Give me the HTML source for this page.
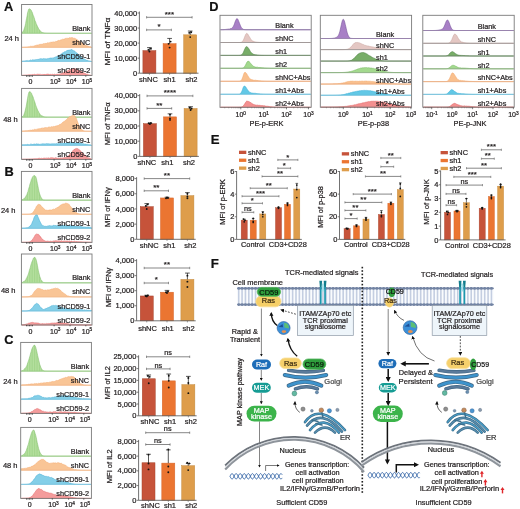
<!DOCTYPE html>
<html><head><meta charset="utf-8"><title>Figure</title>
<style>html,body{margin:0;padding:0;background:#fff;width:520px;height:509px;overflow:hidden}
svg{display:block} text{font-family:"Liberation Sans", Arial, sans-serif}</style></head>
<body><svg width="520" height="509" viewBox="0 0 520 509" fill="#231f20">
<rect width="520" height="509" fill="#fff"/>
<defs><pattern id="hatch" width="1.7" height="8" patternUnits="userSpaceOnUse"><rect width="1.7" height="8" fill="#b6e0a0"/><rect width="0.55" height="8" fill="#98cf80"/></pattern></defs>
<rect x="21.6" y="4.5" width="70.4" height="71" fill="#fff"/>
<path d="M22.1,33.3 L22.1,32.5 L22.6,32.22 L23.1,31.34 L23.6,30.53 L24.1,29.13 L24.6,27.53 L25.1,25.97 L25.6,23.73 L26.1,20.61 L26.6,18.34 L27.1,15.7 L27.6,12.71 L28.1,11.05 L28.6,9.35 L29.1,8.88 L29.6,8.75 L30.1,9.35 L30.6,9.5 L31.1,10.04 L31.6,11.19 L32.1,12.11 L32.6,13.37 L33.1,15.13 L33.6,16.04 L34.1,17.61 L34.6,19.28 L35.1,20.93 L35.6,21.76 L36.1,23.39 L36.6,24.49 L37.1,25.57 L37.6,26.77 L38.1,27.61 L38.6,28.85 L39.1,29.33 L39.6,30.25 L40.1,30.48 L40.6,31.01 L41.1,31.97 L41.6,32.28 L42.1,32.5 L42.6,32.53 L43.1,32.71 L43.6,32.85 L44.1,32.96 L44.6,33.05 L45.1,33.11 L45.6,33.16 L46.1,33.2 L46.6,33.23 L47.1,33.25 L47.6,33.26 L48.1,33.28 L48.6,33.28 L49.1,33.29 L49.6,33.29 L50.1,33.29 L50.6,33.3 L51.1,33.3 L51.6,33.3 L52.1,33.3 L52.6,33.3 L53.1,33.3 L53.6,33.3 L54.1,33.3 L54.6,33.3 L55.1,33.3 L55.6,33.3 L56.1,33.3 L56.6,33.3 L57.1,33.3 L57.6,33.3 L58.1,33.3 L58.6,33.3 L59.1,33.3 L59.6,33.3 L60.1,33.3 L60.6,33.3 L61.1,33.3 L61.6,33.3 L62.1,33.3 L62.6,33.3 L63.1,33.3 L63.6,33.3 L64.1,33.3 L64.6,33.3 L65.1,33.3 L65.6,33.3 L66.1,33.3 L66.6,33.3 L67.1,33.3 L67.6,33.3 L68.1,33.3 L68.6,33.3 L69.1,33.3 L69.6,33.3 L70.1,33.3 L70.6,33.3 L71.1,33.3 L71.6,33.3 L72.1,33.3 L72.6,33.3 L73.1,33.3 L73.6,33.3 L74.1,33.3 L74.6,33.3 L75.1,33.3 L75.6,33.3 L76.1,33.3 L76.6,33.3 L77.1,33.3 L77.6,33.3 L78.1,33.3 L78.6,33.3 L79.1,33.3 L79.6,33.3 L80.1,33.3 L80.6,33.3 L81.1,33.3 L81.6,33.3 L82.1,33.3 L82.6,33.3 L83.1,33.3 L83.6,33.3 L84.1,33.3 L84.6,33.3 L85.1,33.3 L85.6,33.3 L86.1,33.3 L86.6,33.3 L87.1,33.3 L87.6,33.3 L88.1,33.3 L88.6,33.3 L89.1,33.3 L89.6,33.3 L90.1,33.3 L90.6,33.3 L91.1,33.3 L91.5,33.3 Z" fill="url(#hatch)" stroke="#7cbb66" stroke-width="0.5" stroke-linejoin="round"/>
<line x1="22.1" y1="33.3" x2="91.5" y2="33.3" stroke="#a9d49a" stroke-width="0.7"/>
<path d="M22.1,47.4 L22.1,47.25 L22.6,47.23 L23.1,47.21 L23.6,47.19 L24.1,47.16 L24.6,47.14 L25.1,47.1 L25.6,47.07 L26.1,47.03 L26.6,46.99 L27.1,46.95 L27.6,46.9 L28.1,46.85 L28.6,46.8 L29.1,46.74 L29.6,46.68 L30.1,46.61 L30.6,46.22 L31.1,46.51 L31.6,46.3 L32.1,46.45 L32.6,46.22 L33.1,46.21 L33.6,46.14 L34.1,45.88 L34.6,45.78 L35.1,45.46 L35.6,45.51 L36.1,45.22 L36.6,45.16 L37.1,44.96 L37.6,45.07 L38.1,45.31 L38.6,44.7 L39.1,44.51 L39.6,44.44 L40.1,44.55 L40.6,44.33 L41.1,44.57 L41.6,44.02 L42.1,44.08 L42.6,44.17 L43.1,44.22 L43.6,43.55 L44.1,43.35 L44.6,43.88 L45.1,43.28 L45.6,43.45 L46.1,43.53 L46.6,43.34 L47.1,42.91 L47.6,42.74 L48.1,43.23 L48.6,42.74 L49.1,43.05 L49.6,42.49 L50.1,42.67 L50.6,42.2 L51.1,42.04 L51.6,42.28 L52.1,41.84 L52.6,42.23 L53.1,42.29 L53.6,41.82 L54.1,42.12 L54.6,41.89 L55.1,41.64 L55.6,41.38 L56.1,41.58 L56.6,41.53 L57.1,40.83 L57.6,41.08 L58.1,40.49 L58.6,40.4 L59.1,40.62 L59.6,40.41 L60.1,40.22 L60.6,39.98 L61.1,39.86 L61.6,39.73 L62.1,39.53 L62.6,39.15 L63.1,39.3 L63.6,39.21 L64.1,38.86 L64.6,39.05 L65.1,38.86 L65.6,38.26 L66.1,38.45 L66.6,38.31 L67.1,38.58 L67.6,38.19 L68.1,37.99 L68.6,38.3 L69.1,37.81 L69.6,37.75 L70.1,38.1 L70.6,37.68 L71.1,37.77 L71.6,37.62 L72.1,37.87 L72.6,37.66 L73.1,37.72 L73.6,38.33 L74.1,38.45 L74.6,38.19 L75.1,38.2 L75.6,38.94 L76.1,39.05 L76.6,39.24 L77.1,39.74 L77.6,40.03 L78.1,40.4 L78.6,40.71 L79.1,40.91 L79.6,41.47 L80.1,41.78 L80.6,41.87 L81.1,42.75 L81.6,42.72 L82.1,42.95 L82.6,43.58 L83.1,43.96 L83.6,43.86 L84.1,44.55 L84.6,44.87 L85.1,44.96 L85.6,45.02 L86.1,45.67 L86.6,45.73 L87.1,45.92 L87.6,45.75 L88.1,46.19 L88.6,46.05 L89.1,46.66 L89.6,46.67 L90.1,46.66 L90.6,46.76 L91.1,46.85 L91.5,47.4 Z" fill="#f9c596" stroke="#f2a66a" stroke-width="0.5" stroke-linejoin="round"/>
<line x1="22.1" y1="47.4" x2="91.5" y2="47.4" stroke="#f3c49c" stroke-width="0.7"/>
<path d="M22.1,61.5 L22.1,61.08 L22.6,61.04 L23.1,61.01 L23.6,60.97 L24.1,60.93 L24.6,60.89 L25.1,60.84 L25.6,60.8 L26.1,60.75 L26.6,60.59 L27.1,60.38 L27.6,60.63 L28.1,60.73 L28.6,60.74 L29.1,60.4 L29.6,60.57 L30.1,60.08 L30.6,60 L31.1,60.39 L31.6,60.26 L32.1,59.83 L32.6,59.87 L33.1,59.69 L33.6,59.95 L34.1,60.04 L34.6,59.86 L35.1,59.44 L35.6,59.74 L36.1,59.63 L36.6,59.52 L37.1,59.45 L37.6,59.4 L38.1,58.99 L38.6,59.47 L39.1,59.52 L39.6,58.81 L40.1,58.81 L40.6,58.69 L41.1,59.03 L41.6,58.63 L42.1,58.61 L42.6,59.07 L43.1,58.67 L43.6,58.57 L44.1,58.66 L44.6,58.73 L45.1,58.86 L45.6,58.8 L46.1,58.85 L46.6,58.93 L47.1,58.54 L47.6,58.72 L48.1,58.32 L48.6,58.81 L49.1,58.17 L49.6,58.27 L50.1,58.05 L50.6,58.01 L51.1,57.94 L51.6,58.08 L52.1,58.39 L52.6,57.78 L53.1,58.07 L53.6,57.85 L54.1,57.46 L54.6,57.41 L55.1,57.32 L55.6,56.77 L56.1,56.81 L56.6,56.78 L57.1,56.62 L57.6,55.95 L58.1,55.97 L58.6,55.48 L59.1,55.5 L59.6,55.32 L60.1,54.77 L60.6,54.26 L61.1,54.39 L61.6,53.63 L62.1,53.21 L62.6,52.96 L63.1,52.62 L63.6,52.86 L64.1,52.11 L64.6,51.63 L65.1,51.9 L65.6,51.46 L66.1,51.19 L66.6,50.76 L67.1,50.61 L67.6,50.37 L68.1,49.98 L68.6,50.37 L69.1,50.22 L69.6,50.08 L70.1,50.03 L70.6,50.05 L71.1,49.42 L71.6,49.57 L72.1,50.21 L72.6,50.07 L73.1,50.4 L73.6,50.65 L74.1,50.91 L74.6,51.02 L75.1,51.42 L75.6,51.97 L76.1,52.5 L76.6,52.84 L77.1,53.43 L77.6,53.59 L78.1,53.94 L78.6,54.65 L79.1,55.33 L79.6,55.73 L80.1,56.04 L80.6,56.33 L81.1,56.63 L81.6,57.32 L82.1,57.42 L82.6,57.92 L83.1,58.4 L83.6,58.77 L84.1,58.99 L84.6,59.13 L85.1,59.58 L85.6,59.63 L86.1,60 L86.6,60.35 L87.1,60.32 L87.6,60.37 L88.1,60.94 L88.6,60.76 L89.1,60.87 L89.6,60.97 L90.1,61.05 L90.6,61.12 L91.1,61.18 L91.5,61.5 Z" fill="#84cfe8" stroke="#3eabd3" stroke-width="0.5" stroke-linejoin="round"/>
<line x1="22.1" y1="61.5" x2="91.5" y2="61.5" stroke="#8fcde4" stroke-width="0.7"/>
<path d="M22.1,75.5 L22.1,75.13 L22.6,75.11 L23.1,75.09 L23.6,75.07 L24.1,75.05 L24.6,75.02 L25.1,75 L25.6,74.98 L26.1,74.96 L26.6,74.93 L27.1,74.91 L27.6,74.89 L28.1,74.86 L28.6,74.84 L29.1,74.82 L29.6,74.79 L30.1,74.77 L30.6,74.74 L31.1,74.72 L31.6,74.75 L32.1,74.72 L32.6,74.38 L33.1,74.32 L33.6,74.69 L34.1,74.3 L34.6,74.35 L35.1,74.7 L35.6,74.54 L36.1,74.76 L36.6,74.25 L37.1,74.34 L37.6,74.17 L38.1,74.22 L38.6,74.29 L39.1,74.23 L39.6,74.33 L40.1,74.64 L40.6,74.29 L41.1,74.69 L41.6,74.58 L42.1,74.13 L42.6,74.63 L43.1,74.59 L43.6,74.59 L44.1,74.04 L44.6,74.52 L45.1,74.63 L45.6,74.06 L46.1,74.57 L46.6,74.06 L47.1,74.19 L47.6,74.08 L48.1,74 L48.6,74.27 L49.1,74.12 L49.6,74.66 L50.1,74.16 L50.6,74.35 L51.1,74.21 L51.6,74.65 L52.1,74.2 L52.6,74.08 L53.1,74.69 L53.6,74.51 L54.1,74.34 L54.6,74.15 L55.1,74.55 L55.6,74.58 L56.1,74.52 L56.6,74.23 L57.1,74.1 L57.6,74.31 L58.1,74.28 L58.6,74.2 L59.1,74.16 L59.6,74.03 L60.1,74.16 L60.6,73.76 L61.1,73.3 L61.6,73.56 L62.1,73.17 L62.6,73.41 L63.1,72.85 L63.6,72.61 L64.1,72.45 L64.6,72.34 L65.1,72.13 L65.6,71.77 L66.1,71.34 L66.6,71.6 L67.1,71.38 L67.6,70.66 L68.1,70.29 L68.6,70.31 L69.1,70.12 L69.6,69.7 L70.1,69.86 L70.6,69.61 L71.1,69.48 L71.6,69.06 L72.1,69.13 L72.6,69.1 L73.1,68.71 L73.6,68.5 L74.1,68.96 L74.6,68.71 L75.1,68.98 L75.6,68.77 L76.1,69.09 L76.6,69.47 L77.1,69.68 L77.6,70.03 L78.1,69.93 L78.6,70.25 L79.1,70.65 L79.6,70.79 L80.1,71.1 L80.6,71.07 L81.1,71.8 L81.6,71.49 L82.1,72.13 L82.6,72.32 L83.1,72.68 L83.6,72.68 L84.1,72.94 L84.6,73.36 L85.1,73.63 L85.6,73.67 L86.1,73.76 L86.6,74.26 L87.1,74.18 L87.6,74.17 L88.1,74.65 L88.6,74.74 L89.1,74.85 L89.6,74.94 L90.1,75.03 L90.6,75.1 L91.1,75.16 L91.5,75.5 Z" fill="#f49c9c" stroke="#e06464" stroke-width="0.5" stroke-linejoin="round"/>
<line x1="22.1" y1="75.5" x2="91.5" y2="75.5" stroke="#eea3a3" stroke-width="0.7"/>
<text x="90.4" y="30.8" font-size="7.3" text-anchor="end" fill="#231f20" stroke="#231f20" stroke-width="0.22">Blank</text>
<text x="90.4" y="44.9" font-size="7.3" text-anchor="end" fill="#231f20" stroke="#231f20" stroke-width="0.22">shNC</text>
<text x="90.4" y="59" font-size="7.3" text-anchor="end" fill="#231f20" stroke="#231f20" stroke-width="0.22">shCD59-1</text>
<text x="90.4" y="73" font-size="7.3" text-anchor="end" fill="#231f20" stroke="#231f20" stroke-width="0.22">shCD59-2</text>
<rect x="21.6" y="4.5" width="70.4" height="71" fill="none" stroke="#7a7a7a" stroke-width="0.9"/>
<line x1="26.5" y1="75.5" x2="26.5" y2="76.8" stroke="#111" stroke-width="0.6"/>
<line x1="28" y1="75.5" x2="28" y2="76.8" stroke="#111" stroke-width="0.6"/>
<line x1="29.5" y1="75.5" x2="29.5" y2="76.8" stroke="#111" stroke-width="0.6"/>
<line x1="31" y1="75.5" x2="31" y2="76.8" stroke="#111" stroke-width="0.6"/>
<line x1="32.5" y1="75.5" x2="32.5" y2="76.8" stroke="#111" stroke-width="0.6"/>
<line x1="54.1" y1="75.5" x2="54.1" y2="76.8" stroke="#111" stroke-width="0.6"/>
<line x1="70" y1="75.5" x2="70" y2="76.8" stroke="#111" stroke-width="0.6"/>
<line x1="85.8" y1="75.5" x2="85.8" y2="76.8" stroke="#111" stroke-width="0.6"/>
<text x="30.4" y="84.1" font-size="7" text-anchor="middle" fill="#231f20" stroke="#231f20" stroke-width="0.22">0</text>
<text x="55.3" y="84.1" font-size="7" text-anchor="middle" fill="#231f20" stroke="#231f20" stroke-width="0.22">10<tspan font-size="4.8" dy="-2.5">3</tspan></text>
<text x="71.2" y="84.1" font-size="7" text-anchor="middle" fill="#231f20" stroke="#231f20" stroke-width="0.22">10<tspan font-size="4.8" dy="-2.5">4</tspan></text>
<text x="87" y="84.1" font-size="7" text-anchor="middle" fill="#231f20" stroke="#231f20" stroke-width="0.22">10<tspan font-size="4.8" dy="-2.5">5</tspan></text>
<text x="4.4" y="40.9" font-size="7.5" fill="#231f20" stroke="#231f20" stroke-width="0.22">24 h</text>
<rect x="21.6" y="88.4" width="70.4" height="71" fill="#fff"/>
<path d="M22.1,117.2 L22.1,116.75 L22.6,116.44 L23.1,116.16 L23.6,115.46 L24.1,114.14 L24.6,112.83 L25.1,110.91 L25.6,108.86 L26.1,106.79 L26.6,104.05 L27.1,101.08 L27.6,98.28 L28.1,95.36 L28.6,93.21 L29.1,91.87 L29.6,91.87 L30.1,91.57 L30.6,92.32 L31.1,92.85 L31.6,93.46 L32.1,94.92 L32.6,96.1 L33.1,96.89 L33.6,98.69 L34.1,100.13 L34.6,101.49 L35.1,102.95 L35.6,104.92 L36.1,106.14 L36.6,107.45 L37.1,108.71 L37.6,110.1 L38.1,110.92 L38.6,111.64 L39.1,112.9 L39.6,113.55 L40.1,114.51 L40.6,114.96 L41.1,115.16 L41.6,115.94 L42.1,115.72 L42.6,115.97 L43.1,116.47 L43.6,116.65 L44.1,116.78 L44.6,116.89 L45.1,116.97 L45.6,117.03 L46.1,117.07 L46.6,117.11 L47.1,117.14 L47.6,117.15 L48.1,117.17 L48.6,117.18 L49.1,117.18 L49.6,117.19 L50.1,117.19 L50.6,117.2 L51.1,117.2 L51.6,117.2 L52.1,117.2 L52.6,117.2 L53.1,117.2 L53.6,117.2 L54.1,117.2 L54.6,117.2 L55.1,117.2 L55.6,117.2 L56.1,117.2 L56.6,117.2 L57.1,117.2 L57.6,117.2 L58.1,117.2 L58.6,117.2 L59.1,117.2 L59.6,117.2 L60.1,117.2 L60.6,117.2 L61.1,117.2 L61.6,117.2 L62.1,117.2 L62.6,117.2 L63.1,117.2 L63.6,117.2 L64.1,117.2 L64.6,117.2 L65.1,117.2 L65.6,117.2 L66.1,117.2 L66.6,117.2 L67.1,117.2 L67.6,117.2 L68.1,117.2 L68.6,117.2 L69.1,117.2 L69.6,117.2 L70.1,117.2 L70.6,117.2 L71.1,117.2 L71.6,117.2 L72.1,117.2 L72.6,117.2 L73.1,117.2 L73.6,117.2 L74.1,117.2 L74.6,117.2 L75.1,117.2 L75.6,117.2 L76.1,117.2 L76.6,117.2 L77.1,117.2 L77.6,117.2 L78.1,117.2 L78.6,117.2 L79.1,117.2 L79.6,117.2 L80.1,117.2 L80.6,117.2 L81.1,117.2 L81.6,117.2 L82.1,117.2 L82.6,117.2 L83.1,117.2 L83.6,117.2 L84.1,117.2 L84.6,117.2 L85.1,117.2 L85.6,117.2 L86.1,117.2 L86.6,117.2 L87.1,117.2 L87.6,117.2 L88.1,117.2 L88.6,117.2 L89.1,117.2 L89.6,117.2 L90.1,117.2 L90.6,117.2 L91.1,117.2 L91.5,117.2 Z" fill="url(#hatch)" stroke="#7cbb66" stroke-width="0.5" stroke-linejoin="round"/>
<line x1="22.1" y1="117.2" x2="91.5" y2="117.2" stroke="#a9d49a" stroke-width="0.7"/>
<path d="M22.1,131.3 L22.1,131.05 L22.6,131.02 L23.1,130.99 L23.6,130.96 L24.1,130.93 L24.6,130.9 L25.1,130.86 L25.6,130.82 L26.1,130.78 L26.6,130.73 L27.1,130.68 L27.6,130.63 L28.1,130.58 L28.6,130.53 L29.1,130.75 L29.6,130.1 L30.1,130.43 L30.6,130.08 L31.1,130.02 L31.6,130.27 L32.1,129.93 L32.6,129.86 L33.1,129.68 L33.6,129.97 L34.1,129.54 L34.6,129.31 L35.1,129.42 L35.6,129.42 L36.1,129.63 L36.6,129.26 L37.1,129.27 L37.6,128.91 L38.1,128.85 L38.6,128.83 L39.1,129 L39.6,128.58 L40.1,128.49 L40.6,128.71 L41.1,128.12 L41.6,128.19 L42.1,128.48 L42.6,127.82 L43.1,128.29 L43.6,128.07 L44.1,127.72 L44.6,127.72 L45.1,127.68 L45.6,127.54 L46.1,127.6 L46.6,127.63 L47.1,127.66 L47.6,127.67 L48.1,127.15 L48.6,127.06 L49.1,127.14 L49.6,126.94 L50.1,127.14 L50.6,127.14 L51.1,127 L51.6,126.59 L52.1,127.1 L52.6,126.71 L53.1,126.81 L53.6,126.36 L54.1,126.56 L54.6,126.48 L55.1,126.32 L55.6,126.11 L56.1,125.81 L56.6,125.96 L57.1,125.45 L57.6,125.78 L58.1,125.47 L58.6,125.37 L59.1,125.12 L59.6,124.4 L60.1,124.16 L60.6,124.24 L61.1,123.92 L61.6,123.42 L62.1,122.84 L62.6,122.41 L63.1,122.07 L63.6,121.78 L64.1,121.68 L64.6,121.08 L65.1,120.79 L65.6,120.13 L66.1,119.67 L66.6,119.5 L67.1,119.04 L67.6,118.26 L68.1,118.39 L68.6,117.47 L69.1,117.05 L69.6,116.67 L70.1,116.77 L70.6,116.38 L71.1,116.12 L71.6,115.88 L72.1,115.48 L72.6,115.56 L73.1,115.75 L73.6,115.33 L74.1,115.61 L74.6,115.76 L75.1,116.19 L75.6,117.46 L76.1,117.91 L76.6,119.13 L77.1,120.51 L77.6,121.8 L78.1,123.15 L78.6,124.6 L79.1,125.54 L79.6,126.95 L80.1,127.57 L80.6,128.28 L81.1,129.09 L81.6,129.56 L82.1,129.72 L82.6,130.11 L83.1,130.65 L83.6,130.84 L84.1,130.99 L84.6,131.09 L85.1,131.16 L85.6,131.21 L86.1,131.24 L86.6,131.26 L87.1,131.28 L87.6,131.28 L88.1,131.29 L88.6,131.29 L89.1,131.3 L89.6,131.3 L90.1,131.3 L90.6,131.3 L91.1,131.3 L91.5,131.3 Z" fill="#f9c596" stroke="#f2a66a" stroke-width="0.5" stroke-linejoin="round"/>
<line x1="22.1" y1="131.3" x2="91.5" y2="131.3" stroke="#f3c49c" stroke-width="0.7"/>
<path d="M22.1,145.4 L22.1,144.8 L22.6,144.77 L23.1,144.75 L23.6,144.73 L24.1,144.71 L24.6,144.69 L25.1,144.66 L25.6,144.64 L26.1,144.62 L26.6,144.85 L27.1,144.36 L27.6,144.46 L28.1,144.84 L28.6,144.6 L29.1,144.66 L29.6,144.74 L30.1,144.4 L30.6,144.1 L31.1,144.5 L31.6,144.09 L32.1,144.19 L32.6,144.56 L33.1,144.03 L33.6,144.19 L34.1,143.93 L34.6,144.06 L35.1,144.02 L35.6,144.27 L36.1,143.93 L36.6,143.82 L37.1,143.85 L37.6,144.12 L38.1,143.88 L38.6,144.05 L39.1,144.29 L39.6,144.32 L40.1,144.28 L40.6,144.17 L41.1,144.18 L41.6,143.93 L42.1,143.77 L42.6,143.87 L43.1,143.93 L43.6,143.76 L44.1,143.99 L44.6,143.86 L45.1,143.64 L45.6,143.88 L46.1,144.02 L46.6,143.51 L47.1,143.62 L47.6,143.86 L48.1,143.84 L48.6,143.72 L49.1,143.66 L49.6,143.91 L50.1,144.06 L50.6,143.9 L51.1,143.49 L51.6,143.93 L52.1,143.69 L52.6,143.86 L53.1,143.84 L53.6,143.85 L54.1,143.68 L54.6,143.82 L55.1,143.91 L55.6,143.83 L56.1,143.77 L56.6,143.52 L57.1,143.8 L57.6,143.81 L58.1,143.48 L58.6,143.48 L59.1,143.25 L59.6,143.68 L60.1,143.4 L60.6,143.37 L61.1,143.6 L61.6,142.91 L62.1,143.39 L62.6,143.44 L63.1,143.14 L63.6,143.32 L64.1,142.96 L64.6,143.12 L65.1,143.23 L65.6,143.25 L66.1,142.74 L66.6,143.02 L67.1,142.62 L67.6,142.82 L68.1,142.46 L68.6,142.87 L69.1,142.88 L69.6,142.85 L70.1,142.44 L70.6,142.55 L71.1,142.74 L71.6,142.9 L72.1,142.49 L72.6,142.28 L73.1,142.55 L73.6,142.97 L74.1,142.96 L74.6,142.94 L75.1,142.9 L75.6,143.02 L76.1,143.05 L76.6,142.67 L77.1,142.55 L77.6,143.09 L78.1,142.62 L78.6,143.03 L79.1,142.88 L79.6,142.88 L80.1,142.94 L80.6,143.66 L81.1,143.56 L81.6,143.44 L82.1,143.3 L82.6,143.99 L83.1,143.94 L83.6,143.64 L84.1,144.25 L84.6,144.15 L85.1,144.27 L85.6,144.11 L86.1,144.02 L86.6,144.63 L87.1,144.31 L87.6,144.38 L88.1,144.62 L88.6,144.68 L89.1,144.74 L89.6,144.8 L90.1,144.85 L90.6,144.9 L91.1,144.94 L91.5,145.4 Z" fill="#84cfe8" stroke="#3eabd3" stroke-width="0.5" stroke-linejoin="round"/>
<line x1="22.1" y1="145.4" x2="91.5" y2="145.4" stroke="#8fcde4" stroke-width="0.7"/>
<path d="M22.1,159.4 L22.1,159.26 L22.6,159.25 L23.1,159.24 L23.6,159.23 L24.1,159.22 L24.6,159.21 L25.1,159.19 L25.6,159.18 L26.1,159.17 L26.6,159.15 L27.1,159.13 L27.6,159.12 L28.1,159.1 L28.6,159.08 L29.1,159.06 L29.6,159.04 L30.1,159.02 L30.6,159 L31.1,158.98 L31.6,158.96 L32.1,158.93 L32.6,158.91 L33.1,158.88 L33.6,158.86 L34.1,158.83 L34.6,158.81 L35.1,158.78 L35.6,158.75 L36.1,158.72 L36.6,158.69 L37.1,158.66 L37.6,158.63 L38.1,158.6 L38.6,158.34 L39.1,158.51 L39.6,158.22 L40.1,158.58 L40.6,158.51 L41.1,158.61 L41.6,158.2 L42.1,158.38 L42.6,158.5 L43.1,158.54 L43.6,158.12 L44.1,158.17 L44.6,158.07 L45.1,158.27 L45.6,158.18 L46.1,158.38 L46.6,157.97 L47.1,158.43 L47.6,158.1 L48.1,157.87 L48.6,157.91 L49.1,158.29 L49.6,158.18 L50.1,157.74 L50.6,157.86 L51.1,157.68 L51.6,157.68 L52.1,157.96 L52.6,157.64 L53.1,157.75 L53.6,158.02 L54.1,157.99 L54.6,158.2 L55.1,157.97 L55.6,157.58 L56.1,158.18 L56.6,157.86 L57.1,158.19 L57.6,158.22 L58.1,157.83 L58.6,158.13 L59.1,158.28 L59.6,158.21 L60.1,157.88 L60.6,157.93 L61.1,158.33 L61.6,158.18 L62.1,157.65 L62.6,158.15 L63.1,157.87 L63.6,157.92 L64.1,157.59 L64.6,157.62 L65.1,157.36 L65.6,157.38 L66.1,157.43 L66.6,157.21 L67.1,157 L67.6,156.15 L68.1,156.28 L68.6,155.93 L69.1,154.81 L69.6,154.84 L70.1,153.82 L70.6,153.81 L71.1,152.95 L71.6,152.52 L72.1,151.5 L72.6,151.06 L73.1,150.49 L73.6,149.89 L74.1,149.36 L74.6,149.34 L75.1,148.86 L75.6,148.76 L76.1,148.89 L76.6,148.37 L77.1,148.61 L77.6,148.6 L78.1,149.24 L78.6,149.28 L79.1,149.67 L79.6,149.87 L80.1,150.76 L80.6,151.04 L81.1,151.44 L81.6,152.25 L82.1,152.45 L82.6,152.87 L83.1,153.62 L83.6,154 L84.1,154.54 L84.6,155.31 L85.1,155.68 L85.6,155.67 L86.1,156.54 L86.6,156.86 L87.1,157.44 L87.6,157.66 L88.1,157.98 L88.6,157.69 L89.1,158.06 L89.6,158.15 L90.1,158.23 L90.6,158.72 L91.1,158.84 L91.5,159.4 Z" fill="#f49c9c" stroke="#e06464" stroke-width="0.5" stroke-linejoin="round"/>
<line x1="22.1" y1="159.4" x2="91.5" y2="159.4" stroke="#eea3a3" stroke-width="0.7"/>
<text x="90.4" y="114.7" font-size="7.3" text-anchor="end" fill="#231f20" stroke="#231f20" stroke-width="0.22">Blank</text>
<text x="90.4" y="128.8" font-size="7.3" text-anchor="end" fill="#231f20" stroke="#231f20" stroke-width="0.22">shNC</text>
<text x="90.4" y="142.9" font-size="7.3" text-anchor="end" fill="#231f20" stroke="#231f20" stroke-width="0.22">shCD59-1</text>
<text x="90.4" y="156.9" font-size="7.3" text-anchor="end" fill="#231f20" stroke="#231f20" stroke-width="0.22">shCD59-2</text>
<rect x="21.6" y="88.4" width="70.4" height="71" fill="none" stroke="#7a7a7a" stroke-width="0.9"/>
<line x1="26.5" y1="159.4" x2="26.5" y2="160.7" stroke="#111" stroke-width="0.6"/>
<line x1="28" y1="159.4" x2="28" y2="160.7" stroke="#111" stroke-width="0.6"/>
<line x1="29.5" y1="159.4" x2="29.5" y2="160.7" stroke="#111" stroke-width="0.6"/>
<line x1="31" y1="159.4" x2="31" y2="160.7" stroke="#111" stroke-width="0.6"/>
<line x1="32.5" y1="159.4" x2="32.5" y2="160.7" stroke="#111" stroke-width="0.6"/>
<line x1="54.1" y1="159.4" x2="54.1" y2="160.7" stroke="#111" stroke-width="0.6"/>
<line x1="70" y1="159.4" x2="70" y2="160.7" stroke="#111" stroke-width="0.6"/>
<line x1="85.8" y1="159.4" x2="85.8" y2="160.7" stroke="#111" stroke-width="0.6"/>
<text x="30.4" y="168" font-size="7" text-anchor="middle" fill="#231f20" stroke="#231f20" stroke-width="0.22">0</text>
<text x="55.3" y="168" font-size="7" text-anchor="middle" fill="#231f20" stroke="#231f20" stroke-width="0.22">10<tspan font-size="4.8" dy="-2.5">3</tspan></text>
<text x="71.2" y="168" font-size="7" text-anchor="middle" fill="#231f20" stroke="#231f20" stroke-width="0.22">10<tspan font-size="4.8" dy="-2.5">4</tspan></text>
<text x="87" y="168" font-size="7" text-anchor="middle" fill="#231f20" stroke="#231f20" stroke-width="0.22">10<tspan font-size="4.8" dy="-2.5">5</tspan></text>
<text x="3.2" y="121.8" font-size="7.5" fill="#231f20" stroke="#231f20" stroke-width="0.22">48 h</text>
<rect x="21.4" y="171.4" width="70.6" height="71" fill="#fff"/>
<path d="M21.9,200.2 L21.9,199.77 L22.4,199.62 L22.9,199.42 L23.4,199.09 L23.9,198.54 L24.4,198.42 L24.9,197.99 L25.4,197 L25.9,196.26 L26.4,195.3 L26.9,194.52 L27.4,193.02 L27.9,191.79 L28.4,189.71 L28.9,187.97 L29.4,186.53 L29.9,184.2 L30.4,182.91 L30.9,181.3 L31.4,179.38 L31.9,178.42 L32.4,177.25 L32.9,176.39 L33.4,176.26 L33.9,175.44 L34.4,175.65 L34.9,175.63 L35.4,176.14 L35.9,176.94 L36.4,178.59 L36.9,181.02 L37.4,183.56 L37.9,185.97 L38.4,188.41 L38.9,191.02 L39.4,193.09 L39.9,194.48 L40.4,196.02 L40.9,197.01 L41.4,197.9 L41.9,198.63 L42.4,199.44 L42.9,199.67 L43.4,199.88 L43.9,200.01 L44.4,200.09 L44.9,200.14 L45.4,200.17 L45.9,200.18 L46.4,200.19 L46.9,200.2 L47.4,200.2 L47.9,200.2 L48.4,200.2 L48.9,200.2 L49.4,200.2 L49.9,200.2 L50.4,200.2 L50.9,200.2 L51.4,200.2 L51.9,200.2 L52.4,200.2 L52.9,200.2 L53.4,200.2 L53.9,200.2 L54.4,200.2 L54.9,200.2 L55.4,200.2 L55.9,200.2 L56.4,200.2 L56.9,200.2 L57.4,200.2 L57.9,200.2 L58.4,200.2 L58.9,200.2 L59.4,200.2 L59.9,200.2 L60.4,200.2 L60.9,200.2 L61.4,200.2 L61.9,200.2 L62.4,200.2 L62.9,200.2 L63.4,200.2 L63.9,200.2 L64.4,200.2 L64.9,200.2 L65.4,200.2 L65.9,200.2 L66.4,200.2 L66.9,200.2 L67.4,200.2 L67.9,200.2 L68.4,200.2 L68.9,200.2 L69.4,200.2 L69.9,200.2 L70.4,200.2 L70.9,200.2 L71.4,200.2 L71.9,200.2 L72.4,200.2 L72.9,200.2 L73.4,200.2 L73.9,200.2 L74.4,200.2 L74.9,200.2 L75.4,200.2 L75.9,200.2 L76.4,200.2 L76.9,200.2 L77.4,200.2 L77.9,200.2 L78.4,200.2 L78.9,200.2 L79.4,200.2 L79.9,200.2 L80.4,200.2 L80.9,200.2 L81.4,200.2 L81.9,200.2 L82.4,200.2 L82.9,200.2 L83.4,200.2 L83.9,200.2 L84.4,200.2 L84.9,200.2 L85.4,200.2 L85.9,200.2 L86.4,200.2 L86.9,200.2 L87.4,200.2 L87.9,200.2 L88.4,200.2 L88.9,200.2 L89.4,200.2 L89.9,200.2 L90.4,200.2 L90.9,200.2 L91.4,200.2 L91.5,200.2 Z" fill="url(#hatch)" stroke="#7cbb66" stroke-width="0.5" stroke-linejoin="round"/>
<line x1="21.9" y1="200.2" x2="91.5" y2="200.2" stroke="#a9d49a" stroke-width="0.7"/>
<path d="M21.9,214.3 L21.9,214.3 L22.4,214.3 L22.9,214.3 L23.4,214.3 L23.9,214.3 L24.4,214.3 L24.9,214.3 L25.4,214.3 L25.9,214.29 L26.4,214.29 L26.9,214.28 L27.4,214.27 L27.9,214.26 L28.4,214.23 L28.9,214.19 L29.4,214.13 L29.9,214.04 L30.4,213.91 L30.9,213.74 L31.4,213.5 L31.9,213.43 L32.4,212.93 L32.9,212.33 L33.4,211.7 L33.9,211 L34.4,210.34 L34.9,209.14 L35.4,208.64 L35.9,207.6 L36.4,206.43 L36.9,205.68 L37.4,205.35 L37.9,204.86 L38.4,204.13 L38.9,204.55 L39.4,204.52 L39.9,204.48 L40.4,204.86 L40.9,205.62 L41.4,206.29 L41.9,206.81 L42.4,207.06 L42.9,207.88 L43.4,208.08 L43.9,208.7 L44.4,208.97 L44.9,209.94 L45.4,210.06 L45.9,210.32 L46.4,210.11 L46.9,210.21 L47.4,210.41 L47.9,210.03 L48.4,210.31 L48.9,210.12 L49.4,210.12 L49.9,209.69 L50.4,209.92 L50.9,209.99 L51.4,210.1 L51.9,209.77 L52.4,209.56 L52.9,209.43 L53.4,209.15 L53.9,209.08 L54.4,209.3 L54.9,209.17 L55.4,208.51 L55.9,208.23 L56.4,208.15 L56.9,207.62 L57.4,207.5 L57.9,207.36 L58.4,207.11 L58.9,206.87 L59.4,206.1 L59.9,205.58 L60.4,205.25 L60.9,205.24 L61.4,204.81 L61.9,204.34 L62.4,204.16 L62.9,204.07 L63.4,203.99 L63.9,203.74 L64.4,203.83 L64.9,203.69 L65.4,203.25 L65.9,202.98 L66.4,203.27 L66.9,203.4 L67.4,203.58 L67.9,203.75 L68.4,203.85 L68.9,204.53 L69.4,204.68 L69.9,205.81 L70.4,206.31 L70.9,206.82 L71.4,207.56 L71.9,207.92 L72.4,208.59 L72.9,209.15 L73.4,209.98 L73.9,210.95 L74.4,211.09 L74.9,211.58 L75.4,212.05 L75.9,212.58 L76.4,212.6 L76.9,212.75 L77.4,213.56 L77.9,213.36 L78.4,213.65 L78.9,213.79 L79.4,213.91 L79.9,214 L80.4,214.07 L80.9,214.13 L81.4,214.17 L81.9,214.2 L82.4,214.23 L82.9,214.25 L83.4,214.26 L83.9,214.27 L84.4,214.28 L84.9,214.29 L85.4,214.29 L85.9,214.29 L86.4,214.3 L86.9,214.3 L87.4,214.3 L87.9,214.3 L88.4,214.3 L88.9,214.3 L89.4,214.3 L89.9,214.3 L90.4,214.3 L90.9,214.3 L91.4,214.3 L91.5,214.3 Z" fill="#f9c596" stroke="#f2a66a" stroke-width="0.5" stroke-linejoin="round"/>
<line x1="21.9" y1="214.3" x2="91.5" y2="214.3" stroke="#f3c49c" stroke-width="0.7"/>
<path d="M21.9,228.4 L21.9,228.08 L22.4,228.06 L22.9,228.04 L23.4,228.02 L23.9,228 L24.4,227.97 L24.9,227.94 L25.4,227.91 L25.9,227.87 L26.4,227.82 L26.9,227.75 L27.4,227.66 L27.9,227.63 L28.4,227.36 L28.9,226.85 L29.4,226.48 L29.9,226.27 L30.4,226.03 L30.9,224.82 L31.4,224.48 L31.9,223.33 L32.4,221.87 L32.9,220.99 L33.4,219.72 L33.9,217.96 L34.4,216.77 L34.9,216.18 L35.4,215.35 L35.9,214.94 L36.4,214.9 L36.9,215.04 L37.4,215.13 L37.9,216.67 L38.4,217.69 L38.9,218.98 L39.4,220.36 L39.9,221.3 L40.4,222.29 L40.9,223.21 L41.4,224.17 L41.9,224.68 L42.4,225.72 L42.9,225.86 L43.4,225.61 L43.9,226.38 L44.4,226.31 L44.9,226.19 L45.4,226.34 L45.9,226.13 L46.4,226.44 L46.9,226.27 L47.4,225.73 L47.9,226.25 L48.4,225.68 L48.9,226.14 L49.4,225.53 L49.9,225.71 L50.4,225.69 L50.9,226.01 L51.4,226.04 L51.9,225.51 L52.4,225.88 L52.9,225.84 L53.4,225.37 L53.9,225.31 L54.4,225.86 L54.9,225.2 L55.4,225.47 L55.9,225.56 L56.4,225.73 L56.9,225.52 L57.4,225.09 L57.9,225.57 L58.4,225.67 L58.9,225.65 L59.4,225.66 L59.9,225.5 L60.4,225.11 L60.9,225.7 L61.4,225.62 L61.9,225.11 L62.4,225.07 L62.9,225.1 L63.4,225.62 L63.9,225.56 L64.4,225.16 L64.9,225.5 L65.4,225.36 L65.9,225.66 L66.4,225.88 L66.9,225.68 L67.4,225.42 L67.9,225.43 L68.4,225.61 L68.9,225.71 L69.4,225.69 L69.9,225.79 L70.4,225.76 L70.9,225.58 L71.4,226.06 L71.9,225.82 L72.4,225.62 L72.9,225.72 L73.4,226.23 L73.9,225.72 L74.4,225.85 L74.9,226.36 L75.4,226.33 L75.9,226.42 L76.4,226.57 L76.9,225.97 L77.4,226.41 L77.9,226.13 L78.4,226.7 L78.9,226.82 L79.4,226.27 L79.9,226.37 L80.4,226.27 L80.9,226.53 L81.4,226.69 L81.9,226.57 L82.4,227.08 L82.9,226.81 L83.4,226.93 L83.9,227.18 L84.4,226.9 L84.9,227.14 L85.4,227.06 L85.9,227.19 L86.4,227.27 L86.9,227.28 L87.4,227.16 L87.9,226.93 L88.4,227 L88.9,227.09 L89.4,227.15 L89.9,227.57 L90.4,227.12 L90.9,227.65 L91.4,227.79 L91.5,228.4 Z" fill="#84cfe8" stroke="#3eabd3" stroke-width="0.5" stroke-linejoin="round"/>
<line x1="21.9" y1="228.4" x2="91.5" y2="228.4" stroke="#8fcde4" stroke-width="0.7"/>
<path d="M21.9,242.4 L21.9,242.34 L22.4,242.34 L22.9,242.33 L23.4,242.32 L23.9,242.32 L24.4,242.31 L24.9,242.3 L25.4,242.29 L25.9,242.28 L26.4,242.26 L26.9,242.24 L27.4,242.21 L27.9,242.17 L28.4,242.11 L28.9,242.02 L29.4,241.89 L29.9,241.71 L30.4,241.47 L30.9,241 L31.4,240.87 L31.9,240.15 L32.4,239.81 L32.9,238.64 L33.4,238.23 L33.9,237.39 L34.4,236.53 L34.9,235.51 L35.4,234.73 L35.9,234.49 L36.4,234.16 L36.9,233.86 L37.4,234.27 L37.9,234.21 L38.4,234.24 L38.9,234.74 L39.4,235.8 L39.9,235.87 L40.4,236.85 L40.9,237.1 L41.4,238.17 L41.9,238.87 L42.4,239.18 L42.9,239.42 L43.4,240.13 L43.9,240.15 L44.4,240.52 L44.9,240.97 L45.4,241.16 L45.9,241.12 L46.4,241.26 L46.9,241.32 L47.4,241.14 L47.9,240.99 L48.4,241.19 L48.9,241.48 L49.4,241.41 L49.9,241.29 L50.4,241.09 L50.9,241.4 L51.4,241.42 L51.9,241.23 L52.4,241.23 L52.9,241.39 L53.4,241.01 L53.9,240.72 L54.4,240.98 L54.9,240.82 L55.4,240.74 L55.9,240.72 L56.4,240.65 L56.9,240.97 L57.4,240.79 L57.9,241.18 L58.4,240.64 L58.9,240.99 L59.4,240.92 L59.9,240.63 L60.4,241.05 L60.9,241.12 L61.4,240.68 L61.9,240.84 L62.4,241.21 L62.9,241.26 L63.4,241.04 L63.9,241.29 L64.4,240.73 L64.9,241.2 L65.4,241.15 L65.9,241.09 L66.4,241.02 L66.9,241.1 L67.4,240.98 L67.9,240.98 L68.4,241.16 L68.9,241.42 L69.4,240.83 L69.9,241.06 L70.4,241.51 L70.9,241.29 L71.4,241.1 L71.9,240.96 L72.4,241.64 L72.9,241.71 L73.4,241.41 L73.9,241.48 L74.4,241.18 L74.9,241.26 L75.4,241.63 L75.9,241.6 L76.4,241.52 L76.9,241.6 L77.4,241.63 L77.9,241.66 L78.4,241.69 L78.9,241.72 L79.4,241.75 L79.9,241.78 L80.4,241.81 L80.9,241.83 L81.4,241.86 L81.9,241.88 L82.4,241.91 L82.9,241.93 L83.4,241.96 L83.9,241.98 L84.4,242 L84.9,242.02 L85.4,242.04 L85.9,242.06 L86.4,242.08 L86.9,242.1 L87.4,242.12 L87.9,242.13 L88.4,242.15 L88.9,242.17 L89.4,242.18 L89.9,242.19 L90.4,242.21 L90.9,242.22 L91.4,242.23 L91.5,242.4 Z" fill="#f49c9c" stroke="#e06464" stroke-width="0.5" stroke-linejoin="round"/>
<line x1="21.9" y1="242.4" x2="91.5" y2="242.4" stroke="#eea3a3" stroke-width="0.7"/>
<text x="90.4" y="197.7" font-size="7.3" text-anchor="end" fill="#231f20" stroke="#231f20" stroke-width="0.22">Blank</text>
<text x="90.4" y="211.8" font-size="7.3" text-anchor="end" fill="#231f20" stroke="#231f20" stroke-width="0.22">shNC</text>
<text x="90.4" y="225.9" font-size="7.3" text-anchor="end" fill="#231f20" stroke="#231f20" stroke-width="0.22">shCD59-1</text>
<text x="90.4" y="239.9" font-size="7.3" text-anchor="end" fill="#231f20" stroke="#231f20" stroke-width="0.22">shCD59-2</text>
<rect x="21.4" y="171.4" width="70.6" height="71" fill="none" stroke="#7a7a7a" stroke-width="0.9"/>
<line x1="26.5" y1="242.4" x2="26.5" y2="243.7" stroke="#111" stroke-width="0.6"/>
<line x1="28" y1="242.4" x2="28" y2="243.7" stroke="#111" stroke-width="0.6"/>
<line x1="29.5" y1="242.4" x2="29.5" y2="243.7" stroke="#111" stroke-width="0.6"/>
<line x1="31" y1="242.4" x2="31" y2="243.7" stroke="#111" stroke-width="0.6"/>
<line x1="32.5" y1="242.4" x2="32.5" y2="243.7" stroke="#111" stroke-width="0.6"/>
<line x1="54.1" y1="242.4" x2="54.1" y2="243.7" stroke="#111" stroke-width="0.6"/>
<line x1="70" y1="242.4" x2="70" y2="243.7" stroke="#111" stroke-width="0.6"/>
<line x1="85.8" y1="242.4" x2="85.8" y2="243.7" stroke="#111" stroke-width="0.6"/>
<text x="30.4" y="251" font-size="7" text-anchor="middle" fill="#231f20" stroke="#231f20" stroke-width="0.22">0</text>
<text x="55.3" y="251" font-size="7" text-anchor="middle" fill="#231f20" stroke="#231f20" stroke-width="0.22">10<tspan font-size="4.8" dy="-2.5">3</tspan></text>
<text x="71.2" y="251" font-size="7" text-anchor="middle" fill="#231f20" stroke="#231f20" stroke-width="0.22">10<tspan font-size="4.8" dy="-2.5">4</tspan></text>
<text x="87" y="251" font-size="7" text-anchor="middle" fill="#231f20" stroke="#231f20" stroke-width="0.22">10<tspan font-size="4.8" dy="-2.5">5</tspan></text>
<text x="0.9" y="212.7" font-size="7.5" fill="#231f20" stroke="#231f20" stroke-width="0.22">24 h</text>
<rect x="21.4" y="254" width="70.6" height="71" fill="#fff"/>
<path d="M21.9,282.8 L21.9,282.43 L22.4,282.29 L22.9,282.1 L23.4,281.59 L23.9,281.75 L24.4,281.23 L24.9,280.95 L25.4,279.97 L25.9,279.68 L26.4,278.19 L26.9,277.49 L27.4,276.31 L27.9,275.37 L28.4,273.84 L28.9,272.13 L29.4,270.21 L29.9,268.71 L30.4,267.13 L30.9,264.9 L31.4,263.44 L31.9,261.95 L32.4,260.76 L32.9,259.49 L33.4,258.11 L33.9,257.97 L34.4,257.34 L34.9,257.27 L35.4,258.05 L35.9,258.98 L36.4,260.62 L36.9,262.79 L37.4,265.27 L37.9,268.14 L38.4,270.72 L38.9,272.78 L39.4,274.97 L39.9,276.88 L40.4,277.94 L40.9,279.64 L41.4,280.18 L41.9,280.83 L42.4,281.95 L42.9,282.06 L43.4,282.33 L43.9,282.51 L44.4,282.62 L44.9,282.69 L45.4,282.74 L45.9,282.77 L46.4,282.78 L46.9,282.79 L47.4,282.79 L47.9,282.8 L48.4,282.8 L48.9,282.8 L49.4,282.8 L49.9,282.8 L50.4,282.8 L50.9,282.8 L51.4,282.8 L51.9,282.8 L52.4,282.8 L52.9,282.8 L53.4,282.8 L53.9,282.8 L54.4,282.8 L54.9,282.8 L55.4,282.8 L55.9,282.8 L56.4,282.8 L56.9,282.8 L57.4,282.8 L57.9,282.8 L58.4,282.8 L58.9,282.8 L59.4,282.8 L59.9,282.8 L60.4,282.8 L60.9,282.8 L61.4,282.8 L61.9,282.8 L62.4,282.8 L62.9,282.8 L63.4,282.8 L63.9,282.8 L64.4,282.8 L64.9,282.8 L65.4,282.8 L65.9,282.8 L66.4,282.8 L66.9,282.8 L67.4,282.8 L67.9,282.8 L68.4,282.8 L68.9,282.8 L69.4,282.8 L69.9,282.8 L70.4,282.8 L70.9,282.8 L71.4,282.8 L71.9,282.8 L72.4,282.8 L72.9,282.8 L73.4,282.8 L73.9,282.8 L74.4,282.8 L74.9,282.8 L75.4,282.8 L75.9,282.8 L76.4,282.8 L76.9,282.8 L77.4,282.8 L77.9,282.8 L78.4,282.8 L78.9,282.8 L79.4,282.8 L79.9,282.8 L80.4,282.8 L80.9,282.8 L81.4,282.8 L81.9,282.8 L82.4,282.8 L82.9,282.8 L83.4,282.8 L83.9,282.8 L84.4,282.8 L84.9,282.8 L85.4,282.8 L85.9,282.8 L86.4,282.8 L86.9,282.8 L87.4,282.8 L87.9,282.8 L88.4,282.8 L88.9,282.8 L89.4,282.8 L89.9,282.8 L90.4,282.8 L90.9,282.8 L91.4,282.8 L91.5,282.8 Z" fill="url(#hatch)" stroke="#7cbb66" stroke-width="0.5" stroke-linejoin="round"/>
<line x1="21.9" y1="282.8" x2="91.5" y2="282.8" stroke="#a9d49a" stroke-width="0.7"/>
<path d="M21.9,296.9 L21.9,296.9 L22.4,296.9 L22.9,296.9 L23.4,296.9 L23.9,296.9 L24.4,296.89 L24.9,296.89 L25.4,296.88 L25.9,296.87 L26.4,296.86 L26.9,296.83 L27.4,296.79 L27.9,296.74 L28.4,296.67 L28.9,296.56 L29.4,296.42 L29.9,296.23 L30.4,295.7 L30.9,295.76 L31.4,295.51 L31.9,295.08 L32.4,294.67 L32.9,293.75 L33.4,293.19 L33.9,292.17 L34.4,291.47 L34.9,291.3 L35.4,290.39 L35.9,289.78 L36.4,289.4 L36.9,288.94 L37.4,288.64 L37.9,288.19 L38.4,288.39 L38.9,288.58 L39.4,288.61 L39.9,288.63 L40.4,288.75 L40.9,289.21 L41.4,289.12 L41.9,289.68 L42.4,289.56 L42.9,289.77 L43.4,290.21 L43.9,289.9 L44.4,290.2 L44.9,290.13 L45.4,290.09 L45.9,290.05 L46.4,290.15 L46.9,290.38 L47.4,289.82 L47.9,289.72 L48.4,289.93 L48.9,289.8 L49.4,289.94 L49.9,289.42 L50.4,289.46 L50.9,289.67 L51.4,289.12 L51.9,288.86 L52.4,289.16 L52.9,288.54 L53.4,288.75 L53.9,288.82 L54.4,288.31 L54.9,288.47 L55.4,288.13 L55.9,288.2 L56.4,288.54 L56.9,288.31 L57.4,288.2 L57.9,288.64 L58.4,288.83 L58.9,288.9 L59.4,289.53 L59.9,289.87 L60.4,290.23 L60.9,290.5 L61.4,291.39 L61.9,291.93 L62.4,291.94 L62.9,292.54 L63.4,293.17 L63.9,293.19 L64.4,293.6 L64.9,294.22 L65.4,294.26 L65.9,294.69 L66.4,295.04 L66.9,295.62 L67.4,296.05 L67.9,295.78 L68.4,295.92 L68.9,296.23 L69.4,296.36 L69.9,296.46 L70.4,296.55 L70.9,296.62 L71.4,296.68 L71.9,296.73 L72.4,296.77 L72.9,296.8 L73.4,296.82 L73.9,296.84 L74.4,296.86 L74.9,296.87 L75.4,296.88 L75.9,296.88 L76.4,296.89 L76.9,296.89 L77.4,296.89 L77.9,296.9 L78.4,296.9 L78.9,296.9 L79.4,296.9 L79.9,296.9 L80.4,296.9 L80.9,296.9 L81.4,296.9 L81.9,296.9 L82.4,296.9 L82.9,296.9 L83.4,296.9 L83.9,296.9 L84.4,296.9 L84.9,296.9 L85.4,296.9 L85.9,296.9 L86.4,296.9 L86.9,296.9 L87.4,296.9 L87.9,296.9 L88.4,296.9 L88.9,296.9 L89.4,296.9 L89.9,296.9 L90.4,296.9 L90.9,296.9 L91.4,296.9 L91.5,296.9 Z" fill="#f9c596" stroke="#f2a66a" stroke-width="0.5" stroke-linejoin="round"/>
<line x1="21.9" y1="296.9" x2="91.5" y2="296.9" stroke="#f3c49c" stroke-width="0.7"/>
<path d="M21.9,311 L21.9,310.99 L22.4,310.99 L22.9,310.98 L23.4,310.98 L23.9,310.98 L24.4,310.97 L24.9,310.96 L25.4,310.94 L25.9,310.92 L26.4,310.89 L26.9,310.84 L27.4,310.78 L27.9,310.69 L28.4,310.57 L28.9,310.41 L29.4,310.3 L29.9,309.95 L30.4,309.56 L30.9,309.39 L31.4,308.61 L31.9,308.18 L32.4,307.71 L32.9,307.28 L33.4,306.31 L33.9,305.82 L34.4,304.9 L34.9,304.71 L35.4,304.07 L35.9,303.83 L36.4,303.43 L36.9,303.21 L37.4,303.63 L37.9,303.97 L38.4,304.17 L38.9,305 L39.4,305.5 L39.9,306.48 L40.4,307.24 L40.9,307.58 L41.4,307.85 L41.9,308.32 L42.4,308.87 L42.9,309.15 L43.4,309.48 L43.9,309.34 L44.4,309.25 L44.9,308.7 L45.4,309.11 L45.9,308.34 L46.4,308.45 L46.9,308.25 L47.4,308.12 L47.9,307.38 L48.4,307.67 L48.9,307.14 L49.4,306.94 L49.9,306.91 L50.4,306.67 L50.9,305.92 L51.4,305.87 L51.9,305.73 L52.4,305.47 L52.9,305.92 L53.4,305.4 L53.9,305.31 L54.4,305.65 L54.9,305.5 L55.4,305.17 L55.9,305.68 L56.4,305.47 L56.9,306 L57.4,305.79 L57.9,306.22 L58.4,306.22 L58.9,306.5 L59.4,306.34 L59.9,306.62 L60.4,306.98 L60.9,307.05 L61.4,307.42 L61.9,307.34 L62.4,307.9 L62.9,307.86 L63.4,307.99 L63.9,308.27 L64.4,308.64 L64.9,308.67 L65.4,308.44 L65.9,308.84 L66.4,308.54 L66.9,308.79 L67.4,308.54 L67.9,308.67 L68.4,308.8 L68.9,309.09 L69.4,309.35 L69.9,309.03 L70.4,308.92 L70.9,308.82 L71.4,309.35 L71.9,309.4 L72.4,308.85 L72.9,309.03 L73.4,309.23 L73.9,309.07 L74.4,309.51 L74.9,309.25 L75.4,309.19 L75.9,309.26 L76.4,309.59 L76.9,309.63 L77.4,309.32 L77.9,309.16 L78.4,309.71 L78.9,309.83 L79.4,309.81 L79.9,309.35 L80.4,309.66 L80.9,309.65 L81.4,309.31 L81.9,309.61 L82.4,309.89 L82.9,309.62 L83.4,310.14 L83.9,309.98 L84.4,309.73 L84.9,310.13 L85.4,310.26 L85.9,309.96 L86.4,310.13 L86.9,309.72 L87.4,310.36 L87.9,309.91 L88.4,310.23 L88.9,309.97 L89.4,310.22 L89.9,310.25 L90.4,310.29 L90.9,310.32 L91.4,310.35 L91.5,311 Z" fill="#84cfe8" stroke="#3eabd3" stroke-width="0.5" stroke-linejoin="round"/>
<line x1="21.9" y1="311" x2="91.5" y2="311" stroke="#8fcde4" stroke-width="0.7"/>
<path d="M21.9,325 L21.9,324.89 L22.4,324.86 L22.9,324.81 L23.4,324.75 L23.9,324.67 L24.4,324.58 L24.9,324.47 L25.4,324.35 L25.9,324.21 L26.4,324.09 L26.9,323.76 L27.4,323.81 L27.9,323.69 L28.4,323.34 L28.9,322.91 L29.4,323.05 L29.9,322.97 L30.4,322.7 L30.9,322.82 L31.4,322.59 L31.9,322.38 L32.4,322.39 L32.9,322.37 L33.4,322.61 L33.9,322.83 L34.4,322.89 L34.9,322.74 L35.4,322.91 L35.9,322.74 L36.4,323.04 L36.9,322.79 L37.4,323 L37.9,323.05 L38.4,323.1 L38.9,323.34 L39.4,323.49 L39.9,323.66 L40.4,323.9 L40.9,323.45 L41.4,323.71 L41.9,324.04 L42.4,323.49 L42.9,323.76 L43.4,323.74 L43.9,323.88 L44.4,324.09 L44.9,323.47 L45.4,324.03 L45.9,323.86 L46.4,323.39 L46.9,323.96 L47.4,323.65 L47.9,323.62 L48.4,323.73 L48.9,323.2 L49.4,323.5 L49.9,323.73 L50.4,323.35 L50.9,323.62 L51.4,323.07 L51.9,322.9 L52.4,322.83 L52.9,323.38 L53.4,322.89 L53.9,323.11 L54.4,322.95 L54.9,323.04 L55.4,323.01 L55.9,323.1 L56.4,322.74 L56.9,323.1 L57.4,322.48 L57.9,323.12 L58.4,322.48 L58.9,323.02 L59.4,323.11 L59.9,322.67 L60.4,322.84 L60.9,322.7 L61.4,322.92 L61.9,322.87 L62.4,323.3 L62.9,322.93 L63.4,323.09 L63.9,322.83 L64.4,323.55 L64.9,323.57 L65.4,323.2 L65.9,323.09 L66.4,323.51 L66.9,323.37 L67.4,323.54 L67.9,323.73 L68.4,323.74 L68.9,323.71 L69.4,324.18 L69.9,324.05 L70.4,323.81 L70.9,324.21 L71.4,324.12 L71.9,324.33 L72.4,324.22 L72.9,324.28 L73.4,324.33 L73.9,324.38 L74.4,324.43 L74.9,324.47 L75.4,324.52 L75.9,324.56 L76.4,324.6 L76.9,324.63 L77.4,324.66 L77.9,324.7 L78.4,324.73 L78.9,324.75 L79.4,324.78 L79.9,324.8 L80.4,324.82 L80.9,324.84 L81.4,324.86 L81.9,324.87 L82.4,324.89 L82.9,324.9 L83.4,324.91 L83.9,324.92 L84.4,324.93 L84.9,324.94 L85.4,324.95 L85.9,324.96 L86.4,324.96 L86.9,324.97 L87.4,324.97 L87.9,324.97 L88.4,324.98 L88.9,324.98 L89.4,324.98 L89.9,324.99 L90.4,324.99 L90.9,324.99 L91.4,324.99 L91.5,325 Z" fill="#f49c9c" stroke="#e06464" stroke-width="0.5" stroke-linejoin="round"/>
<line x1="21.9" y1="325" x2="91.5" y2="325" stroke="#eea3a3" stroke-width="0.7"/>
<text x="90.4" y="280.3" font-size="7.3" text-anchor="end" fill="#231f20" stroke="#231f20" stroke-width="0.22">Blank</text>
<text x="90.4" y="294.4" font-size="7.3" text-anchor="end" fill="#231f20" stroke="#231f20" stroke-width="0.22">shNC</text>
<text x="90.4" y="308.5" font-size="7.3" text-anchor="end" fill="#231f20" stroke="#231f20" stroke-width="0.22">shCD59-1</text>
<text x="90.4" y="322.5" font-size="7.3" text-anchor="end" fill="#231f20" stroke="#231f20" stroke-width="0.22">shCD59-2</text>
<rect x="21.4" y="254" width="70.6" height="71" fill="none" stroke="#7a7a7a" stroke-width="0.9"/>
<line x1="26.5" y1="325" x2="26.5" y2="326.3" stroke="#111" stroke-width="0.6"/>
<line x1="28" y1="325" x2="28" y2="326.3" stroke="#111" stroke-width="0.6"/>
<line x1="29.5" y1="325" x2="29.5" y2="326.3" stroke="#111" stroke-width="0.6"/>
<line x1="31" y1="325" x2="31" y2="326.3" stroke="#111" stroke-width="0.6"/>
<line x1="32.5" y1="325" x2="32.5" y2="326.3" stroke="#111" stroke-width="0.6"/>
<line x1="54.1" y1="325" x2="54.1" y2="326.3" stroke="#111" stroke-width="0.6"/>
<line x1="70" y1="325" x2="70" y2="326.3" stroke="#111" stroke-width="0.6"/>
<line x1="85.8" y1="325" x2="85.8" y2="326.3" stroke="#111" stroke-width="0.6"/>
<text x="30.4" y="333.6" font-size="7" text-anchor="middle" fill="#231f20" stroke="#231f20" stroke-width="0.22">0</text>
<text x="55.3" y="333.6" font-size="7" text-anchor="middle" fill="#231f20" stroke="#231f20" stroke-width="0.22">10<tspan font-size="4.8" dy="-2.5">3</tspan></text>
<text x="71.2" y="333.6" font-size="7" text-anchor="middle" fill="#231f20" stroke="#231f20" stroke-width="0.22">10<tspan font-size="4.8" dy="-2.5">4</tspan></text>
<text x="87" y="333.6" font-size="7" text-anchor="middle" fill="#231f20" stroke="#231f20" stroke-width="0.22">10<tspan font-size="4.8" dy="-2.5">5</tspan></text>
<text x="0.9" y="292.7" font-size="7.5" fill="#231f20" stroke="#231f20" stroke-width="0.22">48 h</text>
<rect x="20.7" y="342.4" width="70.7" height="71" fill="#fff"/>
<path d="M21.2,371.2 L21.2,370.91 L21.7,370.8 L22.2,370.64 L22.7,370.44 L23.2,370.28 L23.7,369.74 L24.2,369.26 L24.7,368.59 L25.2,368.29 L25.7,367.73 L26.2,366.73 L26.7,365.89 L27.2,364.57 L27.7,362.98 L28.2,361.49 L28.7,360.15 L29.2,358.49 L29.7,356.79 L30.2,354.94 L30.7,352.94 L31.2,351.41 L31.7,349.39 L32.2,348.21 L32.7,347.18 L33.2,346.2 L33.7,345.85 L34.2,345.06 L34.7,345.13 L35.2,346.05 L35.7,346.98 L36.2,348.95 L36.7,351 L37.2,353.25 L37.7,355.64 L38.2,357.73 L38.7,359.98 L39.2,362.01 L39.7,364.32 L40.2,365.46 L40.7,367.01 L41.2,368.17 L41.7,368.95 L42.2,369.66 L42.7,370.31 L43.2,370.46 L43.7,370.71 L44.2,370.88 L44.7,371 L45.2,371.08 L45.7,371.13 L46.2,371.16 L46.7,371.17 L47.2,371.19 L47.7,371.19 L48.2,371.2 L48.7,371.2 L49.2,371.2 L49.7,371.2 L50.2,371.2 L50.7,371.2 L51.2,371.2 L51.7,371.2 L52.2,371.2 L52.7,371.2 L53.2,371.2 L53.7,371.2 L54.2,371.2 L54.7,371.2 L55.2,371.2 L55.7,371.2 L56.2,371.2 L56.7,371.2 L57.2,371.2 L57.7,371.2 L58.2,371.2 L58.7,371.2 L59.2,371.2 L59.7,371.2 L60.2,371.2 L60.7,371.2 L61.2,371.2 L61.7,371.2 L62.2,371.2 L62.7,371.2 L63.2,371.2 L63.7,371.2 L64.2,371.2 L64.7,371.2 L65.2,371.2 L65.7,371.2 L66.2,371.2 L66.7,371.2 L67.2,371.2 L67.7,371.2 L68.2,371.2 L68.7,371.2 L69.2,371.2 L69.7,371.2 L70.2,371.2 L70.7,371.2 L71.2,371.2 L71.7,371.2 L72.2,371.2 L72.7,371.2 L73.2,371.2 L73.7,371.2 L74.2,371.2 L74.7,371.2 L75.2,371.2 L75.7,371.2 L76.2,371.2 L76.7,371.2 L77.2,371.2 L77.7,371.2 L78.2,371.2 L78.7,371.2 L79.2,371.2 L79.7,371.2 L80.2,371.2 L80.7,371.2 L81.2,371.2 L81.7,371.2 L82.2,371.2 L82.7,371.2 L83.2,371.2 L83.7,371.2 L84.2,371.2 L84.7,371.2 L85.2,371.2 L85.7,371.2 L86.2,371.2 L86.7,371.2 L87.2,371.2 L87.7,371.2 L88.2,371.2 L88.7,371.2 L89.2,371.2 L89.7,371.2 L90.2,371.2 L90.7,371.2 L90.9,371.2 Z" fill="url(#hatch)" stroke="#7cbb66" stroke-width="0.5" stroke-linejoin="round"/>
<line x1="21.2" y1="371.2" x2="90.9" y2="371.2" stroke="#a9d49a" stroke-width="0.7"/>
<path d="M21.2,385.3 L21.2,384.9 L21.7,384.88 L22.2,384.85 L22.7,384.82 L23.2,384.79 L23.7,384.76 L24.2,384.73 L24.7,384.7 L25.2,384.66 L25.7,384.63 L26.2,384.59 L26.7,384.55 L27.2,384.51 L27.7,384.55 L28.2,384.33 L28.7,384.24 L29.2,384.05 L29.7,384.51 L30.2,383.98 L30.7,384 L31.2,384.01 L31.7,383.77 L32.2,384.31 L32.7,383.82 L33.2,383.68 L33.7,384.17 L34.2,383.79 L34.7,383.49 L35.2,383.9 L35.7,383.45 L36.2,383.37 L36.7,383.64 L37.2,383.79 L37.7,383.69 L38.2,383.21 L38.7,383.44 L39.2,383.47 L39.7,383.33 L40.2,382.93 L40.7,383.36 L41.2,383.47 L41.7,382.77 L42.2,383.16 L42.7,383.06 L43.2,382.6 L43.7,383.03 L44.2,383.12 L44.7,382.5 L45.2,382.9 L45.7,382.86 L46.2,382.31 L46.7,382.75 L47.2,382.22 L47.7,382.56 L48.2,382.52 L48.7,382.51 L49.2,382.22 L49.7,382.14 L50.2,382.18 L50.7,382.02 L51.2,382.09 L51.7,381.62 L52.2,381.46 L52.7,381.49 L53.2,381.34 L53.7,381.76 L54.2,381.52 L54.7,381.43 L55.2,381.33 L55.7,380.63 L56.2,380.53 L56.7,380.38 L57.2,380.47 L57.7,380.62 L58.2,380.24 L58.7,380.32 L59.2,379.55 L59.7,379.82 L60.2,379.62 L60.7,378.97 L61.2,379.3 L61.7,378.6 L62.2,378.83 L62.7,378.39 L63.2,378.59 L63.7,377.85 L64.2,378.01 L64.7,377.87 L65.2,377.48 L65.7,377.35 L66.2,377.44 L66.7,377.38 L67.2,376.93 L67.7,377.19 L68.2,376.49 L68.7,376.76 L69.2,376.8 L69.7,376.63 L70.2,376.74 L70.7,376.57 L71.2,376.4 L71.7,376.5 L72.2,376.58 L72.7,376.68 L73.2,376.71 L73.7,376.77 L74.2,377.35 L74.7,377.53 L75.2,378.2 L75.7,378.98 L76.2,379.49 L76.7,379.58 L77.2,380.41 L77.7,381.03 L78.2,381.48 L78.7,381.75 L79.2,382.54 L79.7,382.98 L80.2,383.35 L80.7,383.93 L81.2,383.85 L81.7,384.14 L82.2,384.34 L82.7,384.51 L83.2,384.66 L83.7,384.78 L84.2,384.87 L84.7,384.95 L85.2,385.01 L85.7,385.06 L86.2,385.1 L86.7,385.13 L87.2,385.15 L87.7,385.17 L88.2,385.19 L88.7,385.2 L89.2,385.21 L89.7,385.22 L90.2,385.23 L90.7,385.24 L90.9,385.3 Z" fill="#f9c596" stroke="#f2a66a" stroke-width="0.5" stroke-linejoin="round"/>
<line x1="21.2" y1="385.3" x2="90.9" y2="385.3" stroke="#f3c49c" stroke-width="0.7"/>
<path d="M21.2,399.4 L21.2,398.88 L21.7,398.86 L22.2,398.85 L22.7,398.84 L23.2,398.82 L23.7,398.8 L24.2,398.79 L24.7,398.77 L25.2,398.75 L25.7,398.73 L26.2,398.7 L26.7,398.68 L27.2,398.64 L27.7,398.63 L28.2,398.56 L28.7,398.32 L29.2,398.61 L29.7,397.94 L30.2,398.42 L30.7,397.74 L31.2,398.04 L31.7,397.4 L32.2,397.54 L32.7,397.41 L33.2,396.82 L33.7,396.33 L34.2,396.06 L34.7,395.78 L35.2,395.48 L35.7,395.94 L36.2,395.58 L36.7,395.69 L37.2,395.21 L37.7,395.45 L38.2,395.31 L38.7,395.39 L39.2,395.39 L39.7,395.79 L40.2,395.85 L40.7,396.28 L41.2,396.82 L41.7,396.46 L42.2,397.21 L42.7,397.4 L43.2,397.04 L43.7,397.57 L44.2,397.42 L44.7,397.97 L45.2,397.91 L45.7,397.62 L46.2,398.13 L46.7,397.82 L47.2,397.53 L47.7,398.03 L48.2,397.67 L48.7,397.61 L49.2,397.67 L49.7,397.52 L50.2,397.52 L50.7,397.94 L51.2,397.76 L51.7,397.45 L52.2,397.08 L52.7,397.54 L53.2,397.2 L53.7,397.44 L54.2,396.85 L54.7,397.05 L55.2,396.9 L55.7,396.71 L56.2,396.99 L56.7,396.48 L57.2,396.34 L57.7,396.21 L58.2,396.52 L58.7,396.47 L59.2,396.43 L59.7,395.84 L60.2,396.08 L60.7,396.05 L61.2,395.89 L61.7,395.71 L62.2,395.93 L62.7,395.88 L63.2,395.54 L63.7,395.52 L64.2,395.84 L64.7,395.99 L65.2,395.4 L65.7,395.56 L66.2,395.69 L66.7,395.86 L67.2,395.52 L67.7,395.94 L68.2,396.16 L68.7,396.31 L69.2,396.22 L69.7,396.13 L70.2,396.39 L70.7,396.08 L71.2,396.39 L71.7,396.63 L72.2,396.59 L72.7,396.74 L73.2,396.84 L73.7,397.04 L74.2,397.13 L74.7,397.25 L75.2,397.12 L75.7,397.67 L76.2,397.35 L76.7,397.79 L77.2,397.5 L77.7,398.13 L78.2,397.92 L78.7,398.03 L79.2,397.92 L79.7,398.35 L80.2,398.37 L80.7,398.53 L81.2,398.28 L81.7,398.33 L82.2,398.78 L82.7,398.71 L83.2,398.73 L83.7,398.24 L84.2,398.6 L84.7,398.64 L85.2,398.67 L85.7,398.7 L86.2,398.73 L86.7,398.76 L87.2,398.78 L87.7,398.8 L88.2,398.82 L88.7,398.84 L89.2,398.86 L89.7,398.88 L90.2,398.9 L90.7,398.92 L90.9,399.4 Z" fill="#84cfe8" stroke="#3eabd3" stroke-width="0.5" stroke-linejoin="round"/>
<line x1="21.2" y1="399.4" x2="90.9" y2="399.4" stroke="#8fcde4" stroke-width="0.7"/>
<path d="M21.2,413.4 L21.2,413.25 L21.7,413.24 L22.2,413.23 L22.7,413.22 L23.2,413.21 L23.7,413.2 L24.2,413.19 L24.7,413.17 L25.2,413.15 L25.7,413.13 L26.2,413.11 L26.7,413.08 L27.2,413.04 L27.7,412.98 L28.2,412.92 L28.7,412.83 L29.2,412.72 L29.7,412.61 L30.2,412.37 L30.7,412.36 L31.2,411.86 L31.7,411.47 L32.2,411.26 L32.7,411.39 L33.2,410.73 L33.7,410.33 L34.2,410.28 L34.7,409.42 L35.2,409.44 L35.7,409.21 L36.2,408.79 L36.7,408.71 L37.2,408.73 L37.7,408.51 L38.2,408.84 L38.7,409.11 L39.2,409.5 L39.7,409.38 L40.2,409.77 L40.7,409.92 L41.2,410.33 L41.7,410.84 L42.2,411.09 L42.7,411.25 L43.2,411.51 L43.7,411.17 L44.2,411.53 L44.7,411.91 L45.2,411.69 L45.7,411.84 L46.2,412.3 L46.7,411.87 L47.2,412.27 L47.7,411.75 L48.2,412.36 L48.7,412.26 L49.2,412.28 L49.7,411.85 L50.2,411.87 L50.7,412.02 L51.2,412.31 L51.7,412.1 L52.2,411.89 L52.7,412.33 L53.2,411.71 L53.7,411.75 L54.2,411.67 L54.7,411.82 L55.2,411.87 L55.7,411.61 L56.2,412.1 L56.7,412.06 L57.2,412.18 L57.7,412.14 L58.2,411.7 L58.7,412.19 L59.2,411.73 L59.7,411.97 L60.2,411.64 L60.7,411.72 L61.2,411.77 L61.7,411.67 L62.2,412.24 L62.7,412.09 L63.2,412.03 L63.7,411.99 L64.2,411.84 L64.7,411.71 L65.2,411.82 L65.7,411.7 L66.2,411.89 L66.7,412.14 L67.2,412.06 L67.7,411.91 L68.2,411.89 L68.7,412.22 L69.2,412.26 L69.7,412.1 L70.2,412.4 L70.7,411.97 L71.2,412.61 L71.7,412.19 L72.2,412.33 L72.7,412.57 L73.2,412.33 L73.7,412.43 L74.2,412.12 L74.7,412.2 L75.2,412.44 L75.7,412.27 L76.2,412.29 L76.7,412.83 L77.2,412.62 L77.7,412.65 L78.2,412.68 L78.7,412.71 L79.2,412.74 L79.7,412.77 L80.2,412.79 L80.7,412.82 L81.2,412.85 L81.7,412.87 L82.2,412.9 L82.7,412.92 L83.2,412.95 L83.7,412.97 L84.2,412.99 L84.7,413.01 L85.2,413.03 L85.7,413.05 L86.2,413.07 L86.7,413.09 L87.2,413.11 L87.7,413.13 L88.2,413.14 L88.7,413.16 L89.2,413.17 L89.7,413.19 L90.2,413.2 L90.7,413.22 L90.9,413.4 Z" fill="#f49c9c" stroke="#e06464" stroke-width="0.5" stroke-linejoin="round"/>
<line x1="21.2" y1="413.4" x2="90.9" y2="413.4" stroke="#eea3a3" stroke-width="0.7"/>
<text x="89.1" y="368.7" font-size="7.3" text-anchor="end" fill="#231f20" stroke="#231f20" stroke-width="0.22">Blank</text>
<text x="89.1" y="382.8" font-size="7.3" text-anchor="end" fill="#231f20" stroke="#231f20" stroke-width="0.22">shNC</text>
<text x="89.1" y="396.9" font-size="7.3" text-anchor="end" fill="#231f20" stroke="#231f20" stroke-width="0.22">shCD59-1</text>
<text x="89.1" y="410.9" font-size="7.3" text-anchor="end" fill="#231f20" stroke="#231f20" stroke-width="0.22">shCD59-2</text>
<rect x="20.7" y="342.4" width="70.7" height="71" fill="none" stroke="#7a7a7a" stroke-width="0.9"/>
<line x1="26.5" y1="413.4" x2="26.5" y2="414.7" stroke="#111" stroke-width="0.6"/>
<line x1="28" y1="413.4" x2="28" y2="414.7" stroke="#111" stroke-width="0.6"/>
<line x1="29.5" y1="413.4" x2="29.5" y2="414.7" stroke="#111" stroke-width="0.6"/>
<line x1="31" y1="413.4" x2="31" y2="414.7" stroke="#111" stroke-width="0.6"/>
<line x1="32.5" y1="413.4" x2="32.5" y2="414.7" stroke="#111" stroke-width="0.6"/>
<line x1="52.3" y1="413.4" x2="52.3" y2="414.7" stroke="#111" stroke-width="0.6"/>
<line x1="68.6" y1="413.4" x2="68.6" y2="414.7" stroke="#111" stroke-width="0.6"/>
<line x1="83.8" y1="413.4" x2="83.8" y2="414.7" stroke="#111" stroke-width="0.6"/>
<text x="29.7" y="422" font-size="7" text-anchor="middle" fill="#231f20" stroke="#231f20" stroke-width="0.22">0</text>
<text x="53.5" y="422" font-size="7" text-anchor="middle" fill="#231f20" stroke="#231f20" stroke-width="0.22">10<tspan font-size="4.8" dy="-2.5">3</tspan></text>
<text x="69.8" y="422" font-size="7" text-anchor="middle" fill="#231f20" stroke="#231f20" stroke-width="0.22">10<tspan font-size="4.8" dy="-2.5">4</tspan></text>
<text x="85" y="422" font-size="7" text-anchor="middle" fill="#231f20" stroke="#231f20" stroke-width="0.22">10<tspan font-size="4.8" dy="-2.5">5</tspan></text>
<text x="3.2" y="383.9" font-size="7.5" fill="#231f20" stroke="#231f20" stroke-width="0.22">24 h</text>
<rect x="20.7" y="427.4" width="70.7" height="71" fill="#fff"/>
<path d="M21.2,456.2 L21.2,455.86 L21.7,455.72 L22.2,455.53 L22.7,455.05 L23.2,454.72 L23.7,454.19 L24.2,453.83 L24.7,453.44 L25.2,452.78 L25.7,451.53 L26.2,450.74 L26.7,449.1 L27.2,447.8 L27.7,446.04 L28.2,444.66 L28.7,442.89 L29.2,440.6 L29.7,438.89 L30.2,437.25 L30.7,435.38 L31.2,433.9 L31.7,432.4 L32.2,431.42 L32.7,430.82 L33.2,429.93 L33.7,429.98 L34.2,430.6 L34.7,432.02 L35.2,433.64 L35.7,435.22 L36.2,437.37 L36.7,439.85 L37.2,442.53 L37.7,444.48 L38.2,446.75 L38.7,448.78 L39.2,450.29 L39.7,451.78 L40.2,452.79 L40.7,453.62 L41.2,454.15 L41.7,455.29 L42.2,455.35 L42.7,455.67 L43.2,455.85 L43.7,455.98 L44.2,456.06 L44.7,456.12 L45.2,456.15 L45.7,456.17 L46.2,456.18 L46.7,456.19 L47.2,456.2 L47.7,456.2 L48.2,456.2 L48.7,456.2 L49.2,456.2 L49.7,456.2 L50.2,456.2 L50.7,456.2 L51.2,456.2 L51.7,456.2 L52.2,456.2 L52.7,456.2 L53.2,456.2 L53.7,456.2 L54.2,456.2 L54.7,456.2 L55.2,456.2 L55.7,456.2 L56.2,456.2 L56.7,456.2 L57.2,456.2 L57.7,456.2 L58.2,456.2 L58.7,456.2 L59.2,456.2 L59.7,456.2 L60.2,456.2 L60.7,456.2 L61.2,456.2 L61.7,456.2 L62.2,456.2 L62.7,456.2 L63.2,456.2 L63.7,456.2 L64.2,456.2 L64.7,456.2 L65.2,456.2 L65.7,456.2 L66.2,456.2 L66.7,456.2 L67.2,456.2 L67.7,456.2 L68.2,456.2 L68.7,456.2 L69.2,456.2 L69.7,456.2 L70.2,456.2 L70.7,456.2 L71.2,456.2 L71.7,456.2 L72.2,456.2 L72.7,456.2 L73.2,456.2 L73.7,456.2 L74.2,456.2 L74.7,456.2 L75.2,456.2 L75.7,456.2 L76.2,456.2 L76.7,456.2 L77.2,456.2 L77.7,456.2 L78.2,456.2 L78.7,456.2 L79.2,456.2 L79.7,456.2 L80.2,456.2 L80.7,456.2 L81.2,456.2 L81.7,456.2 L82.2,456.2 L82.7,456.2 L83.2,456.2 L83.7,456.2 L84.2,456.2 L84.7,456.2 L85.2,456.2 L85.7,456.2 L86.2,456.2 L86.7,456.2 L87.2,456.2 L87.7,456.2 L88.2,456.2 L88.7,456.2 L89.2,456.2 L89.7,456.2 L90.2,456.2 L90.7,456.2 L90.9,456.2 Z" fill="url(#hatch)" stroke="#7cbb66" stroke-width="0.5" stroke-linejoin="round"/>
<line x1="21.2" y1="456.2" x2="90.9" y2="456.2" stroke="#a9d49a" stroke-width="0.7"/>
<path d="M21.2,470.3 L21.2,468.61 L21.7,468.74 L22.2,468.73 L22.7,468.47 L23.2,468.97 L23.7,468.37 L24.2,468.41 L24.7,468.35 L25.2,468.46 L25.7,468.16 L26.2,468.41 L26.7,468.03 L27.2,468.11 L27.7,467.53 L28.2,467.5 L28.7,467.6 L29.2,467.26 L29.7,467.37 L30.2,467.11 L30.7,467.17 L31.2,466.48 L31.7,466.32 L32.2,466.08 L32.7,466.28 L33.2,465.47 L33.7,465.72 L34.2,464.98 L34.7,464.66 L35.2,464.57 L35.7,463.9 L36.2,463.15 L36.7,462.89 L37.2,462.66 L37.7,461.86 L38.2,461.75 L38.7,460.95 L39.2,460.9 L39.7,460.76 L40.2,459.81 L40.7,460.15 L41.2,459.79 L41.7,459.25 L42.2,459.58 L42.7,459.28 L43.2,459.2 L43.7,459.66 L44.2,460.19 L44.7,460.33 L45.2,460.74 L45.7,461.36 L46.2,461.75 L46.7,462.33 L47.2,462.59 L47.7,462.42 L48.2,462.62 L48.7,463.43 L49.2,463.37 L49.7,463.39 L50.2,463 L50.7,463.4 L51.2,463.4 L51.7,462.94 L52.2,463.32 L52.7,462.71 L53.2,463.04 L53.7,462.69 L54.2,462.71 L54.7,463.11 L55.2,462.67 L55.7,462.91 L56.2,463.02 L56.7,463.13 L57.2,462.66 L57.7,462.76 L58.2,462.94 L58.7,462.6 L59.2,463.1 L59.7,463.01 L60.2,463.37 L60.7,463.32 L61.2,463.11 L61.7,463.56 L62.2,464.01 L62.7,464.17 L63.2,464.13 L63.7,464.64 L64.2,464.47 L64.7,465.33 L65.2,465.04 L65.7,465.5 L66.2,465.64 L66.7,466.25 L67.2,466.73 L67.7,466.93 L68.2,466.88 L68.7,467.57 L69.2,467.76 L69.7,467.53 L70.2,467.69 L70.7,467.92 L71.2,468.14 L71.7,468.53 L72.2,468.49 L72.7,468.78 L73.2,469.03 L73.7,469.26 L74.2,469.67 L74.7,469.74 L75.2,469.56 L75.7,469.65 L76.2,469.74 L76.7,469.81 L77.2,469.88 L77.7,469.94 L78.2,469.99 L78.7,470.04 L79.2,470.08 L79.7,470.11 L80.2,470.14 L80.7,470.17 L81.2,470.19 L81.7,470.21 L82.2,470.22 L82.7,470.24 L83.2,470.25 L83.7,470.26 L84.2,470.26 L84.7,470.27 L85.2,470.28 L85.7,470.28 L86.2,470.28 L86.7,470.29 L87.2,470.29 L87.7,470.29 L88.2,470.29 L88.7,470.3 L89.2,470.3 L89.7,470.3 L90.2,470.3 L90.7,470.3 L90.9,470.3 Z" fill="#f9c596" stroke="#f2a66a" stroke-width="0.5" stroke-linejoin="round"/>
<line x1="21.2" y1="470.3" x2="90.9" y2="470.3" stroke="#f3c49c" stroke-width="0.7"/>
<path d="M21.2,484.4 L21.2,484.4 L21.7,484.4 L22.2,484.4 L22.7,484.39 L23.2,484.39 L23.7,484.39 L24.2,484.38 L24.7,484.37 L25.2,484.36 L25.7,484.34 L26.2,484.31 L26.7,484.27 L27.2,484.22 L27.7,484.15 L28.2,484.06 L28.7,483.93 L29.2,483.77 L29.7,483.74 L30.2,483.35 L30.7,483.28 L31.2,482.32 L31.7,482.17 L32.2,481.56 L32.7,480.9 L33.2,480.75 L33.7,479.62 L34.2,478.87 L34.7,478.63 L35.2,478.01 L35.7,476.82 L36.2,476.08 L36.7,475.52 L37.2,475.25 L37.7,474.65 L38.2,474.62 L38.7,474.28 L39.2,474.03 L39.7,473.81 L40.2,474.38 L40.7,474 L41.2,474.9 L41.7,474.53 L42.2,475.35 L42.7,475.22 L43.2,475.48 L43.7,475.59 L44.2,476.1 L44.7,476.06 L45.2,476.43 L45.7,476.12 L46.2,476.69 L46.7,476.2 L47.2,476.48 L47.7,476.92 L48.2,476.39 L48.7,476.93 L49.2,477.23 L49.7,477.24 L50.2,477.57 L50.7,477.58 L51.2,477.48 L51.7,477.5 L52.2,477.98 L52.7,478.06 L53.2,478.33 L53.7,478.64 L54.2,479.1 L54.7,479.42 L55.2,479.71 L55.7,479.64 L56.2,480.07 L56.7,479.87 L57.2,480.32 L57.7,480.28 L58.2,480.44 L58.7,480.5 L59.2,480.93 L59.7,480.96 L60.2,480.74 L60.7,481.15 L61.2,480.89 L61.7,480.75 L62.2,481.22 L62.7,480.89 L63.2,481.21 L63.7,481.07 L64.2,481.47 L64.7,481.43 L65.2,481.6 L65.7,482.08 L66.2,482 L66.7,482.11 L67.2,482.34 L67.7,482.36 L68.2,482.34 L68.7,482.58 L69.2,482.71 L69.7,483.33 L70.2,483.08 L70.7,483.26 L71.2,483.17 L71.7,483.93 L72.2,483.69 L72.7,483.79 L73.2,483.87 L73.7,483.95 L74.2,484.02 L74.7,484.08 L75.2,484.13 L75.7,484.18 L76.2,484.22 L76.7,484.25 L77.2,484.28 L77.7,484.3 L78.2,484.32 L78.7,484.34 L79.2,484.35 L79.7,484.36 L80.2,484.37 L80.7,484.38 L81.2,484.38 L81.7,484.39 L82.2,484.39 L82.7,484.39 L83.2,484.39 L83.7,484.4 L84.2,484.4 L84.7,484.4 L85.2,484.4 L85.7,484.4 L86.2,484.4 L86.7,484.4 L87.2,484.4 L87.7,484.4 L88.2,484.4 L88.7,484.4 L89.2,484.4 L89.7,484.4 L90.2,484.4 L90.7,484.4 L90.9,484.4 Z" fill="#84cfe8" stroke="#3eabd3" stroke-width="0.5" stroke-linejoin="round"/>
<line x1="21.2" y1="484.4" x2="90.9" y2="484.4" stroke="#8fcde4" stroke-width="0.7"/>
<path d="M21.2,498.4 L21.2,498.34 L21.7,498.33 L22.2,498.32 L22.7,498.31 L23.2,498.3 L23.7,498.29 L24.2,498.28 L24.7,498.27 L25.2,498.25 L25.7,498.23 L26.2,498.2 L26.7,498.16 L27.2,498.12 L27.7,498.06 L28.2,497.98 L28.7,497.88 L29.2,497.76 L29.7,497.82 L30.2,497.05 L30.7,497.2 L31.2,496.65 L31.7,496.34 L32.2,496.01 L32.7,495.46 L33.2,494.77 L33.7,493.82 L34.2,493.43 L34.7,492.52 L35.2,492.13 L35.7,491.12 L36.2,490.53 L36.7,489.83 L37.2,489.23 L37.7,489.4 L38.2,488.51 L38.7,488.61 L39.2,488.83 L39.7,488.77 L40.2,489.21 L40.7,489.37 L41.2,489.25 L41.7,489.67 L42.2,489.9 L42.7,490.72 L43.2,491.08 L43.7,491.18 L44.2,491.35 L44.7,491.43 L45.2,491.92 L45.7,491.79 L46.2,492.05 L46.7,492.4 L47.2,492.17 L47.7,492.79 L48.2,492.55 L48.7,492.96 L49.2,493.19 L49.7,493.01 L50.2,493.12 L50.7,493.2 L51.2,493.51 L51.7,493.28 L52.2,493.53 L52.7,494.12 L53.2,494.38 L53.7,493.85 L54.2,494.38 L54.7,494.73 L55.2,494.81 L55.7,494.57 L56.2,495.06 L56.7,495.03 L57.2,494.92 L57.7,495.24 L58.2,495.11 L58.7,494.98 L59.2,495.16 L59.7,495.34 L60.2,495.4 L60.7,495.68 L61.2,495.5 L61.7,495.53 L62.2,495.62 L62.7,495.73 L63.2,495.6 L63.7,496.04 L64.2,495.74 L64.7,495.62 L65.2,496.35 L65.7,496.27 L66.2,495.84 L66.7,496.55 L67.2,496.12 L67.7,496.38 L68.2,496.83 L68.7,496.53 L69.2,497.07 L69.7,496.57 L70.2,497.05 L70.7,496.71 L71.2,496.83 L71.7,497.45 L72.2,497.36 L72.7,497.62 L73.2,497.28 L73.7,497.82 L74.2,497.62 L74.7,497.69 L75.2,497.76 L75.7,497.82 L76.2,497.88 L76.7,497.94 L77.2,497.99 L77.7,498.04 L78.2,498.08 L78.7,498.12 L79.2,498.15 L79.7,498.18 L80.2,498.21 L80.7,498.24 L81.2,498.26 L81.7,498.28 L82.2,498.3 L82.7,498.31 L83.2,498.33 L83.7,498.34 L84.2,498.35 L84.7,498.36 L85.2,498.36 L85.7,498.37 L86.2,498.37 L86.7,498.38 L87.2,498.38 L87.7,498.39 L88.2,498.39 L88.7,498.39 L89.2,498.39 L89.7,498.39 L90.2,498.39 L90.7,498.4 L90.9,498.4 Z" fill="#f49c9c" stroke="#e06464" stroke-width="0.5" stroke-linejoin="round"/>
<line x1="21.2" y1="498.4" x2="90.9" y2="498.4" stroke="#eea3a3" stroke-width="0.7"/>
<text x="89.1" y="453.7" font-size="7.3" text-anchor="end" fill="#231f20" stroke="#231f20" stroke-width="0.22">Blank</text>
<text x="89.1" y="467.8" font-size="7.3" text-anchor="end" fill="#231f20" stroke="#231f20" stroke-width="0.22">shNC</text>
<text x="89.1" y="481.9" font-size="7.3" text-anchor="end" fill="#231f20" stroke="#231f20" stroke-width="0.22">shCD59-1</text>
<text x="89.1" y="495.9" font-size="7.3" text-anchor="end" fill="#231f20" stroke="#231f20" stroke-width="0.22">shCD59-2</text>
<rect x="20.7" y="427.4" width="70.7" height="71" fill="none" stroke="#7a7a7a" stroke-width="0.9"/>
<line x1="26.5" y1="498.4" x2="26.5" y2="499.7" stroke="#111" stroke-width="0.6"/>
<line x1="28" y1="498.4" x2="28" y2="499.7" stroke="#111" stroke-width="0.6"/>
<line x1="29.5" y1="498.4" x2="29.5" y2="499.7" stroke="#111" stroke-width="0.6"/>
<line x1="31" y1="498.4" x2="31" y2="499.7" stroke="#111" stroke-width="0.6"/>
<line x1="32.5" y1="498.4" x2="32.5" y2="499.7" stroke="#111" stroke-width="0.6"/>
<line x1="52.3" y1="498.4" x2="52.3" y2="499.7" stroke="#111" stroke-width="0.6"/>
<line x1="68.6" y1="498.4" x2="68.6" y2="499.7" stroke="#111" stroke-width="0.6"/>
<line x1="83.8" y1="498.4" x2="83.8" y2="499.7" stroke="#111" stroke-width="0.6"/>
<text x="29.7" y="507" font-size="7" text-anchor="middle" fill="#231f20" stroke="#231f20" stroke-width="0.22">0</text>
<text x="53.5" y="507" font-size="7" text-anchor="middle" fill="#231f20" stroke="#231f20" stroke-width="0.22">10<tspan font-size="4.8" dy="-2.5">3</tspan></text>
<text x="69.8" y="507" font-size="7" text-anchor="middle" fill="#231f20" stroke="#231f20" stroke-width="0.22">10<tspan font-size="4.8" dy="-2.5">4</tspan></text>
<text x="85" y="507" font-size="7" text-anchor="middle" fill="#231f20" stroke="#231f20" stroke-width="0.22">10<tspan font-size="4.8" dy="-2.5">5</tspan></text>
<text x="2.9" y="467.7" font-size="7.5" fill="#231f20" stroke="#231f20" stroke-width="0.22">48 h</text>
<text x="4" y="10.7" font-size="12.8" fill="#111" stroke="#111" stroke-width="0.22" font-weight="bold">A</text>
<text x="4.4" y="176.2" font-size="12.8" fill="#111" stroke="#111" stroke-width="0.22" font-weight="bold">B</text>
<text x="4.2" y="344.2" font-size="12.8" fill="#111" stroke="#111" stroke-width="0.22" font-weight="bold">C</text>
<text x="209.2" y="11" font-size="12.8" fill="#111" stroke="#111" stroke-width="0.22" font-weight="bold">D</text>
<text x="210.8" y="143.8" font-size="13.2" fill="#111" stroke="#111" stroke-width="0.22" font-weight="bold">E</text>
<text x="210.8" y="268.4" font-size="13.2" fill="#111" stroke="#111" stroke-width="0.22" font-weight="bold">F</text>
<rect x="142.9" y="50.62" width="13" height="22.58" fill="#c6533a" stroke="#a8462e" stroke-width="0.5"/>
<line x1="149.4" y1="50.62" x2="149.4" y2="47.62" stroke="#111" stroke-width="0.7"/>
<line x1="147.06" y1="47.62" x2="151.74" y2="47.62" stroke="#111" stroke-width="0.7"/>
<circle cx="148.4" cy="49.87" r="0.95" fill="#111"/>
<circle cx="150.9" cy="48.82" r="0.95" fill="#111"/>
<circle cx="149.4" cy="51.53" r="0.95" fill="#111"/>
<rect x="163.1" y="43.7" width="13" height="29.5" fill="#eb7531" stroke="#d5642a" stroke-width="0.5"/>
<line x1="169.6" y1="43.7" x2="169.6" y2="38.43" stroke="#111" stroke-width="0.7"/>
<line x1="167.26" y1="38.43" x2="171.94" y2="38.43" stroke="#111" stroke-width="0.7"/>
<circle cx="169.6" cy="47.62" r="0.95" fill="#111"/>
<circle cx="170.6" cy="41.59" r="0.95" fill="#111"/>
<circle cx="168.6" cy="43.85" r="0.95" fill="#111"/>
<rect x="183.7" y="34.82" width="13" height="38.38" fill="#de9d4b" stroke="#c48a3e" stroke-width="0.5"/>
<line x1="190.2" y1="34.82" x2="190.2" y2="31.06" stroke="#111" stroke-width="0.7"/>
<line x1="187.86" y1="31.06" x2="192.54" y2="31.06" stroke="#111" stroke-width="0.7"/>
<circle cx="189.2" cy="32.87" r="0.95" fill="#111"/>
<circle cx="191.2" cy="32.26" r="0.95" fill="#111"/>
<circle cx="190.2" cy="37.08" r="0.95" fill="#111"/>
<line x1="139.4" y1="11.5" x2="139.4" y2="73.2" stroke="#5a5a5a" stroke-width="0.85"/>
<line x1="139.4" y1="73.2" x2="198.5" y2="73.2" stroke="#5a5a5a" stroke-width="0.85"/>
<line x1="149.4" y1="73.2" x2="149.4" y2="74.8" stroke="#5a5a5a" stroke-width="0.6"/>
<line x1="169.6" y1="73.2" x2="169.6" y2="74.8" stroke="#5a5a5a" stroke-width="0.6"/>
<line x1="190.2" y1="73.2" x2="190.2" y2="74.8" stroke="#5a5a5a" stroke-width="0.6"/>
<line x1="137.6" y1="73.2" x2="139.4" y2="73.2" stroke="#5a5a5a" stroke-width="0.8"/>
<text x="137.2" y="75.8" font-size="7.5" text-anchor="end" fill="#231f20" stroke="#231f20" stroke-width="0.22">0</text>
<line x1="137.6" y1="58.15" x2="139.4" y2="58.15" stroke="#5a5a5a" stroke-width="0.8"/>
<text x="137.2" y="60.75" font-size="7.5" text-anchor="end" fill="#231f20" stroke="#231f20" stroke-width="0.22">10,000</text>
<line x1="137.6" y1="43.1" x2="139.4" y2="43.1" stroke="#5a5a5a" stroke-width="0.8"/>
<text x="137.2" y="45.7" font-size="7.5" text-anchor="end" fill="#231f20" stroke="#231f20" stroke-width="0.22">20,000</text>
<line x1="137.6" y1="28.05" x2="139.4" y2="28.05" stroke="#5a5a5a" stroke-width="0.8"/>
<text x="137.2" y="30.65" font-size="7.5" text-anchor="end" fill="#231f20" stroke="#231f20" stroke-width="0.22">30,000</text>
<line x1="137.6" y1="13" x2="139.4" y2="13" stroke="#5a5a5a" stroke-width="0.8"/>
<text x="137.2" y="15.6" font-size="7.5" text-anchor="end" fill="#231f20" stroke="#231f20" stroke-width="0.22">40,000</text>
<line x1="146.6" y1="17.3" x2="192.1" y2="17.3" stroke="#555" stroke-width="0.7"/>
<line x1="146.6" y1="16.1" x2="146.6" y2="18.5" stroke="#555" stroke-width="0.6"/>
<line x1="192.1" y1="16.1" x2="192.1" y2="18.5" stroke="#555" stroke-width="0.6"/>
<text x="169.35" y="16.7" font-size="8" text-anchor="middle" fill="#231f20" stroke="#231f20" stroke-width="0.22">***</text>
<line x1="146.6" y1="29.9" x2="171.4" y2="29.9" stroke="#555" stroke-width="0.7"/>
<line x1="146.6" y1="28.7" x2="146.6" y2="31.1" stroke="#555" stroke-width="0.6"/>
<line x1="171.4" y1="28.7" x2="171.4" y2="31.1" stroke="#555" stroke-width="0.6"/>
<text x="159" y="29.3" font-size="8" text-anchor="middle" fill="#231f20" stroke="#231f20" stroke-width="0.22">*</text>
<text x="110.2" y="41.5" font-size="7.6" text-anchor="middle" fill="#231f20" stroke="#231f20" stroke-width="0.22" textLength="48" lengthAdjust="spacingAndGlyphs" transform="rotate(-90 110.2 41.5)">MFI of TNFα</text>
<text x="148.5" y="81.8" font-size="7.5" text-anchor="middle" fill="#231f20" stroke="#231f20" stroke-width="0.22">shNC</text>
<text x="169.6" y="81.8" font-size="7.5" text-anchor="middle" fill="#231f20" stroke="#231f20" stroke-width="0.22">sh1</text>
<text x="191.5" y="81.8" font-size="7.5" text-anchor="middle" fill="#231f20" stroke="#231f20" stroke-width="0.22">sh2</text>
<rect x="143.4" y="123.72" width="13" height="32.68" fill="#c6533a" stroke="#a8462e" stroke-width="0.5"/>
<line x1="149.9" y1="123.72" x2="149.9" y2="123.26" stroke="#111" stroke-width="0.7"/>
<line x1="147.56" y1="123.26" x2="152.24" y2="123.26" stroke="#111" stroke-width="0.7"/>
<circle cx="148.9" cy="123.26" r="0.95" fill="#111"/>
<circle cx="150.9" cy="122.96" r="0.95" fill="#111"/>
<circle cx="149.9" cy="124.02" r="0.95" fill="#111"/>
<rect x="163.5" y="116.88" width="13" height="39.52" fill="#eb7531" stroke="#d5642a" stroke-width="0.5"/>
<line x1="170" y1="116.88" x2="170" y2="113.84" stroke="#111" stroke-width="0.7"/>
<line x1="167.66" y1="113.84" x2="172.34" y2="113.84" stroke="#111" stroke-width="0.7"/>
<circle cx="170" cy="114.6" r="0.95" fill="#111"/>
<circle cx="170" cy="118.4" r="0.95" fill="#111"/>
<circle cx="170" cy="119.92" r="0.95" fill="#111"/>
<rect x="184.1" y="108.52" width="13" height="47.88" fill="#de9d4b" stroke="#c48a3e" stroke-width="0.5"/>
<line x1="190.6" y1="108.52" x2="190.6" y2="106.7" stroke="#111" stroke-width="0.7"/>
<line x1="188.26" y1="106.7" x2="192.94" y2="106.7" stroke="#111" stroke-width="0.7"/>
<circle cx="189.6" cy="107.76" r="0.95" fill="#111"/>
<circle cx="191.6" cy="108.52" r="0.95" fill="#111"/>
<circle cx="190.6" cy="110.04" r="0.95" fill="#111"/>
<line x1="139.7" y1="94.1" x2="139.7" y2="156.4" stroke="#5a5a5a" stroke-width="0.85"/>
<line x1="139.7" y1="156.4" x2="198.9" y2="156.4" stroke="#5a5a5a" stroke-width="0.85"/>
<line x1="149.9" y1="156.4" x2="149.9" y2="158" stroke="#5a5a5a" stroke-width="0.6"/>
<line x1="170" y1="156.4" x2="170" y2="158" stroke="#5a5a5a" stroke-width="0.6"/>
<line x1="190.6" y1="156.4" x2="190.6" y2="158" stroke="#5a5a5a" stroke-width="0.6"/>
<line x1="137.9" y1="156.4" x2="139.7" y2="156.4" stroke="#5a5a5a" stroke-width="0.8"/>
<text x="137.5" y="159" font-size="7.5" text-anchor="end" fill="#231f20" stroke="#231f20" stroke-width="0.22">0</text>
<line x1="137.9" y1="141.2" x2="139.7" y2="141.2" stroke="#5a5a5a" stroke-width="0.8"/>
<text x="137.5" y="143.8" font-size="7.5" text-anchor="end" fill="#231f20" stroke="#231f20" stroke-width="0.22">10,000</text>
<line x1="137.9" y1="126" x2="139.7" y2="126" stroke="#5a5a5a" stroke-width="0.8"/>
<text x="137.5" y="128.6" font-size="7.5" text-anchor="end" fill="#231f20" stroke="#231f20" stroke-width="0.22">20,000</text>
<line x1="137.9" y1="110.8" x2="139.7" y2="110.8" stroke="#5a5a5a" stroke-width="0.8"/>
<text x="137.5" y="113.4" font-size="7.5" text-anchor="end" fill="#231f20" stroke="#231f20" stroke-width="0.22">30,000</text>
<line x1="137.9" y1="95.6" x2="139.7" y2="95.6" stroke="#5a5a5a" stroke-width="0.8"/>
<text x="137.5" y="98.2" font-size="7.5" text-anchor="end" fill="#231f20" stroke="#231f20" stroke-width="0.22">40,000</text>
<line x1="147" y1="95.9" x2="192.9" y2="95.9" stroke="#555" stroke-width="0.7"/>
<line x1="147" y1="94.7" x2="147" y2="97.1" stroke="#555" stroke-width="0.6"/>
<line x1="192.9" y1="94.7" x2="192.9" y2="97.1" stroke="#555" stroke-width="0.6"/>
<text x="169.95" y="95.3" font-size="8" text-anchor="middle" fill="#231f20" stroke="#231f20" stroke-width="0.22">****</text>
<line x1="147" y1="108.4" x2="171.7" y2="108.4" stroke="#555" stroke-width="0.7"/>
<line x1="147" y1="107.2" x2="147" y2="109.6" stroke="#555" stroke-width="0.6"/>
<line x1="171.7" y1="107.2" x2="171.7" y2="109.6" stroke="#555" stroke-width="0.6"/>
<text x="159.35" y="107.8" font-size="8" text-anchor="middle" fill="#231f20" stroke="#231f20" stroke-width="0.22">**</text>
<text x="110.4" y="123.8" font-size="7.6" text-anchor="middle" fill="#231f20" stroke="#231f20" stroke-width="0.22" textLength="43" lengthAdjust="spacingAndGlyphs" transform="rotate(-90 110.4 123.8)">MFI of TNFα</text>
<text x="146.9" y="164.5" font-size="7.5" text-anchor="middle" fill="#231f20" stroke="#231f20" stroke-width="0.22">shNC</text>
<text x="167.4" y="164.5" font-size="7.5" text-anchor="middle" fill="#231f20" stroke="#231f20" stroke-width="0.22">sh1</text>
<text x="189" y="164.5" font-size="7.5" text-anchor="middle" fill="#231f20" stroke="#231f20" stroke-width="0.22">sh2</text>
<rect x="140.25" y="206.67" width="13" height="32.63" fill="#c6533a" stroke="#a8462e" stroke-width="0.5"/>
<line x1="146.75" y1="206.67" x2="146.75" y2="203.64" stroke="#111" stroke-width="0.7"/>
<line x1="144.41" y1="203.64" x2="149.09" y2="203.64" stroke="#111" stroke-width="0.7"/>
<circle cx="145.75" cy="205.91" r="0.95" fill="#111"/>
<circle cx="147.75" cy="204.4" r="0.95" fill="#111"/>
<circle cx="146.75" cy="208.95" r="0.95" fill="#111"/>
<rect x="160.5" y="197.95" width="13" height="41.35" fill="#eb7531" stroke="#d5642a" stroke-width="0.5"/>
<line x1="167" y1="197.95" x2="167" y2="197.19" stroke="#111" stroke-width="0.7"/>
<line x1="164.66" y1="197.19" x2="169.34" y2="197.19" stroke="#111" stroke-width="0.7"/>
<circle cx="166" cy="198.33" r="0.95" fill="#111"/>
<circle cx="168" cy="197.95" r="0.95" fill="#111"/>
<circle cx="167" cy="197.57" r="0.95" fill="#111"/>
<rect x="180.9" y="195.67" width="13" height="43.63" fill="#de9d4b" stroke="#c48a3e" stroke-width="0.5"/>
<line x1="187.4" y1="195.67" x2="187.4" y2="192.64" stroke="#111" stroke-width="0.7"/>
<line x1="185.06" y1="192.64" x2="189.74" y2="192.64" stroke="#111" stroke-width="0.7"/>
<circle cx="187.4" cy="193.78" r="0.95" fill="#111"/>
<circle cx="187.4" cy="196.81" r="0.95" fill="#111"/>
<circle cx="187.4" cy="198.33" r="0.95" fill="#111"/>
<line x1="136.6" y1="177.1" x2="136.6" y2="239.3" stroke="#5a5a5a" stroke-width="0.85"/>
<line x1="136.6" y1="239.3" x2="195.7" y2="239.3" stroke="#5a5a5a" stroke-width="0.85"/>
<line x1="146.75" y1="239.3" x2="146.75" y2="240.9" stroke="#5a5a5a" stroke-width="0.6"/>
<line x1="167" y1="239.3" x2="167" y2="240.9" stroke="#5a5a5a" stroke-width="0.6"/>
<line x1="187.4" y1="239.3" x2="187.4" y2="240.9" stroke="#5a5a5a" stroke-width="0.6"/>
<line x1="134.8" y1="239.3" x2="136.6" y2="239.3" stroke="#5a5a5a" stroke-width="0.8"/>
<text x="134.4" y="241.9" font-size="7.5" text-anchor="end" fill="#231f20" stroke="#231f20" stroke-width="0.22">0</text>
<line x1="134.8" y1="224.12" x2="136.6" y2="224.12" stroke="#5a5a5a" stroke-width="0.8"/>
<text x="134.4" y="226.72" font-size="7.5" text-anchor="end" fill="#231f20" stroke="#231f20" stroke-width="0.22">2,000</text>
<line x1="134.8" y1="208.95" x2="136.6" y2="208.95" stroke="#5a5a5a" stroke-width="0.8"/>
<text x="134.4" y="211.55" font-size="7.5" text-anchor="end" fill="#231f20" stroke="#231f20" stroke-width="0.22">4,000</text>
<line x1="134.8" y1="193.78" x2="136.6" y2="193.78" stroke="#5a5a5a" stroke-width="0.8"/>
<text x="134.4" y="196.38" font-size="7.5" text-anchor="end" fill="#231f20" stroke="#231f20" stroke-width="0.22">6,000</text>
<line x1="134.8" y1="178.6" x2="136.6" y2="178.6" stroke="#5a5a5a" stroke-width="0.8"/>
<text x="134.4" y="181.2" font-size="7.5" text-anchor="end" fill="#231f20" stroke="#231f20" stroke-width="0.22">8,000</text>
<line x1="144.2" y1="178.6" x2="189.7" y2="178.6" stroke="#555" stroke-width="0.7"/>
<line x1="144.2" y1="177.4" x2="144.2" y2="179.8" stroke="#555" stroke-width="0.6"/>
<line x1="189.7" y1="177.4" x2="189.7" y2="179.8" stroke="#555" stroke-width="0.6"/>
<text x="166.95" y="178" font-size="8" text-anchor="middle" fill="#231f20" stroke="#231f20" stroke-width="0.22">**</text>
<line x1="144.2" y1="190.8" x2="168.5" y2="190.8" stroke="#555" stroke-width="0.7"/>
<line x1="144.2" y1="189.6" x2="144.2" y2="192" stroke="#555" stroke-width="0.6"/>
<line x1="168.5" y1="189.6" x2="168.5" y2="192" stroke="#555" stroke-width="0.6"/>
<text x="156.35" y="190.2" font-size="8" text-anchor="middle" fill="#231f20" stroke="#231f20" stroke-width="0.22">**</text>
<text x="110.5" y="207.1" font-size="7.6" text-anchor="middle" fill="#231f20" stroke="#231f20" stroke-width="0.22" textLength="39.6" lengthAdjust="spacingAndGlyphs" transform="rotate(-90 110.5 207.1)">MFI of IFNγ</text>
<text x="149.2" y="248.1" font-size="7.5" text-anchor="middle" fill="#231f20" stroke="#231f20" stroke-width="0.22">shNC</text>
<text x="169.3" y="248.1" font-size="7.5" text-anchor="middle" fill="#231f20" stroke="#231f20" stroke-width="0.22">sh1</text>
<text x="190.3" y="248.1" font-size="7.5" text-anchor="middle" fill="#231f20" stroke="#231f20" stroke-width="0.22">sh2</text>
<rect x="140.25" y="295.97" width="13" height="24.83" fill="#c6533a" stroke="#a8462e" stroke-width="0.5"/>
<line x1="146.75" y1="295.97" x2="146.75" y2="295.22" stroke="#111" stroke-width="0.7"/>
<line x1="144.41" y1="295.22" x2="149.09" y2="295.22" stroke="#111" stroke-width="0.7"/>
<circle cx="145.75" cy="295.97" r="0.95" fill="#111"/>
<circle cx="147.75" cy="295.52" r="0.95" fill="#111"/>
<circle cx="146.75" cy="296.42" r="0.95" fill="#111"/>
<rect x="160.5" y="292.21" width="13" height="28.59" fill="#eb7531" stroke="#d5642a" stroke-width="0.5"/>
<line x1="167" y1="292.21" x2="167" y2="290.4" stroke="#111" stroke-width="0.7"/>
<line x1="164.66" y1="290.4" x2="169.34" y2="290.4" stroke="#111" stroke-width="0.7"/>
<circle cx="166" cy="292.21" r="0.95" fill="#111"/>
<circle cx="168" cy="291.45" r="0.95" fill="#111"/>
<circle cx="167" cy="292.96" r="0.95" fill="#111"/>
<rect x="180.9" y="279.41" width="13" height="41.39" fill="#de9d4b" stroke="#c48a3e" stroke-width="0.5"/>
<line x1="187.4" y1="279.41" x2="187.4" y2="273.09" stroke="#111" stroke-width="0.7"/>
<line x1="185.06" y1="273.09" x2="189.74" y2="273.09" stroke="#111" stroke-width="0.7"/>
<circle cx="187.4" cy="275.65" r="0.95" fill="#111"/>
<circle cx="187.4" cy="281.67" r="0.95" fill="#111"/>
<circle cx="187.4" cy="286.94" r="0.95" fill="#111"/>
<line x1="136.6" y1="259.1" x2="136.6" y2="320.8" stroke="#5a5a5a" stroke-width="0.85"/>
<line x1="136.6" y1="320.8" x2="195.7" y2="320.8" stroke="#5a5a5a" stroke-width="0.85"/>
<line x1="146.75" y1="320.8" x2="146.75" y2="322.4" stroke="#5a5a5a" stroke-width="0.6"/>
<line x1="167" y1="320.8" x2="167" y2="322.4" stroke="#5a5a5a" stroke-width="0.6"/>
<line x1="187.4" y1="320.8" x2="187.4" y2="322.4" stroke="#5a5a5a" stroke-width="0.6"/>
<line x1="134.8" y1="320.8" x2="136.6" y2="320.8" stroke="#5a5a5a" stroke-width="0.8"/>
<text x="134.4" y="323.4" font-size="7.5" text-anchor="end" fill="#231f20" stroke="#231f20" stroke-width="0.22">0</text>
<line x1="134.8" y1="305.75" x2="136.6" y2="305.75" stroke="#5a5a5a" stroke-width="0.8"/>
<text x="134.4" y="308.35" font-size="7.5" text-anchor="end" fill="#231f20" stroke="#231f20" stroke-width="0.22">1,000</text>
<line x1="134.8" y1="290.7" x2="136.6" y2="290.7" stroke="#5a5a5a" stroke-width="0.8"/>
<text x="134.4" y="293.3" font-size="7.5" text-anchor="end" fill="#231f20" stroke="#231f20" stroke-width="0.22">2,000</text>
<line x1="134.8" y1="275.65" x2="136.6" y2="275.65" stroke="#5a5a5a" stroke-width="0.8"/>
<text x="134.4" y="278.25" font-size="7.5" text-anchor="end" fill="#231f20" stroke="#231f20" stroke-width="0.22">3,000</text>
<line x1="134.8" y1="260.6" x2="136.6" y2="260.6" stroke="#5a5a5a" stroke-width="0.8"/>
<text x="134.4" y="263.2" font-size="7.5" text-anchor="end" fill="#231f20" stroke="#231f20" stroke-width="0.22">4,000</text>
<line x1="144.2" y1="268" x2="189.7" y2="268" stroke="#555" stroke-width="0.7"/>
<line x1="144.2" y1="266.8" x2="144.2" y2="269.2" stroke="#555" stroke-width="0.6"/>
<line x1="189.7" y1="266.8" x2="189.7" y2="269.2" stroke="#555" stroke-width="0.6"/>
<text x="166.95" y="267.4" font-size="8" text-anchor="middle" fill="#231f20" stroke="#231f20" stroke-width="0.22">**</text>
<line x1="144.2" y1="283" x2="168.5" y2="283" stroke="#555" stroke-width="0.7"/>
<line x1="144.2" y1="281.8" x2="144.2" y2="284.2" stroke="#555" stroke-width="0.6"/>
<line x1="168.5" y1="281.8" x2="168.5" y2="284.2" stroke="#555" stroke-width="0.6"/>
<text x="156.35" y="282.4" font-size="8" text-anchor="middle" fill="#231f20" stroke="#231f20" stroke-width="0.22">*</text>
<text x="111.3" y="287.3" font-size="7.6" text-anchor="middle" fill="#231f20" stroke="#231f20" stroke-width="0.22" textLength="39.3" lengthAdjust="spacingAndGlyphs" transform="rotate(-90 111.3 287.3)">MFI of IFNγ</text>
<text x="147.6" y="330.9" font-size="7.5" text-anchor="middle" fill="#231f20" stroke="#231f20" stroke-width="0.22">shNC</text>
<text x="167.7" y="330.9" font-size="7.5" text-anchor="middle" fill="#231f20" stroke="#231f20" stroke-width="0.22">sh1</text>
<text x="188.6" y="330.9" font-size="7.5" text-anchor="middle" fill="#231f20" stroke="#231f20" stroke-width="0.22">sh2</text>
<rect x="142.25" y="378.75" width="13" height="37.05" fill="#c6533a" stroke="#a8462e" stroke-width="0.5"/>
<line x1="148.75" y1="378.75" x2="148.75" y2="374.97" stroke="#111" stroke-width="0.7"/>
<line x1="146.41" y1="374.97" x2="151.09" y2="374.97" stroke="#111" stroke-width="0.7"/>
<circle cx="147.75" cy="375.92" r="0.95" fill="#111"/>
<circle cx="148.75" cy="383.23" r="0.95" fill="#111"/>
<circle cx="149.75" cy="376.86" r="0.95" fill="#111"/>
<rect x="162.25" y="380.87" width="13" height="34.93" fill="#eb7531" stroke="#d5642a" stroke-width="0.5"/>
<line x1="168.75" y1="380.87" x2="168.75" y2="374.03" stroke="#111" stroke-width="0.7"/>
<line x1="166.41" y1="374.03" x2="171.09" y2="374.03" stroke="#111" stroke-width="0.7"/>
<circle cx="168.75" cy="380.87" r="0.95" fill="#111"/>
<circle cx="168.75" cy="387.48" r="0.95" fill="#111"/>
<circle cx="168.75" cy="375.68" r="0.95" fill="#111"/>
<rect x="181.85" y="384.65" width="13" height="31.15" fill="#de9d4b" stroke="#c48a3e" stroke-width="0.5"/>
<line x1="188.35" y1="384.65" x2="188.35" y2="376.39" stroke="#111" stroke-width="0.7"/>
<line x1="186.01" y1="376.39" x2="190.69" y2="376.39" stroke="#111" stroke-width="0.7"/>
<circle cx="188.35" cy="393.14" r="0.95" fill="#111"/>
<circle cx="188.35" cy="383" r="0.95" fill="#111"/>
<circle cx="188.35" cy="378.04" r="0.95" fill="#111"/>
<line x1="138.6" y1="355.3" x2="138.6" y2="415.8" stroke="#5a5a5a" stroke-width="0.85"/>
<line x1="138.6" y1="415.8" x2="196.65" y2="415.8" stroke="#5a5a5a" stroke-width="0.85"/>
<line x1="148.75" y1="415.8" x2="148.75" y2="417.4" stroke="#5a5a5a" stroke-width="0.6"/>
<line x1="168.75" y1="415.8" x2="168.75" y2="417.4" stroke="#5a5a5a" stroke-width="0.6"/>
<line x1="188.35" y1="415.8" x2="188.35" y2="417.4" stroke="#5a5a5a" stroke-width="0.6"/>
<line x1="136.8" y1="415.8" x2="138.6" y2="415.8" stroke="#5a5a5a" stroke-width="0.8"/>
<text x="136.4" y="418.4" font-size="7.5" text-anchor="end" fill="#231f20" stroke="#231f20" stroke-width="0.22">0</text>
<line x1="136.8" y1="404" x2="138.6" y2="404" stroke="#5a5a5a" stroke-width="0.8"/>
<text x="136.4" y="406.6" font-size="7.5" text-anchor="end" fill="#231f20" stroke="#231f20" stroke-width="0.22">5,000</text>
<line x1="136.8" y1="392.2" x2="138.6" y2="392.2" stroke="#5a5a5a" stroke-width="0.8"/>
<text x="136.4" y="394.8" font-size="7.5" text-anchor="end" fill="#231f20" stroke="#231f20" stroke-width="0.22">10,000</text>
<line x1="136.8" y1="380.4" x2="138.6" y2="380.4" stroke="#5a5a5a" stroke-width="0.8"/>
<text x="136.4" y="383" font-size="7.5" text-anchor="end" fill="#231f20" stroke="#231f20" stroke-width="0.22">15,000</text>
<line x1="136.8" y1="368.6" x2="138.6" y2="368.6" stroke="#5a5a5a" stroke-width="0.8"/>
<text x="136.4" y="371.2" font-size="7.5" text-anchor="end" fill="#231f20" stroke="#231f20" stroke-width="0.22">20,000</text>
<line x1="136.8" y1="356.8" x2="138.6" y2="356.8" stroke="#5a5a5a" stroke-width="0.8"/>
<text x="136.4" y="359.4" font-size="7.5" text-anchor="end" fill="#231f20" stroke="#231f20" stroke-width="0.22">25,000</text>
<line x1="146.5" y1="356.8" x2="189.7" y2="356.8" stroke="#555" stroke-width="0.7"/>
<line x1="146.5" y1="355.6" x2="146.5" y2="358" stroke="#555" stroke-width="0.6"/>
<line x1="189.7" y1="355.6" x2="189.7" y2="358" stroke="#555" stroke-width="0.6"/>
<text x="168.1" y="355.4" font-size="7.3" text-anchor="middle" fill="#231f20" stroke="#231f20" stroke-width="0.22">ns</text>
<line x1="146.5" y1="368.9" x2="170.1" y2="368.9" stroke="#555" stroke-width="0.7"/>
<line x1="146.5" y1="367.7" x2="146.5" y2="370.1" stroke="#555" stroke-width="0.6"/>
<line x1="170.1" y1="367.7" x2="170.1" y2="370.1" stroke="#555" stroke-width="0.6"/>
<text x="158.3" y="367.5" font-size="7.3" text-anchor="middle" fill="#231f20" stroke="#231f20" stroke-width="0.22">ns</text>
<text x="110.4" y="382.7" font-size="7.6" text-anchor="middle" fill="#231f20" stroke="#231f20" stroke-width="0.22" textLength="33" lengthAdjust="spacingAndGlyphs" transform="rotate(-90 110.4 382.7)">MFI of IL2</text>
<text x="150" y="424.3" font-size="7.5" text-anchor="middle" fill="#231f20" stroke="#231f20" stroke-width="0.22">shNC</text>
<text x="170.1" y="424.3" font-size="7.5" text-anchor="middle" fill="#231f20" stroke="#231f20" stroke-width="0.22">sh1</text>
<text x="190.9" y="424.3" font-size="7.5" text-anchor="middle" fill="#231f20" stroke="#231f20" stroke-width="0.22">sh2</text>
<rect x="142" y="462.75" width="13" height="37.55" fill="#c6533a" stroke="#a8462e" stroke-width="0.5"/>
<line x1="148.5" y1="462.75" x2="148.5" y2="454.28" stroke="#111" stroke-width="0.7"/>
<line x1="146.16" y1="454.28" x2="150.84" y2="454.28" stroke="#111" stroke-width="0.7"/>
<circle cx="148.5" cy="454.65" r="0.95" fill="#111"/>
<circle cx="148.5" cy="463.49" r="0.95" fill="#111"/>
<circle cx="148.5" cy="469.38" r="0.95" fill="#111"/>
<rect x="161.8" y="463.12" width="13" height="37.18" fill="#eb7531" stroke="#d5642a" stroke-width="0.5"/>
<line x1="168.3" y1="463.12" x2="168.3" y2="449.87" stroke="#111" stroke-width="0.7"/>
<line x1="165.96" y1="449.87" x2="170.64" y2="449.87" stroke="#111" stroke-width="0.7"/>
<circle cx="168.3" cy="449.5" r="0.95" fill="#111"/>
<circle cx="168.3" cy="466.43" r="0.95" fill="#111"/>
<circle cx="168.3" cy="472.32" r="0.95" fill="#111"/>
<rect x="181.7" y="465.7" width="13" height="34.6" fill="#de9d4b" stroke="#c48a3e" stroke-width="0.5"/>
<line x1="188.2" y1="465.7" x2="188.2" y2="463.49" stroke="#111" stroke-width="0.7"/>
<line x1="185.86" y1="463.49" x2="190.54" y2="463.49" stroke="#111" stroke-width="0.7"/>
<circle cx="187.2" cy="462.75" r="0.95" fill="#111"/>
<circle cx="189.2" cy="463.49" r="0.95" fill="#111"/>
<circle cx="188.2" cy="470.11" r="0.95" fill="#111"/>
<line x1="138.6" y1="439.9" x2="138.6" y2="500.3" stroke="#5a5a5a" stroke-width="0.85"/>
<line x1="138.6" y1="500.3" x2="196.5" y2="500.3" stroke="#5a5a5a" stroke-width="0.85"/>
<line x1="148.5" y1="500.3" x2="148.5" y2="501.9" stroke="#5a5a5a" stroke-width="0.6"/>
<line x1="168.3" y1="500.3" x2="168.3" y2="501.9" stroke="#5a5a5a" stroke-width="0.6"/>
<line x1="188.2" y1="500.3" x2="188.2" y2="501.9" stroke="#5a5a5a" stroke-width="0.6"/>
<line x1="136.8" y1="500.3" x2="138.6" y2="500.3" stroke="#5a5a5a" stroke-width="0.8"/>
<text x="136.4" y="502.9" font-size="7.5" text-anchor="end" fill="#231f20" stroke="#231f20" stroke-width="0.22">0</text>
<line x1="136.8" y1="485.57" x2="138.6" y2="485.57" stroke="#5a5a5a" stroke-width="0.8"/>
<text x="136.4" y="488.18" font-size="7.5" text-anchor="end" fill="#231f20" stroke="#231f20" stroke-width="0.22">2,000</text>
<line x1="136.8" y1="470.85" x2="138.6" y2="470.85" stroke="#5a5a5a" stroke-width="0.8"/>
<text x="136.4" y="473.45" font-size="7.5" text-anchor="end" fill="#231f20" stroke="#231f20" stroke-width="0.22">4,000</text>
<line x1="136.8" y1="456.12" x2="138.6" y2="456.12" stroke="#5a5a5a" stroke-width="0.8"/>
<text x="136.4" y="458.73" font-size="7.5" text-anchor="end" fill="#231f20" stroke="#231f20" stroke-width="0.22">6,000</text>
<line x1="136.8" y1="441.4" x2="138.6" y2="441.4" stroke="#5a5a5a" stroke-width="0.8"/>
<text x="136.4" y="444" font-size="7.5" text-anchor="end" fill="#231f20" stroke="#231f20" stroke-width="0.22">8,000</text>
<line x1="145.7" y1="432.7" x2="189.7" y2="432.7" stroke="#555" stroke-width="0.7"/>
<line x1="145.7" y1="431.5" x2="145.7" y2="433.9" stroke="#555" stroke-width="0.6"/>
<line x1="189.7" y1="431.5" x2="189.7" y2="433.9" stroke="#555" stroke-width="0.6"/>
<text x="167.7" y="431.3" font-size="7.3" text-anchor="middle" fill="#231f20" stroke="#231f20" stroke-width="0.22">ns</text>
<line x1="145.7" y1="444.5" x2="170.1" y2="444.5" stroke="#555" stroke-width="0.7"/>
<line x1="145.7" y1="443.3" x2="145.7" y2="445.7" stroke="#555" stroke-width="0.6"/>
<line x1="170.1" y1="443.3" x2="170.1" y2="445.7" stroke="#555" stroke-width="0.6"/>
<text x="157.9" y="443.1" font-size="7.3" text-anchor="middle" fill="#231f20" stroke="#231f20" stroke-width="0.22">ns</text>
<text x="112.4" y="466.3" font-size="7.6" text-anchor="middle" fill="#231f20" stroke="#231f20" stroke-width="0.22" textLength="33.8" lengthAdjust="spacingAndGlyphs" transform="rotate(-90 112.4 466.3)">MFI of IL2</text>
<text x="150.5" y="507.8" font-size="7.5" text-anchor="middle" fill="#231f20" stroke="#231f20" stroke-width="0.22">shNC</text>
<text x="170" y="507.8" font-size="7.5" text-anchor="middle" fill="#231f20" stroke="#231f20" stroke-width="0.22">sh1</text>
<text x="191.2" y="507.8" font-size="7.5" text-anchor="middle" fill="#231f20" stroke="#231f20" stroke-width="0.22">sh2</text>
<rect x="220" y="15.3" width="91.2" height="92" fill="#fff"/>
<path d="M220.5,29.7 L220.5,29.68 L221,29.68 L221.5,29.67 L222,29.66 L222.5,29.64 L223,29.62 L223.5,29.6 L224,29.56 L224.5,29.53 L225,29.48 L225.5,29.43 L226,29.38 L226.5,29.31 L227,29.24 L227.5,29.17 L228,29.09 L228.5,29.01 L229,28.94 L229.5,28.98 L230,28.88 L230.5,28.56 L231,28.6 L231.5,28.38 L232,28.03 L232.5,27.54 L233,26.93 L233.5,25.89 L234,24.95 L234.5,23.58 L235,22.04 L235.5,20.85 L236,19.72 L236.5,18.77 L237,18.71 L237.5,18.82 L238,19.52 L238.5,20.67 L239,21.92 L239.5,23.32 L240,24.41 L240.5,25.76 L241,26.84 L241.5,27.75 L242,28.4 L242.5,28.69 L243,29.14 L243.5,29.37 L244,29.51 L244.5,29.59 L245,29.64 L245.5,29.67 L246,29.69 L246.5,29.69 L247,29.7 L247.5,29.7 L248,29.7 L248.5,29.7 L249,29.7 L249.5,29.7 L250,29.7 L250.5,29.7 L251,29.7 L251.5,29.7 L252,29.7 L252.5,29.7 L253,29.7 L253.5,29.7 L254,29.7 L254.5,29.7 L255,29.7 L255.5,29.7 L256,29.7 L256.5,29.7 L257,29.7 L257.5,29.7 L258,29.7 L258.5,29.7 L259,29.7 L259.5,29.7 L260,29.7 L260.5,29.7 L261,29.7 L261.5,29.7 L262,29.7 L262.5,29.7 L263,29.7 L263.5,29.7 L264,29.7 L264.5,29.7 L265,29.7 L265.5,29.7 L266,29.7 L266.5,29.7 L267,29.7 L267.5,29.7 L268,29.7 L268.5,29.7 L269,29.7 L269.5,29.7 L270,29.7 L270.5,29.7 L271,29.7 L271.5,29.7 L272,29.7 L272.5,29.7 L273,29.7 L273.5,29.7 L274,29.7 L274.5,29.7 L275,29.7 L275.5,29.7 L276,29.7 L276.5,29.7 L277,29.7 L277.5,29.7 L278,29.7 L278.5,29.7 L279,29.7 L279.5,29.7 L280,29.7 L280.5,29.7 L281,29.7 L281.5,29.7 L282,29.7 L282.5,29.7 L283,29.7 L283.5,29.7 L284,29.7 L284.5,29.7 L285,29.7 L285.5,29.7 L286,29.7 L286.5,29.7 L287,29.7 L287.5,29.7 L288,29.7 L288.5,29.7 L289,29.7 L289.5,29.7 L290,29.7 L290.5,29.7 L291,29.7 L291.5,29.7 L292,29.7 L292.5,29.7 L293,29.7 L293.5,29.7 L294,29.7 L294.5,29.7 L295,29.7 L295.5,29.7 L296,29.7 L296.5,29.7 L297,29.7 L297.5,29.7 L298,29.7 L298.5,29.7 L299,29.7 L299.5,29.7 L300,29.7 L300.5,29.7 L301,29.7 L301.5,29.7 L302,29.7 L302.5,29.7 L303,29.7 L303.5,29.7 L304,29.7 L304.5,29.7 L305,29.7 L305.5,29.7 L306,29.7 L306.5,29.7 L307,29.7 L307.5,29.7 L308,29.7 L308.5,29.7 L309,29.7 L309.5,29.7 L310,29.7 L310.5,29.7 L310.7,29.7 Z" fill="#a880c6" stroke="#6e4a92" stroke-width="0.5" stroke-linejoin="round"/>
<line x1="220.5" y1="29.7" x2="310.7" y2="29.7" stroke="#9a86ad" stroke-width="0.7"/>
<path d="M220.5,42.5 L220.5,42.5 L221,42.5 L221.5,42.5 L222,42.5 L222.5,42.5 L223,42.5 L223.5,42.5 L224,42.5 L224.5,42.5 L225,42.5 L225.5,42.5 L226,42.5 L226.5,42.5 L227,42.5 L227.5,42.5 L228,42.5 L228.5,42.5 L229,42.5 L229.5,42.5 L230,42.5 L230.5,42.5 L231,42.5 L231.5,42.5 L232,42.5 L232.5,42.5 L233,42.5 L233.5,42.5 L234,42.5 L234.5,42.5 L235,42.5 L235.5,42.5 L236,42.5 L236.5,42.5 L237,42.5 L237.5,42.5 L238,42.5 L238.5,42.49 L239,42.49 L239.5,42.48 L240,42.45 L240.5,42.4 L241,42.3 L241.5,42.12 L242,41.82 L242.5,41.46 L243,40.65 L243.5,39.71 L244,38.6 L244.5,37.3 L245,36.01 L245.5,34.88 L246,33.82 L246.5,33.38 L247,33.51 L247.5,33.92 L248,34.29 L248.5,35.27 L249,36.15 L249.5,36.94 L250,37.79 L250.5,38.7 L251,39.56 L251.5,39.91 L252,40.65 L252.5,40.97 L253,41.07 L253.5,41.34 L254,41.52 L254.5,41.73 L255,41.83 L255.5,41.92 L256,42 L256.5,42.07 L257,42.13 L257.5,42.19 L258,42.24 L258.5,42.29 L259,42.33 L259.5,42.36 L260,42.39 L260.5,42.42 L261,42.44 L261.5,42.45 L262,42.46 L262.5,42.47 L263,42.48 L263.5,42.49 L264,42.49 L264.5,42.49 L265,42.5 L265.5,42.5 L266,42.5 L266.5,42.5 L267,42.5 L267.5,42.5 L268,42.5 L268.5,42.5 L269,42.5 L269.5,42.5 L270,42.5 L270.5,42.5 L271,42.5 L271.5,42.5 L272,42.5 L272.5,42.5 L273,42.5 L273.5,42.5 L274,42.5 L274.5,42.5 L275,42.5 L275.5,42.5 L276,42.5 L276.5,42.5 L277,42.5 L277.5,42.5 L278,42.5 L278.5,42.5 L279,42.5 L279.5,42.5 L280,42.5 L280.5,42.5 L281,42.5 L281.5,42.5 L282,42.5 L282.5,42.5 L283,42.5 L283.5,42.5 L284,42.5 L284.5,42.5 L285,42.5 L285.5,42.5 L286,42.5 L286.5,42.5 L287,42.5 L287.5,42.5 L288,42.5 L288.5,42.5 L289,42.5 L289.5,42.5 L290,42.5 L290.5,42.5 L291,42.5 L291.5,42.5 L292,42.5 L292.5,42.5 L293,42.5 L293.5,42.5 L294,42.5 L294.5,42.5 L295,42.5 L295.5,42.5 L296,42.5 L296.5,42.5 L297,42.5 L297.5,42.5 L298,42.5 L298.5,42.5 L299,42.5 L299.5,42.5 L300,42.5 L300.5,42.5 L301,42.5 L301.5,42.5 L302,42.5 L302.5,42.5 L303,42.5 L303.5,42.5 L304,42.5 L304.5,42.5 L305,42.5 L305.5,42.5 L306,42.5 L306.5,42.5 L307,42.5 L307.5,42.5 L308,42.5 L308.5,42.5 L309,42.5 L309.5,42.5 L310,42.5 L310.5,42.5 L310.7,42.5 Z" fill="#e4c7c3" stroke="#c49e99" stroke-width="0.5" stroke-linejoin="round"/>
<line x1="220.5" y1="42.5" x2="310.7" y2="42.5" stroke="#8d8d8d" stroke-width="0.7"/>
<path d="M220.5,55.4 L220.5,55.4 L221,55.4 L221.5,55.4 L222,55.4 L222.5,55.4 L223,55.4 L223.5,55.4 L224,55.4 L224.5,55.4 L225,55.4 L225.5,55.4 L226,55.4 L226.5,55.4 L227,55.4 L227.5,55.4 L228,55.4 L228.5,55.4 L229,55.4 L229.5,55.4 L230,55.4 L230.5,55.4 L231,55.4 L231.5,55.4 L232,55.4 L232.5,55.4 L233,55.4 L233.5,55.4 L234,55.4 L234.5,55.4 L235,55.4 L235.5,55.4 L236,55.4 L236.5,55.4 L237,55.4 L237.5,55.4 L238,55.4 L238.5,55.39 L239,55.38 L239.5,55.35 L240,55.3 L240.5,55.21 L241,55.05 L241.5,54.78 L242,54.49 L242.5,53.67 L243,53 L243.5,52.1 L244,50.7 L244.5,49.41 L245,48.5 L245.5,47.41 L246,46.66 L246.5,46.64 L247,46.78 L247.5,47 L248,47.66 L248.5,48.19 L249,49.04 L249.5,49.87 L250,50.73 L250.5,51.64 L251,52.17 L251.5,52.78 L252,53.28 L252.5,53.63 L253,54 L253.5,54.26 L254,54.22 L254.5,54.51 L255,54.7 L255.5,54.68 L256,54.76 L256.5,54.83 L257,54.9 L257.5,54.97 L258,55.03 L258.5,55.09 L259,55.14 L259.5,55.19 L260,55.23 L260.5,55.26 L261,55.29 L261.5,55.32 L262,55.34 L262.5,55.35 L263,55.36 L263.5,55.37 L264,55.38 L264.5,55.39 L265,55.39 L265.5,55.39 L266,55.4 L266.5,55.4 L267,55.4 L267.5,55.4 L268,55.4 L268.5,55.4 L269,55.4 L269.5,55.4 L270,55.4 L270.5,55.4 L271,55.4 L271.5,55.4 L272,55.4 L272.5,55.4 L273,55.4 L273.5,55.4 L274,55.4 L274.5,55.4 L275,55.4 L275.5,55.4 L276,55.4 L276.5,55.4 L277,55.4 L277.5,55.4 L278,55.4 L278.5,55.4 L279,55.4 L279.5,55.4 L280,55.4 L280.5,55.4 L281,55.4 L281.5,55.4 L282,55.4 L282.5,55.4 L283,55.4 L283.5,55.4 L284,55.4 L284.5,55.4 L285,55.4 L285.5,55.4 L286,55.4 L286.5,55.4 L287,55.4 L287.5,55.4 L288,55.4 L288.5,55.4 L289,55.4 L289.5,55.4 L290,55.4 L290.5,55.4 L291,55.4 L291.5,55.4 L292,55.4 L292.5,55.4 L293,55.4 L293.5,55.4 L294,55.4 L294.5,55.4 L295,55.4 L295.5,55.4 L296,55.4 L296.5,55.4 L297,55.4 L297.5,55.4 L298,55.4 L298.5,55.4 L299,55.4 L299.5,55.4 L300,55.4 L300.5,55.4 L301,55.4 L301.5,55.4 L302,55.4 L302.5,55.4 L303,55.4 L303.5,55.4 L304,55.4 L304.5,55.4 L305,55.4 L305.5,55.4 L306,55.4 L306.5,55.4 L307,55.4 L307.5,55.4 L308,55.4 L308.5,55.4 L309,55.4 L309.5,55.4 L310,55.4 L310.5,55.4 L310.7,55.4 Z" fill="#78ad68" stroke="#467a3c" stroke-width="0.5" stroke-linejoin="round"/>
<line x1="220.5" y1="55.4" x2="310.7" y2="55.4" stroke="#7d8d79" stroke-width="0.7"/>
<path d="M220.5,68.3 L220.5,68.3 L221,68.3 L221.5,68.3 L222,68.3 L222.5,68.3 L223,68.3 L223.5,68.3 L224,68.3 L224.5,68.3 L225,68.3 L225.5,68.3 L226,68.3 L226.5,68.3 L227,68.3 L227.5,68.3 L228,68.3 L228.5,68.3 L229,68.3 L229.5,68.3 L230,68.3 L230.5,68.3 L231,68.3 L231.5,68.3 L232,68.3 L232.5,68.3 L233,68.3 L233.5,68.3 L234,68.3 L234.5,68.3 L235,68.3 L235.5,68.3 L236,68.3 L236.5,68.3 L237,68.3 L237.5,68.3 L238,68.3 L238.5,68.3 L239,68.3 L239.5,68.29 L240,68.29 L240.5,68.29 L241,68.27 L241.5,68.25 L242,68.2 L242.5,68.11 L243,67.95 L243.5,67.69 L244,67.15 L244.5,66.72 L245,65.91 L245.5,65.09 L246,64.11 L246.5,63.03 L247,61.99 L247.5,61.54 L248,61.1 L248.5,61.33 L249,61.39 L249.5,62.01 L250,62.46 L250.5,63.16 L251,63.8 L251.5,64.32 L252,64.97 L252.5,65.45 L253,65.99 L253.5,66.33 L254,66.62 L254.5,66.66 L255,67.07 L255.5,67.08 L256,67.04 L256.5,67.19 L257,67.33 L257.5,67.15 L258,67.45 L258.5,67.48 L259,67.56 L259.5,67.47 L260,67.39 L260.5,67.54 L261,67.59 L261.5,67.64 L262,67.69 L262.5,67.74 L263,67.79 L263.5,67.84 L264,67.89 L264.5,67.93 L265,67.98 L265.5,68.01 L266,68.05 L266.5,68.08 L267,68.11 L267.5,68.14 L268,68.16 L268.5,68.19 L269,68.2 L269.5,68.22 L270,68.23 L270.5,68.25 L271,68.26 L271.5,68.26 L272,68.27 L272.5,68.28 L273,68.28 L273.5,68.29 L274,68.29 L274.5,68.29 L275,68.29 L275.5,68.29 L276,68.3 L276.5,68.3 L277,68.3 L277.5,68.3 L278,68.3 L278.5,68.3 L279,68.3 L279.5,68.3 L280,68.3 L280.5,68.3 L281,68.3 L281.5,68.3 L282,68.3 L282.5,68.3 L283,68.3 L283.5,68.3 L284,68.3 L284.5,68.3 L285,68.3 L285.5,68.3 L286,68.3 L286.5,68.3 L287,68.3 L287.5,68.3 L288,68.3 L288.5,68.3 L289,68.3 L289.5,68.3 L290,68.3 L290.5,68.3 L291,68.3 L291.5,68.3 L292,68.3 L292.5,68.3 L293,68.3 L293.5,68.3 L294,68.3 L294.5,68.3 L295,68.3 L295.5,68.3 L296,68.3 L296.5,68.3 L297,68.3 L297.5,68.3 L298,68.3 L298.5,68.3 L299,68.3 L299.5,68.3 L300,68.3 L300.5,68.3 L301,68.3 L301.5,68.3 L302,68.3 L302.5,68.3 L303,68.3 L303.5,68.3 L304,68.3 L304.5,68.3 L305,68.3 L305.5,68.3 L306,68.3 L306.5,68.3 L307,68.3 L307.5,68.3 L308,68.3 L308.5,68.3 L309,68.3 L309.5,68.3 L310,68.3 L310.5,68.3 L310.7,68.3 Z" fill="#a3d98e" stroke="#6cb356" stroke-width="0.5" stroke-linejoin="round"/>
<line x1="220.5" y1="68.3" x2="310.7" y2="68.3" stroke="#8faa88" stroke-width="0.7"/>
<path d="M220.5,81.3 L220.5,81.3 L221,81.3 L221.5,81.3 L222,81.3 L222.5,81.3 L223,81.3 L223.5,81.3 L224,81.3 L224.5,81.3 L225,81.3 L225.5,81.3 L226,81.3 L226.5,81.3 L227,81.3 L227.5,81.3 L228,81.3 L228.5,81.3 L229,81.3 L229.5,81.3 L230,81.3 L230.5,81.3 L231,81.3 L231.5,81.3 L232,81.3 L232.5,81.3 L233,81.3 L233.5,81.3 L234,81.3 L234.5,81.3 L235,81.3 L235.5,81.3 L236,81.3 L236.5,81.3 L237,81.3 L237.5,81.3 L238,81.29 L238.5,81.29 L239,81.27 L239.5,81.23 L240,81.14 L240.5,80.95 L241,80.59 L241.5,80.05 L242,79.12 L242.5,77.69 L243,76.37 L243.5,74.8 L244,73.23 L244.5,72.56 L245,72.25 L245.5,72.56 L246,72.85 L246.5,73.41 L247,74.3 L247.5,75.2 L248,75.96 L248.5,76.75 L249,77.67 L249.5,78.24 L250,78.71 L250.5,79.07 L251,79.45 L251.5,79.56 L252,79.85 L252.5,79.78 L253,80.04 L253.5,80.15 L254,80.25 L254.5,80.29 L255,80.31 L255.5,80.17 L256,80.36 L256.5,80.41 L257,80.31 L257.5,80.51 L258,80.57 L258.5,80.63 L259,80.69 L259.5,80.75 L260,80.81 L260.5,80.86 L261,80.91 L261.5,80.96 L262,81 L262.5,81.04 L263,81.08 L263.5,81.11 L264,81.14 L264.5,81.16 L265,81.19 L265.5,81.2 L266,81.22 L266.5,81.24 L267,81.25 L267.5,81.26 L268,81.27 L268.5,81.27 L269,81.28 L269.5,81.28 L270,81.29 L270.5,81.29 L271,81.29 L271.5,81.29 L272,81.3 L272.5,81.3 L273,81.3 L273.5,81.3 L274,81.3 L274.5,81.3 L275,81.3 L275.5,81.3 L276,81.3 L276.5,81.3 L277,81.3 L277.5,81.3 L278,81.3 L278.5,81.3 L279,81.3 L279.5,81.3 L280,81.3 L280.5,81.3 L281,81.3 L281.5,81.3 L282,81.3 L282.5,81.3 L283,81.3 L283.5,81.3 L284,81.3 L284.5,81.3 L285,81.3 L285.5,81.3 L286,81.3 L286.5,81.3 L287,81.3 L287.5,81.3 L288,81.3 L288.5,81.3 L289,81.3 L289.5,81.3 L290,81.3 L290.5,81.3 L291,81.3 L291.5,81.3 L292,81.3 L292.5,81.3 L293,81.3 L293.5,81.3 L294,81.3 L294.5,81.3 L295,81.3 L295.5,81.3 L296,81.3 L296.5,81.3 L297,81.3 L297.5,81.3 L298,81.3 L298.5,81.3 L299,81.3 L299.5,81.3 L300,81.3 L300.5,81.3 L301,81.3 L301.5,81.3 L302,81.3 L302.5,81.3 L303,81.3 L303.5,81.3 L304,81.3 L304.5,81.3 L305,81.3 L305.5,81.3 L306,81.3 L306.5,81.3 L307,81.3 L307.5,81.3 L308,81.3 L308.5,81.3 L309,81.3 L309.5,81.3 L310,81.3 L310.5,81.3 L310.7,81.3 Z" fill="#f9c08e" stroke="#f0a264" stroke-width="0.5" stroke-linejoin="round"/>
<line x1="220.5" y1="81.3" x2="310.7" y2="81.3" stroke="#e9b088" stroke-width="0.7"/>
<path d="M220.5,94.3 L220.5,94.3 L221,94.3 L221.5,94.3 L222,94.3 L222.5,94.3 L223,94.3 L223.5,94.3 L224,94.3 L224.5,94.3 L225,94.3 L225.5,94.3 L226,94.3 L226.5,94.3 L227,94.3 L227.5,94.3 L228,94.3 L228.5,94.3 L229,94.3 L229.5,94.3 L230,94.3 L230.5,94.3 L231,94.3 L231.5,94.3 L232,94.3 L232.5,94.3 L233,94.3 L233.5,94.3 L234,94.3 L234.5,94.3 L235,94.3 L235.5,94.3 L236,94.3 L236.5,94.3 L237,94.3 L237.5,94.29 L238,94.29 L238.5,94.27 L239,94.22 L239.5,94.12 L240,93.92 L240.5,93.55 L241,92.8 L241.5,91.95 L242,90.89 L242.5,89.43 L243,87.94 L243.5,86.83 L244,86.14 L244.5,86.12 L245,86.33 L245.5,86.64 L246,87.33 L246.5,88.13 L247,88.93 L247.5,89.68 L248,90.39 L248.5,91.23 L249,91.51 L249.5,92.05 L250,92.4 L250.5,92.46 L251,92.7 L251.5,92.95 L252,93.14 L252.5,93.09 L253,93.15 L253.5,93.22 L254,93.35 L254.5,93.26 L255,93.41 L255.5,93.31 L256,93.44 L256.5,93.51 L257,93.57 L257.5,93.63 L258,93.69 L258.5,93.75 L259,93.81 L259.5,93.86 L260,93.91 L260.5,93.96 L261,94 L261.5,94.04 L262,94.08 L262.5,94.11 L263,94.14 L263.5,94.16 L264,94.19 L264.5,94.2 L265,94.22 L265.5,94.24 L266,94.25 L266.5,94.26 L267,94.27 L267.5,94.27 L268,94.28 L268.5,94.28 L269,94.29 L269.5,94.29 L270,94.29 L270.5,94.29 L271,94.3 L271.5,94.3 L272,94.3 L272.5,94.3 L273,94.3 L273.5,94.3 L274,94.3 L274.5,94.3 L275,94.3 L275.5,94.3 L276,94.3 L276.5,94.3 L277,94.3 L277.5,94.3 L278,94.3 L278.5,94.3 L279,94.3 L279.5,94.3 L280,94.3 L280.5,94.3 L281,94.3 L281.5,94.3 L282,94.3 L282.5,94.3 L283,94.3 L283.5,94.3 L284,94.3 L284.5,94.3 L285,94.3 L285.5,94.3 L286,94.3 L286.5,94.3 L287,94.3 L287.5,94.3 L288,94.3 L288.5,94.3 L289,94.3 L289.5,94.3 L290,94.3 L290.5,94.3 L291,94.3 L291.5,94.3 L292,94.3 L292.5,94.3 L293,94.3 L293.5,94.3 L294,94.3 L294.5,94.3 L295,94.3 L295.5,94.3 L296,94.3 L296.5,94.3 L297,94.3 L297.5,94.3 L298,94.3 L298.5,94.3 L299,94.3 L299.5,94.3 L300,94.3 L300.5,94.3 L301,94.3 L301.5,94.3 L302,94.3 L302.5,94.3 L303,94.3 L303.5,94.3 L304,94.3 L304.5,94.3 L305,94.3 L305.5,94.3 L306,94.3 L306.5,94.3 L307,94.3 L307.5,94.3 L308,94.3 L308.5,94.3 L309,94.3 L309.5,94.3 L310,94.3 L310.5,94.3 L310.7,94.3 Z" fill="#62c8e6" stroke="#2ea8d2" stroke-width="0.5" stroke-linejoin="round"/>
<line x1="220.5" y1="94.3" x2="310.7" y2="94.3" stroke="#8cc8de" stroke-width="0.7"/>
<path d="M220.5,107.3 L220.5,107.3 L221,107.3 L221.5,107.3 L222,107.3 L222.5,107.3 L223,107.3 L223.5,107.3 L224,107.3 L224.5,107.3 L225,107.3 L225.5,107.3 L226,107.3 L226.5,107.3 L227,107.3 L227.5,107.3 L228,107.3 L228.5,107.3 L229,107.3 L229.5,107.3 L230,107.3 L230.5,107.3 L231,107.3 L231.5,107.3 L232,107.3 L232.5,107.3 L233,107.3 L233.5,107.3 L234,107.3 L234.5,107.3 L235,107.3 L235.5,107.3 L236,107.3 L236.5,107.3 L237,107.3 L237.5,107.29 L238,107.29 L238.5,107.29 L239,107.28 L239.5,107.26 L240,107.23 L240.5,107.19 L241,107.1 L241.5,106.97 L242,106.76 L242.5,106.52 L243,105.94 L243.5,105.5 L244,104.93 L244.5,104.1 L245,103.35 L245.5,102.46 L246,101.66 L246.5,101.19 L247,101.08 L247.5,101.22 L248,101.27 L248.5,101.43 L249,101.6 L249.5,101.79 L250,102.29 L250.5,102.49 L251,102.86 L251.5,103.14 L252,103.42 L252.5,103.85 L253,104.06 L253.5,104.39 L254,104.53 L254.5,104.64 L255,104.95 L255.5,104.91 L256,104.99 L256.5,105.15 L257,105.18 L257.5,105.05 L258,105.23 L258.5,105.32 L259,105.33 L259.5,105.29 L260,105.37 L260.5,105.42 L261,105.48 L261.5,105.56 L262,105.53 L262.5,105.56 L263,105.78 L263.5,105.69 L264,105.85 L264.5,105.72 L265,105.8 L265.5,106.12 L266,106.03 L266.5,106.21 L267,106.35 L267.5,106.2 L268,106.26 L268.5,106.37 L269,106.52 L269.5,106.59 L270,106.65 L270.5,106.71 L271,106.77 L271.5,106.82 L272,106.87 L272.5,106.91 L273,106.96 L273.5,106.99 L274,107.03 L274.5,107.06 L275,107.09 L275.5,107.12 L276,107.14 L276.5,107.16 L277,107.18 L277.5,107.2 L278,107.21 L278.5,107.22 L279,107.24 L279.5,107.25 L280,107.25 L280.5,107.26 L281,107.27 L281.5,107.27 L282,107.28 L282.5,107.28 L283,107.28 L283.5,107.29 L284,107.29 L284.5,107.29 L285,107.29 L285.5,107.29 L286,107.3 L286.5,107.3 L287,107.3 L287.5,107.3 L288,107.3 L288.5,107.3 L289,107.3 L289.5,107.3 L290,107.3 L290.5,107.3 L291,107.3 L291.5,107.3 L292,107.3 L292.5,107.3 L293,107.3 L293.5,107.3 L294,107.3 L294.5,107.3 L295,107.3 L295.5,107.3 L296,107.3 L296.5,107.3 L297,107.3 L297.5,107.3 L298,107.3 L298.5,107.3 L299,107.3 L299.5,107.3 L300,107.3 L300.5,107.3 L301,107.3 L301.5,107.3 L302,107.3 L302.5,107.3 L303,107.3 L303.5,107.3 L304,107.3 L304.5,107.3 L305,107.3 L305.5,107.3 L306,107.3 L306.5,107.3 L307,107.3 L307.5,107.3 L308,107.3 L308.5,107.3 L309,107.3 L309.5,107.3 L310,107.3 L310.5,107.3 L310.7,107.3 Z" fill="#f39090" stroke="#dd5d5d" stroke-width="0.5" stroke-linejoin="round"/>
<line x1="220.5" y1="107.3" x2="310.7" y2="107.3" stroke="#e09a9a" stroke-width="0.7"/>
<text x="275.3" y="28.4" font-size="7.3" fill="#231f20" stroke="#231f20" stroke-width="0.22">Blank</text>
<text x="275.3" y="41.2" font-size="7.3" fill="#231f20" stroke="#231f20" stroke-width="0.22">shNC</text>
<text x="275.3" y="54.1" font-size="7.3" fill="#231f20" stroke="#231f20" stroke-width="0.22">sh1</text>
<text x="275.3" y="67" font-size="7.3" fill="#231f20" stroke="#231f20" stroke-width="0.22">sh2</text>
<text x="275.3" y="80" font-size="7.3" fill="#231f20" stroke="#231f20" stroke-width="0.22">shNC+Abs</text>
<text x="275.3" y="93" font-size="7.3" fill="#231f20" stroke="#231f20" stroke-width="0.22">sh1+Abs</text>
<text x="275.3" y="106" font-size="7.3" fill="#231f20" stroke="#231f20" stroke-width="0.22">sh2+Abs</text>
<rect x="220" y="15.3" width="91.2" height="92" fill="none" stroke="#7a7a7a" stroke-width="0.9"/>
<line x1="240.8" y1="107.3" x2="240.8" y2="109.3" stroke="#333" stroke-width="0.6"/>
<line x1="263.8" y1="107.3" x2="263.8" y2="109.3" stroke="#333" stroke-width="0.6"/>
<line x1="286.5" y1="107.3" x2="286.5" y2="109.3" stroke="#333" stroke-width="0.6"/>
<line x1="308.5" y1="107.3" x2="308.5" y2="109.3" stroke="#333" stroke-width="0.6"/>
<line x1="224.72" y1="107.3" x2="224.72" y2="108.4" stroke="#555" stroke-width="0.4"/>
<line x1="228.77" y1="107.3" x2="228.77" y2="108.4" stroke="#555" stroke-width="0.4"/>
<line x1="231.65" y1="107.3" x2="231.65" y2="108.4" stroke="#555" stroke-width="0.4"/>
<line x1="233.88" y1="107.3" x2="233.88" y2="108.4" stroke="#555" stroke-width="0.4"/>
<line x1="235.7" y1="107.3" x2="235.7" y2="108.4" stroke="#555" stroke-width="0.4"/>
<line x1="237.24" y1="107.3" x2="237.24" y2="108.4" stroke="#555" stroke-width="0.4"/>
<line x1="238.57" y1="107.3" x2="238.57" y2="108.4" stroke="#555" stroke-width="0.4"/>
<line x1="239.75" y1="107.3" x2="239.75" y2="108.4" stroke="#555" stroke-width="0.4"/>
<line x1="247.72" y1="107.3" x2="247.72" y2="108.4" stroke="#555" stroke-width="0.4"/>
<line x1="251.77" y1="107.3" x2="251.77" y2="108.4" stroke="#555" stroke-width="0.4"/>
<line x1="254.65" y1="107.3" x2="254.65" y2="108.4" stroke="#555" stroke-width="0.4"/>
<line x1="256.88" y1="107.3" x2="256.88" y2="108.4" stroke="#555" stroke-width="0.4"/>
<line x1="258.7" y1="107.3" x2="258.7" y2="108.4" stroke="#555" stroke-width="0.4"/>
<line x1="260.24" y1="107.3" x2="260.24" y2="108.4" stroke="#555" stroke-width="0.4"/>
<line x1="261.57" y1="107.3" x2="261.57" y2="108.4" stroke="#555" stroke-width="0.4"/>
<line x1="262.75" y1="107.3" x2="262.75" y2="108.4" stroke="#555" stroke-width="0.4"/>
<line x1="270.72" y1="107.3" x2="270.72" y2="108.4" stroke="#555" stroke-width="0.4"/>
<line x1="274.77" y1="107.3" x2="274.77" y2="108.4" stroke="#555" stroke-width="0.4"/>
<line x1="277.65" y1="107.3" x2="277.65" y2="108.4" stroke="#555" stroke-width="0.4"/>
<line x1="279.88" y1="107.3" x2="279.88" y2="108.4" stroke="#555" stroke-width="0.4"/>
<line x1="281.7" y1="107.3" x2="281.7" y2="108.4" stroke="#555" stroke-width="0.4"/>
<line x1="283.24" y1="107.3" x2="283.24" y2="108.4" stroke="#555" stroke-width="0.4"/>
<line x1="284.57" y1="107.3" x2="284.57" y2="108.4" stroke="#555" stroke-width="0.4"/>
<line x1="285.75" y1="107.3" x2="285.75" y2="108.4" stroke="#555" stroke-width="0.4"/>
<line x1="293.72" y1="107.3" x2="293.72" y2="108.4" stroke="#555" stroke-width="0.4"/>
<line x1="297.77" y1="107.3" x2="297.77" y2="108.4" stroke="#555" stroke-width="0.4"/>
<line x1="300.65" y1="107.3" x2="300.65" y2="108.4" stroke="#555" stroke-width="0.4"/>
<line x1="302.88" y1="107.3" x2="302.88" y2="108.4" stroke="#555" stroke-width="0.4"/>
<line x1="304.7" y1="107.3" x2="304.7" y2="108.4" stroke="#555" stroke-width="0.4"/>
<line x1="306.24" y1="107.3" x2="306.24" y2="108.4" stroke="#555" stroke-width="0.4"/>
<line x1="307.57" y1="107.3" x2="307.57" y2="108.4" stroke="#555" stroke-width="0.4"/>
<line x1="308.75" y1="107.3" x2="308.75" y2="108.4" stroke="#555" stroke-width="0.4"/>
<text x="240.8" y="117.4" font-size="7" text-anchor="middle" fill="#231f20" stroke="#231f20" stroke-width="0.22">10<tspan font-size="4.8" dy="-2.6">0</tspan></text>
<text x="263.8" y="117.4" font-size="7" text-anchor="middle" fill="#231f20" stroke="#231f20" stroke-width="0.22">10<tspan font-size="4.8" dy="-2.6">1</tspan></text>
<text x="286.5" y="117.4" font-size="7" text-anchor="middle" fill="#231f20" stroke="#231f20" stroke-width="0.22">10<tspan font-size="4.8" dy="-2.6">2</tspan></text>
<text x="308.5" y="117.4" font-size="7" text-anchor="middle" fill="#231f20" stroke="#231f20" stroke-width="0.22">10<tspan font-size="4.8" dy="-2.6">3</tspan></text>
<text x="266.5" y="126" font-size="7.4" text-anchor="middle" fill="#231f20" stroke="#231f20" stroke-width="0.22">PE-p-ERK</text>
<rect x="320.3" y="15.3" width="91.3" height="91.9" fill="#fff"/>
<path d="M320.8,38.5 L320.8,38.5 L321.3,38.5 L321.8,38.5 L322.3,38.5 L322.8,38.5 L323.3,38.5 L323.8,38.5 L324.3,38.5 L324.8,38.5 L325.3,38.5 L325.8,38.5 L326.3,38.5 L326.8,38.5 L327.3,38.5 L327.8,38.5 L328.3,38.49 L328.8,38.49 L329.3,38.49 L329.8,38.48 L330.3,38.46 L330.8,38.44 L331.3,38.42 L331.8,38.38 L332.3,38.34 L332.8,38.28 L333.3,38.2 L333.8,38.12 L334.3,38.02 L334.8,37.91 L335.3,37.77 L335.8,37.58 L336.3,37.28 L336.8,37.14 L337.3,36.74 L337.8,36.22 L338.3,35.41 L338.8,34.38 L339.3,33.17 L339.8,31.47 L340.3,29.32 L340.8,27.03 L341.3,24.76 L341.8,22.44 L342.3,20.68 L342.8,19.59 L343.3,19.28 L343.8,19.64 L344.3,20.86 L344.8,22.29 L345.3,24.5 L345.8,26.48 L346.3,28.8 L346.8,31 L347.3,32.89 L347.8,34.33 L348.3,35.62 L348.8,36.49 L349.3,37.36 L349.8,37.71 L350.3,38.03 L350.8,38.23 L351.3,38.35 L351.8,38.42 L352.3,38.46 L352.8,38.48 L353.3,38.49 L353.8,38.5 L354.3,38.5 L354.8,38.5 L355.3,38.5 L355.8,38.5 L356.3,38.5 L356.8,38.5 L357.3,38.5 L357.8,38.5 L358.3,38.5 L358.8,38.5 L359.3,38.5 L359.8,38.5 L360.3,38.5 L360.8,38.5 L361.3,38.5 L361.8,38.5 L362.3,38.5 L362.8,38.5 L363.3,38.5 L363.8,38.5 L364.3,38.5 L364.8,38.5 L365.3,38.5 L365.8,38.5 L366.3,38.5 L366.8,38.5 L367.3,38.5 L367.8,38.5 L368.3,38.5 L368.8,38.5 L369.3,38.5 L369.8,38.5 L370.3,38.5 L370.8,38.5 L371.3,38.5 L371.8,38.5 L372.3,38.5 L372.8,38.5 L373.3,38.5 L373.8,38.5 L374.3,38.5 L374.8,38.5 L375.3,38.5 L375.8,38.5 L376.3,38.5 L376.8,38.5 L377.3,38.5 L377.8,38.5 L378.3,38.5 L378.8,38.5 L379.3,38.5 L379.8,38.5 L380.3,38.5 L380.8,38.5 L381.3,38.5 L381.8,38.5 L382.3,38.5 L382.8,38.5 L383.3,38.5 L383.8,38.5 L384.3,38.5 L384.8,38.5 L385.3,38.5 L385.8,38.5 L386.3,38.5 L386.8,38.5 L387.3,38.5 L387.8,38.5 L388.3,38.5 L388.8,38.5 L389.3,38.5 L389.8,38.5 L390.3,38.5 L390.8,38.5 L391.3,38.5 L391.8,38.5 L392.3,38.5 L392.8,38.5 L393.3,38.5 L393.8,38.5 L394.3,38.5 L394.8,38.5 L395.3,38.5 L395.8,38.5 L396.3,38.5 L396.8,38.5 L397.3,38.5 L397.8,38.5 L398.3,38.5 L398.8,38.5 L399.3,38.5 L399.8,38.5 L400.3,38.5 L400.8,38.5 L401.3,38.5 L401.8,38.5 L402.3,38.5 L402.8,38.5 L403.3,38.5 L403.8,38.5 L404.3,38.5 L404.8,38.5 L405.3,38.5 L405.8,38.5 L406.3,38.5 L406.8,38.5 L407.3,38.5 L407.8,38.5 L408.3,38.5 L408.8,38.5 L409.3,38.5 L409.8,38.5 L410.3,38.5 L410.8,38.5 L411.1,38.5 Z" fill="#a880c6" stroke="#6e4a92" stroke-width="0.5" stroke-linejoin="round"/>
<line x1="320.8" y1="38.5" x2="411.1" y2="38.5" stroke="#9a86ad" stroke-width="0.7"/>
<path d="M320.8,49.6 L320.8,49.6 L321.3,49.6 L321.8,49.6 L322.3,49.6 L322.8,49.6 L323.3,49.6 L323.8,49.6 L324.3,49.6 L324.8,49.6 L325.3,49.6 L325.8,49.6 L326.3,49.6 L326.8,49.6 L327.3,49.6 L327.8,49.6 L328.3,49.6 L328.8,49.6 L329.3,49.6 L329.8,49.6 L330.3,49.6 L330.8,49.6 L331.3,49.6 L331.8,49.6 L332.3,49.6 L332.8,49.6 L333.3,49.6 L333.8,49.6 L334.3,49.6 L334.8,49.6 L335.3,49.6 L335.8,49.6 L336.3,49.6 L336.8,49.6 L337.3,49.6 L337.8,49.6 L338.3,49.6 L338.8,49.6 L339.3,49.6 L339.8,49.6 L340.3,49.59 L340.8,49.59 L341.3,49.59 L341.8,49.59 L342.3,49.58 L342.8,49.58 L343.3,49.57 L343.8,49.56 L344.3,49.55 L344.8,49.53 L345.3,49.5 L345.8,49.46 L346.3,49.41 L346.8,49.34 L347.3,49.24 L347.8,49.11 L348.3,48.93 L348.8,48.58 L349.3,48.42 L349.8,48.06 L350.3,47.54 L350.8,47.07 L351.3,46.56 L351.8,46 L352.3,45.32 L352.8,44.83 L353.3,44.18 L353.8,43.5 L354.3,43.3 L354.8,43.01 L355.3,42.61 L355.8,42.62 L356.3,42.5 L356.8,42.45 L357.3,42.42 L357.8,42.59 L358.3,42.55 L358.8,42.9 L359.3,42.8 L359.8,43.14 L360.3,43.25 L360.8,43.56 L361.3,43.65 L361.8,44 L362.3,44.17 L362.8,44.49 L363.3,44.55 L363.8,44.78 L364.3,45.14 L364.8,45.15 L365.3,45.26 L365.8,45.62 L366.3,45.77 L366.8,45.68 L367.3,45.79 L367.8,46.15 L368.3,46.06 L368.8,46.11 L369.3,46.4 L369.8,46.34 L370.3,46.57 L370.8,46.51 L371.3,46.68 L371.8,46.77 L372.3,46.95 L372.8,46.87 L373.3,46.93 L373.8,47.13 L374.3,47.28 L374.8,47.34 L375.3,47.36 L375.8,47.21 L376.3,47.36 L376.8,47.39 L377.3,47.5 L377.8,47.76 L378.3,47.76 L378.8,47.66 L379.3,47.76 L379.8,47.79 L380.3,47.91 L380.8,48.01 L381.3,48.07 L381.8,48.09 L382.3,48.31 L382.8,48.5 L383.3,48.48 L383.8,48.64 L384.3,48.63 L384.8,48.6 L385.3,48.75 L385.8,48.82 L386.3,48.81 L386.8,48.87 L387.3,48.92 L387.8,48.98 L388.3,49.03 L388.8,49.08 L389.3,49.12 L389.8,49.17 L390.3,49.21 L390.8,49.25 L391.3,49.28 L391.8,49.31 L392.3,49.35 L392.8,49.37 L393.3,49.4 L393.8,49.42 L394.3,49.44 L394.8,49.46 L395.3,49.48 L395.8,49.5 L396.3,49.51 L396.8,49.52 L397.3,49.53 L397.8,49.54 L398.3,49.55 L398.8,49.56 L399.3,49.56 L399.8,49.57 L400.3,49.57 L400.8,49.58 L401.3,49.58 L401.8,49.59 L402.3,49.59 L402.8,49.59 L403.3,49.59 L403.8,49.59 L404.3,49.59 L404.8,49.6 L405.3,49.6 L405.8,49.6 L406.3,49.6 L406.8,49.6 L407.3,49.6 L407.8,49.6 L408.3,49.6 L408.8,49.6 L409.3,49.6 L409.8,49.6 L410.3,49.6 L410.8,49.6 L411.1,49.6 Z" fill="#e4c7c3" stroke="#c49e99" stroke-width="0.5" stroke-linejoin="round"/>
<line x1="320.8" y1="49.6" x2="411.1" y2="49.6" stroke="#8d8d8d" stroke-width="0.7"/>
<path d="M320.8,61.1 L320.8,61.1 L321.3,61.1 L321.8,61.1 L322.3,61.1 L322.8,61.1 L323.3,61.1 L323.8,61.1 L324.3,61.1 L324.8,61.1 L325.3,61.1 L325.8,61.1 L326.3,61.1 L326.8,61.1 L327.3,61.1 L327.8,61.1 L328.3,61.1 L328.8,61.1 L329.3,61.1 L329.8,61.1 L330.3,61.1 L330.8,61.1 L331.3,61.1 L331.8,61.1 L332.3,61.1 L332.8,61.1 L333.3,61.1 L333.8,61.1 L334.3,61.1 L334.8,61.1 L335.3,61.1 L335.8,61.1 L336.3,61.1 L336.8,61.1 L337.3,61.1 L337.8,61.1 L338.3,61.1 L338.8,61.1 L339.3,61.1 L339.8,61.1 L340.3,61.1 L340.8,61.1 L341.3,61.1 L341.8,61.1 L342.3,61.1 L342.8,61.1 L343.3,61.1 L343.8,61.1 L344.3,61.09 L344.8,61.09 L345.3,61.08 L345.8,61.07 L346.3,61.06 L346.8,61.04 L347.3,61.02 L347.8,60.98 L348.3,60.94 L348.8,60.87 L349.3,60.79 L349.8,60.68 L350.3,60.54 L350.8,60.37 L351.3,60.29 L351.8,59.96 L352.3,59.61 L352.8,59.25 L353.3,58.76 L353.8,58.59 L354.3,58.06 L354.8,57.61 L355.3,56.83 L355.8,56.38 L356.3,55.84 L356.8,55.27 L357.3,55.01 L357.8,54.29 L358.3,54.05 L358.8,53.62 L359.3,53.4 L359.8,53.05 L360.3,52.97 L360.8,52.81 L361.3,52.69 L361.8,52.47 L362.3,52.51 L362.8,52.6 L363.3,52.59 L363.8,52.62 L364.3,52.81 L364.8,52.92 L365.3,53.06 L365.8,53.38 L366.3,53.62 L366.8,54.07 L367.3,54.2 L367.8,54.48 L368.3,54.9 L368.8,55.36 L369.3,55.64 L369.8,55.74 L370.3,56.01 L370.8,56.35 L371.3,56.7 L371.8,56.98 L372.3,57.39 L372.8,57.52 L373.3,57.66 L373.8,58.16 L374.3,58.29 L374.8,58.46 L375.3,58.75 L375.8,59.06 L376.3,59.3 L376.8,59.35 L377.3,59.47 L377.8,59.65 L378.3,59.95 L378.8,59.99 L379.3,60.1 L379.8,60.31 L380.3,60.42 L380.8,60.51 L381.3,60.6 L381.8,60.67 L382.3,60.73 L382.8,60.79 L383.3,60.84 L383.8,60.88 L384.3,60.92 L384.8,60.95 L385.3,60.98 L385.8,61 L386.3,61.02 L386.8,61.03 L387.3,61.05 L387.8,61.06 L388.3,61.07 L388.8,61.07 L389.3,61.08 L389.8,61.08 L390.3,61.09 L390.8,61.09 L391.3,61.09 L391.8,61.09 L392.3,61.1 L392.8,61.1 L393.3,61.1 L393.8,61.1 L394.3,61.1 L394.8,61.1 L395.3,61.1 L395.8,61.1 L396.3,61.1 L396.8,61.1 L397.3,61.1 L397.8,61.1 L398.3,61.1 L398.8,61.1 L399.3,61.1 L399.8,61.1 L400.3,61.1 L400.8,61.1 L401.3,61.1 L401.8,61.1 L402.3,61.1 L402.8,61.1 L403.3,61.1 L403.8,61.1 L404.3,61.1 L404.8,61.1 L405.3,61.1 L405.8,61.1 L406.3,61.1 L406.8,61.1 L407.3,61.1 L407.8,61.1 L408.3,61.1 L408.8,61.1 L409.3,61.1 L409.8,61.1 L410.3,61.1 L410.8,61.1 L411.1,61.1 Z" fill="#78ad68" stroke="#467a3c" stroke-width="0.5" stroke-linejoin="round"/>
<line x1="320.8" y1="61.1" x2="411.1" y2="61.1" stroke="#7d8d79" stroke-width="0.7"/>
<path d="M320.8,72.6 L320.8,72.6 L321.3,72.6 L321.8,72.6 L322.3,72.6 L322.8,72.6 L323.3,72.6 L323.8,72.6 L324.3,72.6 L324.8,72.6 L325.3,72.6 L325.8,72.6 L326.3,72.6 L326.8,72.6 L327.3,72.6 L327.8,72.6 L328.3,72.6 L328.8,72.6 L329.3,72.6 L329.8,72.6 L330.3,72.6 L330.8,72.6 L331.3,72.6 L331.8,72.6 L332.3,72.6 L332.8,72.6 L333.3,72.6 L333.8,72.6 L334.3,72.6 L334.8,72.59 L335.3,72.59 L335.8,72.59 L336.3,72.59 L336.8,72.59 L337.3,72.58 L337.8,72.58 L338.3,72.57 L338.8,72.57 L339.3,72.56 L339.8,72.55 L340.3,72.54 L340.8,72.53 L341.3,72.51 L341.8,72.5 L342.3,72.48 L342.8,72.46 L343.3,72.43 L343.8,72.4 L344.3,72.37 L344.8,72.33 L345.3,72.29 L345.8,72.24 L346.3,72.18 L346.8,72.12 L347.3,72.06 L347.8,71.98 L348.3,71.9 L348.8,71.81 L349.3,71.75 L349.8,71.53 L350.3,71.53 L350.8,71.46 L351.3,71.39 L351.8,71.03 L352.3,70.88 L352.8,70.94 L353.3,70.77 L353.8,70.52 L354.3,70.39 L354.8,70.05 L355.3,70.03 L355.8,69.73 L356.3,69.56 L356.8,69.44 L357.3,69.11 L357.8,69.06 L358.3,68.87 L358.8,68.66 L359.3,68.58 L359.8,68.5 L360.3,68.13 L360.8,68.07 L361.3,68.02 L361.8,67.94 L362.3,67.82 L362.8,67.85 L363.3,67.87 L363.8,67.7 L364.3,67.57 L364.8,67.8 L365.3,67.54 L365.8,67.73 L366.3,67.55 L366.8,67.64 L367.3,67.82 L367.8,67.87 L368.3,67.7 L368.8,67.72 L369.3,67.81 L369.8,67.93 L370.3,67.99 L370.8,67.98 L371.3,68.02 L371.8,68.08 L372.3,68.31 L372.8,68.21 L373.3,68.25 L373.8,68.43 L374.3,68.68 L374.8,68.71 L375.3,68.66 L375.8,68.83 L376.3,68.78 L376.8,68.97 L377.3,69.07 L377.8,69.35 L378.3,69.37 L378.8,69.44 L379.3,69.52 L379.8,69.67 L380.3,70.01 L380.8,70.08 L381.3,70.09 L381.8,70.51 L382.3,70.67 L382.8,70.79 L383.3,70.77 L383.8,71.04 L384.3,71.06 L384.8,71.16 L385.3,71.3 L385.8,71.65 L386.3,71.57 L386.8,71.64 L387.3,71.83 L387.8,71.92 L388.3,72.01 L388.8,72.08 L389.3,72.15 L389.8,72.21 L390.3,72.27 L390.8,72.31 L391.3,72.36 L391.8,72.39 L392.3,72.42 L392.8,72.45 L393.3,72.48 L393.8,72.5 L394.3,72.51 L394.8,72.53 L395.3,72.54 L395.8,72.55 L396.3,72.56 L396.8,72.57 L397.3,72.57 L397.8,72.58 L398.3,72.58 L398.8,72.59 L399.3,72.59 L399.8,72.59 L400.3,72.59 L400.8,72.59 L401.3,72.59 L401.8,72.6 L402.3,72.6 L402.8,72.6 L403.3,72.6 L403.8,72.6 L404.3,72.6 L404.8,72.6 L405.3,72.6 L405.8,72.6 L406.3,72.6 L406.8,72.6 L407.3,72.6 L407.8,72.6 L408.3,72.6 L408.8,72.6 L409.3,72.6 L409.8,72.6 L410.3,72.6 L410.8,72.6 L411.1,72.6 Z" fill="#a3d98e" stroke="#6cb356" stroke-width="0.5" stroke-linejoin="round"/>
<line x1="320.8" y1="72.6" x2="411.1" y2="72.6" stroke="#8faa88" stroke-width="0.7"/>
<path d="M320.8,84.1 L320.8,84.08 L321.3,84.08 L321.8,84.07 L322.3,84.07 L322.8,84.07 L323.3,84.06 L323.8,84.06 L324.3,84.06 L324.8,84.05 L325.3,84.05 L325.8,84.04 L326.3,84.03 L326.8,84.03 L327.3,84.02 L327.8,84.01 L328.3,84 L328.8,83.99 L329.3,83.98 L329.8,83.97 L330.3,83.96 L330.8,83.95 L331.3,83.93 L331.8,83.92 L332.3,83.9 L332.8,83.89 L333.3,83.87 L333.8,83.85 L334.3,83.83 L334.8,83.81 L335.3,83.78 L335.8,83.76 L336.3,83.73 L336.8,83.7 L337.3,83.67 L337.8,83.63 L338.3,83.6 L338.8,83.56 L339.3,83.51 L339.8,83.46 L340.3,83.4 L340.8,83.34 L341.3,83.21 L341.8,83.08 L342.3,83.01 L342.8,82.98 L343.3,82.79 L343.8,82.77 L344.3,82.78 L344.8,82.59 L345.3,82.25 L345.8,82.29 L346.3,82.1 L346.8,81.83 L347.3,81.74 L347.8,81.57 L348.3,81.54 L348.8,81.41 L349.3,81.45 L349.8,81.33 L350.3,81.28 L350.8,81.12 L351.3,81.1 L351.8,81.22 L352.3,81.05 L352.8,81.23 L353.3,81.16 L353.8,81.3 L354.3,81.19 L354.8,81.32 L355.3,81.11 L355.8,81.3 L356.3,81.18 L356.8,81.31 L357.3,81.35 L357.8,81.19 L358.3,81.35 L358.8,81.27 L359.3,81.22 L359.8,81.09 L360.3,81.16 L360.8,81.34 L361.3,81.19 L361.8,81.03 L362.3,81.04 L362.8,81.17 L363.3,81.23 L363.8,81.18 L364.3,81.02 L364.8,81.19 L365.3,80.98 L365.8,81.17 L366.3,81.06 L366.8,81.07 L367.3,81.22 L367.8,81.15 L368.3,81.14 L368.8,81.28 L369.3,81.23 L369.8,81.23 L370.3,81.17 L370.8,81.41 L371.3,81.49 L371.8,81.43 L372.3,81.45 L372.8,81.54 L373.3,81.46 L373.8,81.73 L374.3,81.69 L374.8,81.76 L375.3,81.9 L375.8,81.89 L376.3,81.95 L376.8,82.03 L377.3,81.98 L377.8,81.98 L378.3,82.05 L378.8,82.34 L379.3,82.36 L379.8,82.25 L380.3,82.57 L380.8,82.64 L381.3,82.71 L381.8,82.5 L382.3,82.7 L382.8,82.78 L383.3,82.94 L383.8,82.77 L384.3,82.79 L384.8,82.94 L385.3,82.93 L385.8,83.08 L386.3,83.21 L386.8,83.3 L387.3,83.32 L387.8,83.3 L388.3,83.35 L388.8,83.39 L389.3,83.43 L389.8,83.48 L390.3,83.51 L390.8,83.55 L391.3,83.59 L391.8,83.62 L392.3,83.65 L392.8,83.68 L393.3,83.71 L393.8,83.74 L394.3,83.76 L394.8,83.79 L395.3,83.81 L395.8,83.83 L396.3,83.85 L396.8,83.87 L397.3,83.89 L397.8,83.91 L398.3,83.92 L398.8,83.94 L399.3,83.95 L399.8,83.96 L400.3,83.98 L400.8,83.99 L401.3,84 L401.8,84.01 L402.3,84.01 L402.8,84.02 L403.3,84.03 L403.8,84.04 L404.3,84.04 L404.8,84.05 L405.3,84.05 L405.8,84.06 L406.3,84.06 L406.8,84.07 L407.3,84.07 L407.8,84.07 L408.3,84.07 L408.8,84.08 L409.3,84.08 L409.8,84.08 L410.3,84.08 L410.8,84.09 L411.1,84.1 Z" fill="#f9c08e" stroke="#f0a264" stroke-width="0.5" stroke-linejoin="round"/>
<line x1="320.8" y1="84.1" x2="411.1" y2="84.1" stroke="#e9b088" stroke-width="0.7"/>
<path d="M320.8,95.3 L320.8,95.3 L321.3,95.3 L321.8,95.3 L322.3,95.3 L322.8,95.3 L323.3,95.3 L323.8,95.3 L324.3,95.3 L324.8,95.3 L325.3,95.3 L325.8,95.3 L326.3,95.3 L326.8,95.3 L327.3,95.3 L327.8,95.3 L328.3,95.3 L328.8,95.29 L329.3,95.29 L329.8,95.29 L330.3,95.29 L330.8,95.29 L331.3,95.29 L331.8,95.28 L332.3,95.28 L332.8,95.27 L333.3,95.27 L333.8,95.26 L334.3,95.25 L334.8,95.24 L335.3,95.23 L335.8,95.22 L336.3,95.2 L336.8,95.18 L337.3,95.16 L337.8,95.14 L338.3,95.11 L338.8,95.07 L339.3,95.04 L339.8,94.99 L340.3,94.94 L340.8,94.89 L341.3,94.83 L341.8,94.76 L342.3,94.69 L342.8,94.6 L343.3,94.52 L343.8,94.53 L344.3,94.36 L344.8,94.34 L345.3,94.23 L345.8,93.85 L346.3,93.74 L346.8,93.62 L347.3,93.63 L347.8,93.46 L348.3,93.29 L348.8,93.08 L349.3,93.08 L349.8,92.88 L350.3,92.73 L350.8,92.51 L351.3,92.52 L351.8,92.5 L352.3,92.25 L352.8,91.99 L353.3,92.08 L353.8,91.83 L354.3,91.87 L354.8,91.73 L355.3,91.52 L355.8,91.58 L356.3,91.39 L356.8,91.26 L357.3,91.23 L357.8,91.04 L358.3,90.94 L358.8,91.03 L359.3,90.81 L359.8,90.75 L360.3,90.73 L360.8,90.67 L361.3,90.62 L361.8,90.52 L362.3,90.49 L362.8,90.57 L363.3,90.42 L363.8,90.38 L364.3,90.43 L364.8,90.29 L365.3,90.46 L365.8,90.4 L366.3,90.41 L366.8,90.42 L367.3,90.58 L367.8,90.47 L368.3,90.67 L368.8,90.6 L369.3,90.67 L369.8,90.66 L370.3,90.68 L370.8,90.71 L371.3,91.02 L371.8,90.9 L372.3,91.12 L372.8,91.21 L373.3,91.45 L373.8,91.3 L374.3,91.6 L374.8,91.7 L375.3,91.8 L375.8,91.94 L376.3,92.04 L376.8,92.16 L377.3,92.21 L377.8,92.38 L378.3,92.38 L378.8,92.45 L379.3,92.57 L379.8,92.86 L380.3,92.89 L380.8,92.99 L381.3,93.1 L381.8,93.31 L382.3,93.48 L382.8,93.42 L383.3,93.56 L383.8,93.75 L384.3,93.75 L384.8,94.02 L385.3,93.9 L385.8,93.95 L386.3,94.01 L386.8,94.35 L387.3,94.25 L387.8,94.29 L388.3,94.55 L388.8,94.51 L389.3,94.57 L389.8,94.63 L390.3,94.68 L390.8,94.73 L391.3,94.78 L391.8,94.82 L392.3,94.87 L392.8,94.9 L393.3,94.94 L393.8,94.97 L394.3,95 L394.8,95.03 L395.3,95.06 L395.8,95.08 L396.3,95.1 L396.8,95.12 L397.3,95.14 L397.8,95.16 L398.3,95.17 L398.8,95.19 L399.3,95.2 L399.8,95.21 L400.3,95.22 L400.8,95.23 L401.3,95.24 L401.8,95.24 L402.3,95.25 L402.8,95.26 L403.3,95.26 L403.8,95.27 L404.3,95.27 L404.8,95.27 L405.3,95.28 L405.8,95.28 L406.3,95.28 L406.8,95.29 L407.3,95.29 L407.8,95.29 L408.3,95.29 L408.8,95.29 L409.3,95.29 L409.8,95.29 L410.3,95.29 L410.8,95.3 L411.1,95.3 Z" fill="#62c8e6" stroke="#2ea8d2" stroke-width="0.5" stroke-linejoin="round"/>
<line x1="320.8" y1="95.3" x2="411.1" y2="95.3" stroke="#8cc8de" stroke-width="0.7"/>
<path d="M320.8,107.2 L320.8,107.19 L321.3,107.19 L321.8,107.19 L322.3,107.19 L322.8,107.19 L323.3,107.18 L323.8,107.18 L324.3,107.18 L324.8,107.18 L325.3,107.18 L325.8,107.17 L326.3,107.17 L326.8,107.17 L327.3,107.16 L327.8,107.16 L328.3,107.15 L328.8,107.15 L329.3,107.14 L329.8,107.14 L330.3,107.13 L330.8,107.12 L331.3,107.11 L331.8,107.11 L332.3,107.1 L332.8,107.09 L333.3,107.07 L333.8,107.06 L334.3,107.05 L334.8,107.03 L335.3,107.02 L335.8,107 L336.3,106.98 L336.8,106.97 L337.3,106.95 L337.8,106.92 L338.3,106.9 L338.8,106.87 L339.3,106.85 L339.8,106.82 L340.3,106.79 L340.8,106.75 L341.3,106.72 L341.8,106.68 L342.3,106.64 L342.8,106.6 L343.3,106.56 L343.8,106.51 L344.3,106.46 L344.8,106.41 L345.3,106.32 L345.8,106.39 L346.3,106.32 L346.8,106.32 L347.3,106.18 L347.8,105.94 L348.3,105.94 L348.8,105.81 L349.3,105.68 L349.8,105.84 L350.3,105.55 L350.8,105.45 L351.3,105.43 L351.8,105.44 L352.3,105.39 L352.8,105.21 L353.3,105.13 L353.8,105.06 L354.3,104.83 L354.8,104.74 L355.3,104.74 L355.8,104.65 L356.3,104.44 L356.8,104.26 L357.3,104.16 L357.8,104.05 L358.3,103.85 L358.8,103.77 L359.3,103.75 L359.8,103.54 L360.3,103.44 L360.8,103.41 L361.3,103.35 L361.8,103.16 L362.3,102.94 L362.8,102.81 L363.3,102.83 L363.8,102.65 L364.3,102.68 L364.8,102.41 L365.3,102.35 L365.8,102.15 L366.3,102.02 L366.8,102.17 L367.3,101.8 L367.8,101.95 L368.3,101.63 L368.8,101.55 L369.3,101.7 L369.8,101.61 L370.3,101.59 L370.8,101.31 L371.3,101.3 L371.8,101.2 L372.3,101.2 L372.8,101.31 L373.3,101.16 L373.8,101.26 L374.3,101.26 L374.8,101.22 L375.3,101.14 L375.8,101.26 L376.3,101.21 L376.8,101.23 L377.3,101.19 L377.8,101.33 L378.3,101.39 L378.8,101.4 L379.3,101.49 L379.8,101.47 L380.3,101.73 L380.8,101.79 L381.3,101.92 L381.8,101.89 L382.3,101.86 L382.8,102.03 L383.3,102.13 L383.8,102.14 L384.3,102.29 L384.8,102.57 L385.3,102.71 L385.8,102.73 L386.3,102.95 L386.8,102.96 L387.3,103.25 L387.8,103.28 L388.3,103.31 L388.8,103.58 L389.3,103.74 L389.8,103.69 L390.3,103.99 L390.8,103.91 L391.3,104.12 L391.8,104.16 L392.3,104.39 L392.8,104.53 L393.3,104.72 L393.8,104.9 L394.3,104.74 L394.8,105.08 L395.3,105.23 L395.8,105.08 L396.3,105.3 L396.8,105.39 L397.3,105.39 L397.8,105.54 L398.3,105.77 L398.8,105.85 L399.3,105.82 L399.8,105.9 L400.3,106.11 L400.8,106.18 L401.3,106.17 L401.8,106.37 L402.3,106.21 L402.8,106.32 L403.3,106.42 L403.8,106.48 L404.3,106.53 L404.8,106.58 L405.3,106.62 L405.8,106.67 L406.3,106.71 L406.8,106.75 L407.3,106.78 L407.8,106.81 L408.3,106.85 L408.8,106.87 L409.3,106.9 L409.8,106.93 L410.3,106.95 L410.8,106.97 L411.1,107.2 Z" fill="#f39090" stroke="#dd5d5d" stroke-width="0.5" stroke-linejoin="round"/>
<line x1="320.8" y1="107.2" x2="411.1" y2="107.2" stroke="#e09a9a" stroke-width="0.7"/>
<text x="376" y="37.2" font-size="7.3" fill="#231f20" stroke="#231f20" stroke-width="0.22">Blank</text>
<text x="376" y="48.3" font-size="7.3" fill="#231f20" stroke="#231f20" stroke-width="0.22">shNC</text>
<text x="376" y="59.8" font-size="7.3" fill="#231f20" stroke="#231f20" stroke-width="0.22">sh1</text>
<text x="376" y="71.3" font-size="7.3" fill="#231f20" stroke="#231f20" stroke-width="0.22">sh2</text>
<text x="376" y="82.8" font-size="7.3" fill="#231f20" stroke="#231f20" stroke-width="0.22">shNC+Abs</text>
<text x="376" y="94" font-size="7.3" fill="#231f20" stroke="#231f20" stroke-width="0.22">sh1+Abs</text>
<text x="376" y="105.9" font-size="7.3" fill="#231f20" stroke="#231f20" stroke-width="0.22">sh2+Abs</text>
<rect x="320.3" y="15.3" width="91.3" height="91.9" fill="none" stroke="#7a7a7a" stroke-width="0.9"/>
<line x1="343.3" y1="107.2" x2="343.3" y2="109.2" stroke="#333" stroke-width="0.6"/>
<line x1="367.4" y1="107.2" x2="367.4" y2="109.2" stroke="#333" stroke-width="0.6"/>
<line x1="390.2" y1="107.2" x2="390.2" y2="109.2" stroke="#333" stroke-width="0.6"/>
<line x1="411" y1="107.2" x2="411" y2="109.2" stroke="#333" stroke-width="0.6"/>
<line x1="326.45" y1="107.2" x2="326.45" y2="108.3" stroke="#555" stroke-width="0.4"/>
<line x1="330.7" y1="107.2" x2="330.7" y2="108.3" stroke="#555" stroke-width="0.4"/>
<line x1="333.71" y1="107.2" x2="333.71" y2="108.3" stroke="#555" stroke-width="0.4"/>
<line x1="336.05" y1="107.2" x2="336.05" y2="108.3" stroke="#555" stroke-width="0.4"/>
<line x1="337.95" y1="107.2" x2="337.95" y2="108.3" stroke="#555" stroke-width="0.4"/>
<line x1="339.57" y1="107.2" x2="339.57" y2="108.3" stroke="#555" stroke-width="0.4"/>
<line x1="340.96" y1="107.2" x2="340.96" y2="108.3" stroke="#555" stroke-width="0.4"/>
<line x1="342.2" y1="107.2" x2="342.2" y2="108.3" stroke="#555" stroke-width="0.4"/>
<line x1="350.55" y1="107.2" x2="350.55" y2="108.3" stroke="#555" stroke-width="0.4"/>
<line x1="354.8" y1="107.2" x2="354.8" y2="108.3" stroke="#555" stroke-width="0.4"/>
<line x1="357.81" y1="107.2" x2="357.81" y2="108.3" stroke="#555" stroke-width="0.4"/>
<line x1="360.15" y1="107.2" x2="360.15" y2="108.3" stroke="#555" stroke-width="0.4"/>
<line x1="362.05" y1="107.2" x2="362.05" y2="108.3" stroke="#555" stroke-width="0.4"/>
<line x1="363.67" y1="107.2" x2="363.67" y2="108.3" stroke="#555" stroke-width="0.4"/>
<line x1="365.06" y1="107.2" x2="365.06" y2="108.3" stroke="#555" stroke-width="0.4"/>
<line x1="366.3" y1="107.2" x2="366.3" y2="108.3" stroke="#555" stroke-width="0.4"/>
<line x1="374.65" y1="107.2" x2="374.65" y2="108.3" stroke="#555" stroke-width="0.4"/>
<line x1="378.9" y1="107.2" x2="378.9" y2="108.3" stroke="#555" stroke-width="0.4"/>
<line x1="381.91" y1="107.2" x2="381.91" y2="108.3" stroke="#555" stroke-width="0.4"/>
<line x1="384.25" y1="107.2" x2="384.25" y2="108.3" stroke="#555" stroke-width="0.4"/>
<line x1="386.15" y1="107.2" x2="386.15" y2="108.3" stroke="#555" stroke-width="0.4"/>
<line x1="387.77" y1="107.2" x2="387.77" y2="108.3" stroke="#555" stroke-width="0.4"/>
<line x1="389.16" y1="107.2" x2="389.16" y2="108.3" stroke="#555" stroke-width="0.4"/>
<line x1="390.4" y1="107.2" x2="390.4" y2="108.3" stroke="#555" stroke-width="0.4"/>
<line x1="398.75" y1="107.2" x2="398.75" y2="108.3" stroke="#555" stroke-width="0.4"/>
<line x1="403" y1="107.2" x2="403" y2="108.3" stroke="#555" stroke-width="0.4"/>
<line x1="406.01" y1="107.2" x2="406.01" y2="108.3" stroke="#555" stroke-width="0.4"/>
<line x1="408.35" y1="107.2" x2="408.35" y2="108.3" stroke="#555" stroke-width="0.4"/>
<line x1="410.25" y1="107.2" x2="410.25" y2="108.3" stroke="#555" stroke-width="0.4"/>
<text x="343.3" y="117.3" font-size="7" text-anchor="middle" fill="#231f20" stroke="#231f20" stroke-width="0.22">10<tspan font-size="4.8" dy="-2.6">0</tspan></text>
<text x="367.4" y="117.3" font-size="7" text-anchor="middle" fill="#231f20" stroke="#231f20" stroke-width="0.22">10<tspan font-size="4.8" dy="-2.6">1</tspan></text>
<text x="390.2" y="117.3" font-size="7" text-anchor="middle" fill="#231f20" stroke="#231f20" stroke-width="0.22">10<tspan font-size="4.8" dy="-2.6">2</tspan></text>
<text x="411" y="117.3" font-size="7" text-anchor="middle" fill="#231f20" stroke="#231f20" stroke-width="0.22">10<tspan font-size="4.8" dy="-2.6">3</tspan></text>
<text x="373.4" y="125.9" font-size="7.4" text-anchor="middle" fill="#231f20" stroke="#231f20" stroke-width="0.22">PE-p-p38</text>
<rect x="422.8" y="15.3" width="91.4" height="91.9" fill="#fff"/>
<path d="M423.3,30.5 L423.3,30.5 L423.8,30.5 L424.3,30.5 L424.8,30.5 L425.3,30.5 L425.8,30.5 L426.3,30.5 L426.8,30.5 L427.3,30.5 L427.8,30.5 L428.3,30.5 L428.8,30.5 L429.3,30.5 L429.8,30.5 L430.3,30.5 L430.8,30.5 L431.3,30.5 L431.8,30.5 L432.3,30.5 L432.8,30.49 L433.3,30.49 L433.8,30.48 L434.3,30.47 L434.8,30.46 L435.3,30.43 L435.8,30.41 L436.3,30.37 L436.8,30.32 L437.3,30.27 L437.8,30.2 L438.3,30.12 L438.8,30.04 L439.3,29.95 L439.8,29.86 L440.3,29.76 L440.8,29.75 L441.3,29.47 L441.8,29.26 L442.3,29.12 L442.8,28.59 L443.3,27.87 L443.8,27.16 L444.3,26.05 L444.8,24.98 L445.3,23.43 L445.8,22.22 L446.3,21.1 L446.8,20.42 L447.3,19.92 L447.8,20.12 L448.3,20.58 L448.8,21.66 L449.3,22.93 L449.8,24.33 L450.3,25.78 L450.8,27.01 L451.3,28 L451.8,28.94 L452.3,29.42 L452.8,29.86 L453.3,30.13 L453.8,30.3 L454.3,30.4 L454.8,30.45 L455.3,30.48 L455.8,30.49 L456.3,30.5 L456.8,30.5 L457.3,30.5 L457.8,30.5 L458.3,30.5 L458.8,30.5 L459.3,30.5 L459.8,30.5 L460.3,30.5 L460.8,30.5 L461.3,30.5 L461.8,30.5 L462.3,30.5 L462.8,30.5 L463.3,30.5 L463.8,30.5 L464.3,30.5 L464.8,30.5 L465.3,30.5 L465.8,30.5 L466.3,30.5 L466.8,30.5 L467.3,30.5 L467.8,30.5 L468.3,30.5 L468.8,30.5 L469.3,30.5 L469.8,30.5 L470.3,30.5 L470.8,30.5 L471.3,30.5 L471.8,30.5 L472.3,30.5 L472.8,30.5 L473.3,30.5 L473.8,30.5 L474.3,30.5 L474.8,30.5 L475.3,30.5 L475.8,30.5 L476.3,30.5 L476.8,30.5 L477.3,30.5 L477.8,30.5 L478.3,30.5 L478.8,30.5 L479.3,30.5 L479.8,30.5 L480.3,30.5 L480.8,30.5 L481.3,30.5 L481.8,30.5 L482.3,30.5 L482.8,30.5 L483.3,30.5 L483.8,30.5 L484.3,30.5 L484.8,30.5 L485.3,30.5 L485.8,30.5 L486.3,30.5 L486.8,30.5 L487.3,30.5 L487.8,30.5 L488.3,30.5 L488.8,30.5 L489.3,30.5 L489.8,30.5 L490.3,30.5 L490.8,30.5 L491.3,30.5 L491.8,30.5 L492.3,30.5 L492.8,30.5 L493.3,30.5 L493.8,30.5 L494.3,30.5 L494.8,30.5 L495.3,30.5 L495.8,30.5 L496.3,30.5 L496.8,30.5 L497.3,30.5 L497.8,30.5 L498.3,30.5 L498.8,30.5 L499.3,30.5 L499.8,30.5 L500.3,30.5 L500.8,30.5 L501.3,30.5 L501.8,30.5 L502.3,30.5 L502.8,30.5 L503.3,30.5 L503.8,30.5 L504.3,30.5 L504.8,30.5 L505.3,30.5 L505.8,30.5 L506.3,30.5 L506.8,30.5 L507.3,30.5 L507.8,30.5 L508.3,30.5 L508.8,30.5 L509.3,30.5 L509.8,30.5 L510.3,30.5 L510.8,30.5 L511.3,30.5 L511.8,30.5 L512.3,30.5 L512.8,30.5 L513.3,30.5 L513.7,30.5 Z" fill="#a880c6" stroke="#6e4a92" stroke-width="0.5" stroke-linejoin="round"/>
<line x1="423.3" y1="30.5" x2="513.7" y2="30.5" stroke="#9a86ad" stroke-width="0.7"/>
<path d="M423.3,43.3 L423.3,43.3 L423.8,43.3 L424.3,43.3 L424.8,43.3 L425.3,43.3 L425.8,43.3 L426.3,43.3 L426.8,43.3 L427.3,43.3 L427.8,43.3 L428.3,43.3 L428.8,43.3 L429.3,43.3 L429.8,43.3 L430.3,43.3 L430.8,43.3 L431.3,43.3 L431.8,43.3 L432.3,43.3 L432.8,43.3 L433.3,43.3 L433.8,43.3 L434.3,43.3 L434.8,43.3 L435.3,43.3 L435.8,43.3 L436.3,43.3 L436.8,43.3 L437.3,43.3 L437.8,43.3 L438.3,43.3 L438.8,43.3 L439.3,43.3 L439.8,43.3 L440.3,43.3 L440.8,43.3 L441.3,43.3 L441.8,43.3 L442.3,43.3 L442.8,43.3 L443.3,43.3 L443.8,43.3 L444.3,43.3 L444.8,43.3 L445.3,43.3 L445.8,43.3 L446.3,43.29 L446.8,43.28 L447.3,43.26 L447.8,43.23 L448.3,43.16 L448.8,43.04 L449.3,42.85 L449.8,42.54 L450.3,41.95 L450.8,41.38 L451.3,40.47 L451.8,39.69 L452.3,38.35 L452.8,37.24 L453.3,35.85 L453.8,35 L454.3,34.26 L454.8,33.98 L455.3,34.25 L455.8,34.59 L456.3,34.92 L456.8,35.63 L457.3,36.57 L457.8,37.57 L458.3,38.44 L458.8,39.02 L459.3,39.78 L459.8,40.51 L460.3,40.95 L460.8,41.33 L461.3,41.9 L461.8,41.94 L462.3,42.07 L462.8,42.26 L463.3,42.38 L463.8,42.6 L464.3,42.69 L464.8,42.77 L465.3,42.84 L465.8,42.9 L466.3,42.96 L466.8,43.02 L467.3,43.07 L467.8,43.11 L468.3,43.15 L468.8,43.18 L469.3,43.21 L469.8,43.23 L470.3,43.25 L470.8,43.26 L471.3,43.27 L471.8,43.28 L472.3,43.29 L472.8,43.29 L473.3,43.29 L473.8,43.3 L474.3,43.3 L474.8,43.3 L475.3,43.3 L475.8,43.3 L476.3,43.3 L476.8,43.3 L477.3,43.3 L477.8,43.3 L478.3,43.3 L478.8,43.3 L479.3,43.3 L479.8,43.3 L480.3,43.3 L480.8,43.3 L481.3,43.3 L481.8,43.3 L482.3,43.3 L482.8,43.3 L483.3,43.3 L483.8,43.3 L484.3,43.3 L484.8,43.3 L485.3,43.3 L485.8,43.3 L486.3,43.3 L486.8,43.3 L487.3,43.3 L487.8,43.3 L488.3,43.3 L488.8,43.3 L489.3,43.3 L489.8,43.3 L490.3,43.3 L490.8,43.3 L491.3,43.3 L491.8,43.3 L492.3,43.3 L492.8,43.3 L493.3,43.3 L493.8,43.3 L494.3,43.3 L494.8,43.3 L495.3,43.3 L495.8,43.3 L496.3,43.3 L496.8,43.3 L497.3,43.3 L497.8,43.3 L498.3,43.3 L498.8,43.3 L499.3,43.3 L499.8,43.3 L500.3,43.3 L500.8,43.3 L501.3,43.3 L501.8,43.3 L502.3,43.3 L502.8,43.3 L503.3,43.3 L503.8,43.3 L504.3,43.3 L504.8,43.3 L505.3,43.3 L505.8,43.3 L506.3,43.3 L506.8,43.3 L507.3,43.3 L507.8,43.3 L508.3,43.3 L508.8,43.3 L509.3,43.3 L509.8,43.3 L510.3,43.3 L510.8,43.3 L511.3,43.3 L511.8,43.3 L512.3,43.3 L512.8,43.3 L513.3,43.3 L513.7,43.3 Z" fill="#e4c7c3" stroke="#c49e99" stroke-width="0.5" stroke-linejoin="round"/>
<line x1="423.3" y1="43.3" x2="513.7" y2="43.3" stroke="#8d8d8d" stroke-width="0.7"/>
<path d="M423.3,56 L423.3,56 L423.8,56 L424.3,56 L424.8,56 L425.3,56 L425.8,56 L426.3,56 L426.8,56 L427.3,56 L427.8,56 L428.3,56 L428.8,56 L429.3,56 L429.8,56 L430.3,56 L430.8,56 L431.3,56 L431.8,56 L432.3,56 L432.8,56 L433.3,56 L433.8,56 L434.3,56 L434.8,56 L435.3,56 L435.8,56 L436.3,56 L436.8,56 L437.3,56 L437.8,56 L438.3,56 L438.8,56 L439.3,56 L439.8,56 L440.3,56 L440.8,56 L441.3,56 L441.8,56 L442.3,56 L442.8,56 L443.3,56 L443.8,55.99 L444.3,55.98 L444.8,55.97 L445.3,55.94 L445.8,55.9 L446.3,55.82 L446.8,55.7 L447.3,55.51 L447.8,55.25 L448.3,54.91 L448.8,54.41 L449.3,54.02 L449.8,53.24 L450.3,52.71 L450.8,52.28 L451.3,52 L451.8,51.76 L452.3,51.67 L452.8,51.62 L453.3,51.96 L453.8,52.14 L454.3,52.71 L454.8,53.08 L455.3,53.48 L455.8,53.85 L456.3,54.04 L456.8,54.47 L457.3,54.73 L457.8,54.82 L458.3,55.05 L458.8,55.03 L459.3,55.22 L459.8,55.28 L460.3,55.33 L460.8,55.36 L461.3,55.39 L461.8,55.42 L462.3,55.45 L462.8,55.48 L463.3,55.52 L463.8,55.55 L464.3,55.58 L464.8,55.62 L465.3,55.66 L465.8,55.69 L466.3,55.73 L466.8,55.76 L467.3,55.79 L467.8,55.82 L468.3,55.85 L468.8,55.87 L469.3,55.89 L469.8,55.91 L470.3,55.93 L470.8,55.94 L471.3,55.95 L471.8,55.96 L472.3,55.97 L472.8,55.98 L473.3,55.98 L473.8,55.99 L474.3,55.99 L474.8,55.99 L475.3,55.99 L475.8,56 L476.3,56 L476.8,56 L477.3,56 L477.8,56 L478.3,56 L478.8,56 L479.3,56 L479.8,56 L480.3,56 L480.8,56 L481.3,56 L481.8,56 L482.3,56 L482.8,56 L483.3,56 L483.8,56 L484.3,56 L484.8,56 L485.3,56 L485.8,56 L486.3,56 L486.8,56 L487.3,56 L487.8,56 L488.3,56 L488.8,56 L489.3,56 L489.8,56 L490.3,56 L490.8,56 L491.3,56 L491.8,56 L492.3,56 L492.8,56 L493.3,56 L493.8,56 L494.3,56 L494.8,56 L495.3,56 L495.8,56 L496.3,56 L496.8,56 L497.3,56 L497.8,56 L498.3,56 L498.8,56 L499.3,56 L499.8,56 L500.3,56 L500.8,56 L501.3,56 L501.8,56 L502.3,56 L502.8,56 L503.3,56 L503.8,56 L504.3,56 L504.8,56 L505.3,56 L505.8,56 L506.3,56 L506.8,56 L507.3,56 L507.8,56 L508.3,56 L508.8,56 L509.3,56 L509.8,56 L510.3,56 L510.8,56 L511.3,56 L511.8,56 L512.3,56 L512.8,56 L513.3,56 L513.7,56 Z" fill="#78ad68" stroke="#467a3c" stroke-width="0.5" stroke-linejoin="round"/>
<line x1="423.3" y1="56" x2="513.7" y2="56" stroke="#7d8d79" stroke-width="0.7"/>
<path d="M423.3,68.8 L423.3,68.8 L423.8,68.8 L424.3,68.8 L424.8,68.8 L425.3,68.8 L425.8,68.8 L426.3,68.8 L426.8,68.8 L427.3,68.8 L427.8,68.8 L428.3,68.8 L428.8,68.8 L429.3,68.8 L429.8,68.8 L430.3,68.8 L430.8,68.8 L431.3,68.8 L431.8,68.8 L432.3,68.8 L432.8,68.8 L433.3,68.8 L433.8,68.8 L434.3,68.8 L434.8,68.8 L435.3,68.8 L435.8,68.8 L436.3,68.8 L436.8,68.8 L437.3,68.8 L437.8,68.8 L438.3,68.8 L438.8,68.8 L439.3,68.8 L439.8,68.8 L440.3,68.8 L440.8,68.8 L441.3,68.8 L441.8,68.8 L442.3,68.8 L442.8,68.8 L443.3,68.8 L443.8,68.8 L444.3,68.79 L444.8,68.78 L445.3,68.77 L445.8,68.75 L446.3,68.71 L446.8,68.65 L447.3,68.56 L447.8,68.42 L448.3,68.23 L448.8,67.92 L449.3,67.57 L449.8,67.32 L450.3,66.91 L450.8,66.47 L451.3,65.89 L451.8,65.55 L452.3,65.39 L452.8,65.27 L453.3,65.37 L453.8,65.19 L454.3,65.4 L454.8,65.66 L455.3,65.98 L455.8,66.16 L456.3,66.37 L456.8,66.77 L457.3,67.03 L457.8,67.18 L458.3,67.38 L458.8,67.68 L459.3,67.79 L459.8,67.79 L460.3,67.76 L460.8,67.9 L461.3,68.05 L461.8,68.01 L462.3,68.05 L462.8,67.9 L463.3,68 L463.8,68.03 L464.3,68.05 L464.8,68.08 L465.3,68.11 L465.8,68.14 L466.3,68.18 L466.8,68.22 L467.3,68.26 L467.8,68.3 L468.3,68.34 L468.8,68.38 L469.3,68.42 L469.8,68.46 L470.3,68.49 L470.8,68.53 L471.3,68.56 L471.8,68.59 L472.3,68.62 L472.8,68.64 L473.3,68.66 L473.8,68.68 L474.3,68.7 L474.8,68.72 L475.3,68.73 L475.8,68.74 L476.3,68.75 L476.8,68.76 L477.3,68.77 L477.8,68.78 L478.3,68.78 L478.8,68.78 L479.3,68.79 L479.8,68.79 L480.3,68.79 L480.8,68.79 L481.3,68.8 L481.8,68.8 L482.3,68.8 L482.8,68.8 L483.3,68.8 L483.8,68.8 L484.3,68.8 L484.8,68.8 L485.3,68.8 L485.8,68.8 L486.3,68.8 L486.8,68.8 L487.3,68.8 L487.8,68.8 L488.3,68.8 L488.8,68.8 L489.3,68.8 L489.8,68.8 L490.3,68.8 L490.8,68.8 L491.3,68.8 L491.8,68.8 L492.3,68.8 L492.8,68.8 L493.3,68.8 L493.8,68.8 L494.3,68.8 L494.8,68.8 L495.3,68.8 L495.8,68.8 L496.3,68.8 L496.8,68.8 L497.3,68.8 L497.8,68.8 L498.3,68.8 L498.8,68.8 L499.3,68.8 L499.8,68.8 L500.3,68.8 L500.8,68.8 L501.3,68.8 L501.8,68.8 L502.3,68.8 L502.8,68.8 L503.3,68.8 L503.8,68.8 L504.3,68.8 L504.8,68.8 L505.3,68.8 L505.8,68.8 L506.3,68.8 L506.8,68.8 L507.3,68.8 L507.8,68.8 L508.3,68.8 L508.8,68.8 L509.3,68.8 L509.8,68.8 L510.3,68.8 L510.8,68.8 L511.3,68.8 L511.8,68.8 L512.3,68.8 L512.8,68.8 L513.3,68.8 L513.7,68.8 Z" fill="#a3d98e" stroke="#6cb356" stroke-width="0.5" stroke-linejoin="round"/>
<line x1="423.3" y1="68.8" x2="513.7" y2="68.8" stroke="#8faa88" stroke-width="0.7"/>
<path d="M423.3,81.6 L423.3,81.6 L423.8,81.6 L424.3,81.6 L424.8,81.6 L425.3,81.6 L425.8,81.6 L426.3,81.6 L426.8,81.6 L427.3,81.6 L427.8,81.6 L428.3,81.6 L428.8,81.6 L429.3,81.6 L429.8,81.6 L430.3,81.6 L430.8,81.6 L431.3,81.6 L431.8,81.6 L432.3,81.6 L432.8,81.6 L433.3,81.6 L433.8,81.6 L434.3,81.6 L434.8,81.6 L435.3,81.6 L435.8,81.6 L436.3,81.6 L436.8,81.6 L437.3,81.6 L437.8,81.6 L438.3,81.6 L438.8,81.6 L439.3,81.6 L439.8,81.6 L440.3,81.6 L440.8,81.6 L441.3,81.6 L441.8,81.6 L442.3,81.6 L442.8,81.6 L443.3,81.6 L443.8,81.6 L444.3,81.59 L444.8,81.59 L445.3,81.57 L445.8,81.54 L446.3,81.48 L446.8,81.36 L447.3,81.16 L447.8,80.85 L448.3,80.46 L448.8,79.56 L449.3,78.89 L449.8,77.86 L450.3,76.71 L450.8,75.35 L451.3,74.25 L451.8,73.34 L452.3,72.93 L452.8,72.94 L453.3,73.33 L453.8,73.54 L454.3,74.4 L454.8,75.18 L455.3,76.04 L455.8,76.75 L456.3,77.52 L456.8,78.32 L457.3,78.92 L457.8,79.47 L458.3,79.66 L458.8,79.9 L459.3,80.28 L459.8,80.39 L460.3,80.35 L460.8,80.44 L461.3,80.67 L461.8,80.46 L462.3,80.59 L462.8,80.63 L463.3,80.79 L463.8,80.64 L464.3,80.83 L464.8,80.87 L465.3,80.92 L465.8,80.97 L466.3,81.02 L466.8,81.07 L467.3,81.12 L467.8,81.17 L468.3,81.22 L468.8,81.26 L469.3,81.3 L469.8,81.34 L470.3,81.37 L470.8,81.4 L471.3,81.43 L471.8,81.46 L472.3,81.48 L472.8,81.5 L473.3,81.51 L473.8,81.53 L474.3,81.54 L474.8,81.55 L475.3,81.56 L475.8,81.57 L476.3,81.58 L476.8,81.58 L477.3,81.58 L477.8,81.59 L478.3,81.59 L478.8,81.59 L479.3,81.59 L479.8,81.6 L480.3,81.6 L480.8,81.6 L481.3,81.6 L481.8,81.6 L482.3,81.6 L482.8,81.6 L483.3,81.6 L483.8,81.6 L484.3,81.6 L484.8,81.6 L485.3,81.6 L485.8,81.6 L486.3,81.6 L486.8,81.6 L487.3,81.6 L487.8,81.6 L488.3,81.6 L488.8,81.6 L489.3,81.6 L489.8,81.6 L490.3,81.6 L490.8,81.6 L491.3,81.6 L491.8,81.6 L492.3,81.6 L492.8,81.6 L493.3,81.6 L493.8,81.6 L494.3,81.6 L494.8,81.6 L495.3,81.6 L495.8,81.6 L496.3,81.6 L496.8,81.6 L497.3,81.6 L497.8,81.6 L498.3,81.6 L498.8,81.6 L499.3,81.6 L499.8,81.6 L500.3,81.6 L500.8,81.6 L501.3,81.6 L501.8,81.6 L502.3,81.6 L502.8,81.6 L503.3,81.6 L503.8,81.6 L504.3,81.6 L504.8,81.6 L505.3,81.6 L505.8,81.6 L506.3,81.6 L506.8,81.6 L507.3,81.6 L507.8,81.6 L508.3,81.6 L508.8,81.6 L509.3,81.6 L509.8,81.6 L510.3,81.6 L510.8,81.6 L511.3,81.6 L511.8,81.6 L512.3,81.6 L512.8,81.6 L513.3,81.6 L513.7,81.6 Z" fill="#f9c08e" stroke="#f0a264" stroke-width="0.5" stroke-linejoin="round"/>
<line x1="423.3" y1="81.6" x2="513.7" y2="81.6" stroke="#e9b088" stroke-width="0.7"/>
<path d="M423.3,94.4 L423.3,94.4 L423.8,94.4 L424.3,94.4 L424.8,94.4 L425.3,94.4 L425.8,94.4 L426.3,94.4 L426.8,94.4 L427.3,94.4 L427.8,94.4 L428.3,94.4 L428.8,94.4 L429.3,94.4 L429.8,94.4 L430.3,94.4 L430.8,94.4 L431.3,94.4 L431.8,94.4 L432.3,94.4 L432.8,94.4 L433.3,94.4 L433.8,94.4 L434.3,94.4 L434.8,94.4 L435.3,94.4 L435.8,94.4 L436.3,94.4 L436.8,94.4 L437.3,94.4 L437.8,94.4 L438.3,94.4 L438.8,94.4 L439.3,94.4 L439.8,94.4 L440.3,94.4 L440.8,94.4 L441.3,94.4 L441.8,94.4 L442.3,94.4 L442.8,94.4 L443.3,94.39 L443.8,94.39 L444.3,94.37 L444.8,94.35 L445.3,94.3 L445.8,94.22 L446.3,94.08 L446.8,93.88 L447.3,93.61 L447.8,93.17 L448.3,92.57 L448.8,92.04 L449.3,91.62 L449.8,91.01 L450.3,90.43 L450.8,90.04 L451.3,89.58 L451.8,89.65 L452.3,89.78 L452.8,90.03 L453.3,90.31 L453.8,90.71 L454.3,91.03 L454.8,91.54 L455.3,91.81 L455.8,92.17 L456.3,92.47 L456.8,92.76 L457.3,93.13 L457.8,93.22 L458.3,93.21 L458.8,93.45 L459.3,93.45 L459.8,93.61 L460.3,93.47 L460.8,93.61 L461.3,93.64 L461.8,93.67 L462.3,93.71 L462.8,93.74 L463.3,93.78 L463.8,93.82 L464.3,93.86 L464.8,93.9 L465.3,93.94 L465.8,93.98 L466.3,94.02 L466.8,94.06 L467.3,94.09 L467.8,94.13 L468.3,94.16 L468.8,94.19 L469.3,94.22 L469.8,94.24 L470.3,94.26 L470.8,94.28 L471.3,94.3 L471.8,94.32 L472.3,94.33 L472.8,94.34 L473.3,94.35 L473.8,94.36 L474.3,94.37 L474.8,94.38 L475.3,94.38 L475.8,94.38 L476.3,94.39 L476.8,94.39 L477.3,94.39 L477.8,94.39 L478.3,94.4 L478.8,94.4 L479.3,94.4 L479.8,94.4 L480.3,94.4 L480.8,94.4 L481.3,94.4 L481.8,94.4 L482.3,94.4 L482.8,94.4 L483.3,94.4 L483.8,94.4 L484.3,94.4 L484.8,94.4 L485.3,94.4 L485.8,94.4 L486.3,94.4 L486.8,94.4 L487.3,94.4 L487.8,94.4 L488.3,94.4 L488.8,94.4 L489.3,94.4 L489.8,94.4 L490.3,94.4 L490.8,94.4 L491.3,94.4 L491.8,94.4 L492.3,94.4 L492.8,94.4 L493.3,94.4 L493.8,94.4 L494.3,94.4 L494.8,94.4 L495.3,94.4 L495.8,94.4 L496.3,94.4 L496.8,94.4 L497.3,94.4 L497.8,94.4 L498.3,94.4 L498.8,94.4 L499.3,94.4 L499.8,94.4 L500.3,94.4 L500.8,94.4 L501.3,94.4 L501.8,94.4 L502.3,94.4 L502.8,94.4 L503.3,94.4 L503.8,94.4 L504.3,94.4 L504.8,94.4 L505.3,94.4 L505.8,94.4 L506.3,94.4 L506.8,94.4 L507.3,94.4 L507.8,94.4 L508.3,94.4 L508.8,94.4 L509.3,94.4 L509.8,94.4 L510.3,94.4 L510.8,94.4 L511.3,94.4 L511.8,94.4 L512.3,94.4 L512.8,94.4 L513.3,94.4 L513.7,94.4 Z" fill="#62c8e6" stroke="#2ea8d2" stroke-width="0.5" stroke-linejoin="round"/>
<line x1="423.3" y1="94.4" x2="513.7" y2="94.4" stroke="#8cc8de" stroke-width="0.7"/>
<path d="M423.3,107.2 L423.3,107.2 L423.8,107.2 L424.3,107.2 L424.8,107.2 L425.3,107.2 L425.8,107.2 L426.3,107.2 L426.8,107.2 L427.3,107.2 L427.8,107.2 L428.3,107.2 L428.8,107.2 L429.3,107.2 L429.8,107.2 L430.3,107.2 L430.8,107.2 L431.3,107.2 L431.8,107.2 L432.3,107.2 L432.8,107.2 L433.3,107.2 L433.8,107.2 L434.3,107.2 L434.8,107.2 L435.3,107.2 L435.8,107.2 L436.3,107.2 L436.8,107.2 L437.3,107.2 L437.8,107.2 L438.3,107.2 L438.8,107.2 L439.3,107.2 L439.8,107.2 L440.3,107.2 L440.8,107.2 L441.3,107.2 L441.8,107.2 L442.3,107.2 L442.8,107.2 L443.3,107.2 L443.8,107.2 L444.3,107.2 L444.8,107.2 L445.3,107.19 L445.8,107.18 L446.3,107.17 L446.8,107.15 L447.3,107.11 L447.8,107.04 L448.3,106.94 L448.8,106.8 L449.3,106.6 L449.8,106.39 L450.3,106.05 L450.8,105.52 L451.3,105.3 L451.8,104.87 L452.3,104.31 L452.8,103.92 L453.3,103.74 L453.8,103.49 L454.3,103.35 L454.8,103.35 L455.3,103.44 L455.8,103.63 L456.3,104.03 L456.8,104.16 L457.3,104.37 L457.8,104.73 L458.3,104.74 L458.8,105.1 L459.3,105.14 L459.8,105.33 L460.3,105.59 L460.8,105.67 L461.3,105.73 L461.8,105.87 L462.3,105.97 L462.8,105.88 L463.3,105.97 L463.8,105.99 L464.3,105.86 L464.8,105.9 L465.3,106.02 L465.8,106.17 L466.3,105.97 L466.8,106.16 L467.3,106.24 L467.8,106.09 L468.3,106.08 L468.8,106.32 L469.3,106.29 L469.8,106.23 L470.3,106.39 L470.8,106.45 L471.3,106.5 L471.8,106.55 L472.3,106.61 L472.8,106.66 L473.3,106.7 L473.8,106.75 L474.3,106.79 L474.8,106.84 L475.3,106.87 L475.8,106.91 L476.3,106.94 L476.8,106.97 L477.3,107 L477.8,107.03 L478.3,107.05 L478.8,107.07 L479.3,107.09 L479.8,107.11 L480.3,107.12 L480.8,107.13 L481.3,107.14 L481.8,107.15 L482.3,107.16 L482.8,107.17 L483.3,107.17 L483.8,107.18 L484.3,107.18 L484.8,107.19 L485.3,107.19 L485.8,107.19 L486.3,107.19 L486.8,107.19 L487.3,107.2 L487.8,107.2 L488.3,107.2 L488.8,107.2 L489.3,107.2 L489.8,107.2 L490.3,107.2 L490.8,107.2 L491.3,107.2 L491.8,107.2 L492.3,107.2 L492.8,107.2 L493.3,107.2 L493.8,107.2 L494.3,107.2 L494.8,107.2 L495.3,107.2 L495.8,107.2 L496.3,107.2 L496.8,107.2 L497.3,107.2 L497.8,107.2 L498.3,107.2 L498.8,107.2 L499.3,107.2 L499.8,107.2 L500.3,107.2 L500.8,107.2 L501.3,107.2 L501.8,107.2 L502.3,107.2 L502.8,107.2 L503.3,107.2 L503.8,107.2 L504.3,107.2 L504.8,107.2 L505.3,107.2 L505.8,107.2 L506.3,107.2 L506.8,107.2 L507.3,107.2 L507.8,107.2 L508.3,107.2 L508.8,107.2 L509.3,107.2 L509.8,107.2 L510.3,107.2 L510.8,107.2 L511.3,107.2 L511.8,107.2 L512.3,107.2 L512.8,107.2 L513.3,107.2 L513.7,107.2 Z" fill="#f39090" stroke="#dd5d5d" stroke-width="0.5" stroke-linejoin="round"/>
<line x1="423.3" y1="107.2" x2="513.7" y2="107.2" stroke="#e09a9a" stroke-width="0.7"/>
<text x="477.7" y="29.2" font-size="7.3" fill="#231f20" stroke="#231f20" stroke-width="0.22">Blank</text>
<text x="477.7" y="42" font-size="7.3" fill="#231f20" stroke="#231f20" stroke-width="0.22">shNC</text>
<text x="477.7" y="54.7" font-size="7.3" fill="#231f20" stroke="#231f20" stroke-width="0.22">sh1</text>
<text x="477.7" y="67.5" font-size="7.3" fill="#231f20" stroke="#231f20" stroke-width="0.22">sh2</text>
<text x="477.7" y="80.3" font-size="7.3" fill="#231f20" stroke="#231f20" stroke-width="0.22">shNC+Abs</text>
<text x="477.7" y="93.1" font-size="7.3" fill="#231f20" stroke="#231f20" stroke-width="0.22">sh1+Abs</text>
<text x="477.7" y="105.9" font-size="7.3" fill="#231f20" stroke="#231f20" stroke-width="0.22">sh2+Abs</text>
<rect x="422.8" y="15.3" width="91.4" height="91.9" fill="none" stroke="#7a7a7a" stroke-width="0.9"/>
<line x1="431.7" y1="107.2" x2="431.7" y2="109.2" stroke="#333" stroke-width="0.6"/>
<line x1="452.1" y1="107.2" x2="452.1" y2="109.2" stroke="#333" stroke-width="0.6"/>
<line x1="472.6" y1="107.2" x2="472.6" y2="109.2" stroke="#333" stroke-width="0.6"/>
<line x1="493" y1="107.2" x2="493" y2="109.2" stroke="#333" stroke-width="0.6"/>
<line x1="513.4" y1="107.2" x2="513.4" y2="109.2" stroke="#333" stroke-width="0.6"/>
<line x1="423.58" y1="107.2" x2="423.58" y2="108.3" stroke="#555" stroke-width="0.4"/>
<line x1="425.56" y1="107.2" x2="425.56" y2="108.3" stroke="#555" stroke-width="0.4"/>
<line x1="427.17" y1="107.2" x2="427.17" y2="108.3" stroke="#555" stroke-width="0.4"/>
<line x1="428.54" y1="107.2" x2="428.54" y2="108.3" stroke="#555" stroke-width="0.4"/>
<line x1="429.72" y1="107.2" x2="429.72" y2="108.3" stroke="#555" stroke-width="0.4"/>
<line x1="430.77" y1="107.2" x2="430.77" y2="108.3" stroke="#555" stroke-width="0.4"/>
<line x1="437.84" y1="107.2" x2="437.84" y2="108.3" stroke="#555" stroke-width="0.4"/>
<line x1="441.43" y1="107.2" x2="441.43" y2="108.3" stroke="#555" stroke-width="0.4"/>
<line x1="443.98" y1="107.2" x2="443.98" y2="108.3" stroke="#555" stroke-width="0.4"/>
<line x1="445.96" y1="107.2" x2="445.96" y2="108.3" stroke="#555" stroke-width="0.4"/>
<line x1="447.57" y1="107.2" x2="447.57" y2="108.3" stroke="#555" stroke-width="0.4"/>
<line x1="448.94" y1="107.2" x2="448.94" y2="108.3" stroke="#555" stroke-width="0.4"/>
<line x1="450.12" y1="107.2" x2="450.12" y2="108.3" stroke="#555" stroke-width="0.4"/>
<line x1="451.17" y1="107.2" x2="451.17" y2="108.3" stroke="#555" stroke-width="0.4"/>
<line x1="458.24" y1="107.2" x2="458.24" y2="108.3" stroke="#555" stroke-width="0.4"/>
<line x1="461.83" y1="107.2" x2="461.83" y2="108.3" stroke="#555" stroke-width="0.4"/>
<line x1="464.38" y1="107.2" x2="464.38" y2="108.3" stroke="#555" stroke-width="0.4"/>
<line x1="466.36" y1="107.2" x2="466.36" y2="108.3" stroke="#555" stroke-width="0.4"/>
<line x1="467.97" y1="107.2" x2="467.97" y2="108.3" stroke="#555" stroke-width="0.4"/>
<line x1="469.34" y1="107.2" x2="469.34" y2="108.3" stroke="#555" stroke-width="0.4"/>
<line x1="470.52" y1="107.2" x2="470.52" y2="108.3" stroke="#555" stroke-width="0.4"/>
<line x1="471.57" y1="107.2" x2="471.57" y2="108.3" stroke="#555" stroke-width="0.4"/>
<line x1="478.64" y1="107.2" x2="478.64" y2="108.3" stroke="#555" stroke-width="0.4"/>
<line x1="482.23" y1="107.2" x2="482.23" y2="108.3" stroke="#555" stroke-width="0.4"/>
<line x1="484.78" y1="107.2" x2="484.78" y2="108.3" stroke="#555" stroke-width="0.4"/>
<line x1="486.76" y1="107.2" x2="486.76" y2="108.3" stroke="#555" stroke-width="0.4"/>
<line x1="488.37" y1="107.2" x2="488.37" y2="108.3" stroke="#555" stroke-width="0.4"/>
<line x1="489.74" y1="107.2" x2="489.74" y2="108.3" stroke="#555" stroke-width="0.4"/>
<line x1="490.92" y1="107.2" x2="490.92" y2="108.3" stroke="#555" stroke-width="0.4"/>
<line x1="491.97" y1="107.2" x2="491.97" y2="108.3" stroke="#555" stroke-width="0.4"/>
<line x1="499.04" y1="107.2" x2="499.04" y2="108.3" stroke="#555" stroke-width="0.4"/>
<line x1="502.63" y1="107.2" x2="502.63" y2="108.3" stroke="#555" stroke-width="0.4"/>
<line x1="505.18" y1="107.2" x2="505.18" y2="108.3" stroke="#555" stroke-width="0.4"/>
<line x1="507.16" y1="107.2" x2="507.16" y2="108.3" stroke="#555" stroke-width="0.4"/>
<line x1="508.77" y1="107.2" x2="508.77" y2="108.3" stroke="#555" stroke-width="0.4"/>
<line x1="510.14" y1="107.2" x2="510.14" y2="108.3" stroke="#555" stroke-width="0.4"/>
<line x1="511.32" y1="107.2" x2="511.32" y2="108.3" stroke="#555" stroke-width="0.4"/>
<line x1="512.37" y1="107.2" x2="512.37" y2="108.3" stroke="#555" stroke-width="0.4"/>
<text x="431.7" y="117.3" font-size="7" text-anchor="middle" fill="#231f20" stroke="#231f20" stroke-width="0.22">10<tspan font-size="4.8" dy="-2.6">-1</tspan></text>
<text x="452.1" y="117.3" font-size="7" text-anchor="middle" fill="#231f20" stroke="#231f20" stroke-width="0.22">10<tspan font-size="4.8" dy="-2.6">0</tspan></text>
<text x="472.6" y="117.3" font-size="7" text-anchor="middle" fill="#231f20" stroke="#231f20" stroke-width="0.22">10<tspan font-size="4.8" dy="-2.6">1</tspan></text>
<text x="493" y="117.3" font-size="7" text-anchor="middle" fill="#231f20" stroke="#231f20" stroke-width="0.22">10<tspan font-size="4.8" dy="-2.6">2</tspan></text>
<text x="513.4" y="117.3" font-size="7" text-anchor="middle" fill="#231f20" stroke="#231f20" stroke-width="0.22">10<tspan font-size="4.8" dy="-2.6">3</tspan></text>
<text x="470" y="125.9" font-size="7.4" text-anchor="middle" fill="#231f20" stroke="#231f20" stroke-width="0.22">PE-p-JNK</text>
<rect x="241.15" y="220.16" width="6.1" height="19.24" fill="#c6533a" stroke="#a8462e" stroke-width="0.4"/>
<line x1="244.2" y1="220.16" x2="244.2" y2="219.03" stroke="#111" stroke-width="0.6"/>
<line x1="242.9" y1="219.03" x2="245.5" y2="219.03" stroke="#111" stroke-width="0.6"/>
<circle cx="243.4" cy="219.03" r="0.85" fill="#111"/>
<circle cx="245" cy="220.16" r="0.85" fill="#111"/>
<circle cx="244.2" cy="221.86" r="0.85" fill="#111"/>
<rect x="250.15" y="220.16" width="6.1" height="19.24" fill="#eb7531" stroke="#d5642a" stroke-width="0.4"/>
<line x1="253.2" y1="220.16" x2="253.2" y2="218.46" stroke="#111" stroke-width="0.6"/>
<line x1="251.9" y1="218.46" x2="254.5" y2="218.46" stroke="#111" stroke-width="0.6"/>
<circle cx="253.2" cy="218.46" r="0.85" fill="#111"/>
<circle cx="253.2" cy="221.29" r="0.85" fill="#111"/>
<circle cx="253.2" cy="222.43" r="0.85" fill="#111"/>
<rect x="259.75" y="213.94" width="6.1" height="25.46" fill="#de9d4b" stroke="#c48a3e" stroke-width="0.4"/>
<line x1="262.8" y1="213.94" x2="262.8" y2="211.67" stroke="#111" stroke-width="0.6"/>
<line x1="261.5" y1="211.67" x2="264.1" y2="211.67" stroke="#111" stroke-width="0.6"/>
<circle cx="262.8" cy="212.24" r="0.85" fill="#111"/>
<circle cx="262.8" cy="214.5" r="0.85" fill="#111"/>
<circle cx="262.8" cy="216.77" r="0.85" fill="#111"/>
<rect x="275.45" y="207.71" width="6.1" height="31.69" fill="#c6533a" stroke="#a8462e" stroke-width="0.4"/>
<line x1="278.5" y1="207.71" x2="278.5" y2="207.15" stroke="#111" stroke-width="0.6"/>
<line x1="277.2" y1="207.15" x2="279.8" y2="207.15" stroke="#111" stroke-width="0.6"/>
<circle cx="278.5" cy="207.15" r="0.85" fill="#111"/>
<circle cx="278.5" cy="207.71" r="0.85" fill="#111"/>
<circle cx="278.5" cy="208.28" r="0.85" fill="#111"/>
<rect x="284.45" y="204.32" width="6.1" height="35.08" fill="#eb7531" stroke="#d5642a" stroke-width="0.4"/>
<line x1="287.5" y1="204.32" x2="287.5" y2="202.96" stroke="#111" stroke-width="0.6"/>
<line x1="286.2" y1="202.96" x2="288.8" y2="202.96" stroke="#111" stroke-width="0.6"/>
<circle cx="287.5" cy="203.19" r="0.85" fill="#111"/>
<circle cx="287.5" cy="204.32" r="0.85" fill="#111"/>
<circle cx="287.5" cy="205.45" r="0.85" fill="#111"/>
<rect x="293.75" y="189.04" width="6.1" height="50.36" fill="#de9d4b" stroke="#c48a3e" stroke-width="0.4"/>
<line x1="296.8" y1="189.04" x2="296.8" y2="183.38" stroke="#111" stroke-width="0.6"/>
<line x1="295.5" y1="183.38" x2="298.1" y2="183.38" stroke="#111" stroke-width="0.6"/>
<circle cx="296.8" cy="185.08" r="0.85" fill="#111"/>
<circle cx="296.8" cy="189.61" r="0.85" fill="#111"/>
<circle cx="296.8" cy="197.53" r="0.85" fill="#111"/>
<line x1="236.6" y1="171" x2="236.6" y2="239.4" stroke="#5a5a5a" stroke-width="0.85"/>
<line x1="236.6" y1="239.4" x2="301.8" y2="239.4" stroke="#5a5a5a" stroke-width="0.85"/>
<line x1="234.8" y1="239.4" x2="236.6" y2="239.4" stroke="#5a5a5a" stroke-width="0.8"/>
<text x="234.4" y="242" font-size="7.5" text-anchor="end" fill="#231f20" stroke="#231f20" stroke-width="0.22">0</text>
<line x1="234.8" y1="216.77" x2="236.6" y2="216.77" stroke="#5a5a5a" stroke-width="0.8"/>
<text x="234.4" y="219.37" font-size="7.5" text-anchor="end" fill="#231f20" stroke="#231f20" stroke-width="0.22">2</text>
<line x1="234.8" y1="194.13" x2="236.6" y2="194.13" stroke="#5a5a5a" stroke-width="0.8"/>
<text x="234.4" y="196.73" font-size="7.5" text-anchor="end" fill="#231f20" stroke="#231f20" stroke-width="0.22">4</text>
<line x1="234.8" y1="171.5" x2="236.6" y2="171.5" stroke="#5a5a5a" stroke-width="0.8"/>
<text x="234.4" y="174.1" font-size="7.5" text-anchor="end" fill="#231f20" stroke="#231f20" stroke-width="0.22">6</text>
<line x1="277.8" y1="159.9" x2="297.9" y2="159.9" stroke="#555" stroke-width="0.7"/>
<line x1="277.8" y1="158.8" x2="277.8" y2="161" stroke="#555" stroke-width="0.55"/>
<line x1="297.9" y1="158.8" x2="297.9" y2="161" stroke="#555" stroke-width="0.55"/>
<text x="287.85" y="159.5" font-size="7.8" text-anchor="middle" fill="#231f20" stroke="#231f20" stroke-width="0.22">*</text>
<line x1="277.8" y1="168.2" x2="290.6" y2="168.2" stroke="#555" stroke-width="0.7"/>
<line x1="277.8" y1="167.1" x2="277.8" y2="169.3" stroke="#555" stroke-width="0.55"/>
<line x1="290.6" y1="167.1" x2="290.6" y2="169.3" stroke="#555" stroke-width="0.55"/>
<text x="284.2" y="167.8" font-size="7.8" text-anchor="middle" fill="#231f20" stroke="#231f20" stroke-width="0.22">*</text>
<line x1="262" y1="176.4" x2="297.9" y2="176.4" stroke="#555" stroke-width="0.7"/>
<line x1="262" y1="175.3" x2="262" y2="177.5" stroke="#555" stroke-width="0.55"/>
<line x1="297.9" y1="175.3" x2="297.9" y2="177.5" stroke="#555" stroke-width="0.55"/>
<text x="279.95" y="176" font-size="7.8" text-anchor="middle" fill="#231f20" stroke="#231f20" stroke-width="0.22">**</text>
<line x1="250.2" y1="188.2" x2="287.3" y2="188.2" stroke="#555" stroke-width="0.7"/>
<line x1="250.2" y1="187.1" x2="250.2" y2="189.3" stroke="#555" stroke-width="0.55"/>
<line x1="287.3" y1="187.1" x2="287.3" y2="189.3" stroke="#555" stroke-width="0.55"/>
<text x="268.75" y="187.8" font-size="7.8" text-anchor="middle" fill="#231f20" stroke="#231f20" stroke-width="0.22">**</text>
<line x1="242" y1="196.2" x2="279" y2="196.2" stroke="#555" stroke-width="0.7"/>
<line x1="242" y1="195.1" x2="242" y2="197.3" stroke="#555" stroke-width="0.55"/>
<line x1="279" y1="195.1" x2="279" y2="197.3" stroke="#555" stroke-width="0.55"/>
<text x="260.5" y="195.8" font-size="7.8" text-anchor="middle" fill="#231f20" stroke="#231f20" stroke-width="0.22">***</text>
<line x1="242" y1="203.3" x2="262.5" y2="203.3" stroke="#555" stroke-width="0.7"/>
<line x1="242" y1="202.2" x2="242" y2="204.4" stroke="#555" stroke-width="0.55"/>
<line x1="262.5" y1="202.2" x2="262.5" y2="204.4" stroke="#555" stroke-width="0.55"/>
<text x="252.25" y="202.9" font-size="7.8" text-anchor="middle" fill="#231f20" stroke="#231f20" stroke-width="0.22">*</text>
<line x1="242" y1="212.3" x2="253.8" y2="212.3" stroke="#555" stroke-width="0.7"/>
<line x1="242" y1="211.2" x2="242" y2="213.4" stroke="#555" stroke-width="0.55"/>
<line x1="253.8" y1="211.2" x2="253.8" y2="213.4" stroke="#555" stroke-width="0.55"/>
<text x="247.9" y="211" font-size="7.3" text-anchor="middle" fill="#231f20" stroke="#231f20" stroke-width="0.22">ns</text>
<text x="224.8" y="201.9" font-size="7.5" text-anchor="middle" fill="#231f20" stroke="#231f20" stroke-width="0.22" textLength="45.6" lengthAdjust="spacingAndGlyphs" transform="rotate(-90 224.8 201.9)">MFI of p-ERK</text>
<rect x="239" y="150.7" width="7.3" height="3.3" fill="#c6533a"/>
<text x="247.9" y="154.8" font-size="7.4" fill="#231f20" stroke="#231f20" stroke-width="0.22">shNC</text>
<rect x="239" y="158.6" width="7.3" height="3.3" fill="#eb7531"/>
<text x="247.9" y="162.7" font-size="7.4" fill="#231f20" stroke="#231f20" stroke-width="0.22">sh1</text>
<rect x="239" y="166.5" width="7.3" height="3.3" fill="#de9d4b"/>
<text x="247.9" y="170.6" font-size="7.4" fill="#231f20" stroke="#231f20" stroke-width="0.22">sh2</text>
<text x="252.9" y="247.2" font-size="7.4" text-anchor="middle" fill="#231f20" stroke="#231f20" stroke-width="0.22">Control</text>
<text x="287.8" y="247.2" font-size="7.4" text-anchor="middle" fill="#231f20" stroke="#231f20" stroke-width="0.22">CD3+CD28</text>
<rect x="344.05" y="228.65" width="6.1" height="10.75" fill="#c6533a" stroke="#a8462e" stroke-width="0.4"/>
<line x1="347.1" y1="228.65" x2="347.1" y2="228.08" stroke="#111" stroke-width="0.6"/>
<line x1="345.8" y1="228.08" x2="348.4" y2="228.08" stroke="#111" stroke-width="0.6"/>
<circle cx="346.3" cy="228.31" r="0.85" fill="#111"/>
<circle cx="347.9" cy="228.65" r="0.85" fill="#111"/>
<circle cx="347.1" cy="228.99" r="0.85" fill="#111"/>
<rect x="353.45" y="225.82" width="6.1" height="13.58" fill="#eb7531" stroke="#d5642a" stroke-width="0.4"/>
<line x1="356.5" y1="225.82" x2="356.5" y2="224.69" stroke="#111" stroke-width="0.6"/>
<line x1="355.2" y1="224.69" x2="357.8" y2="224.69" stroke="#111" stroke-width="0.6"/>
<circle cx="356.5" cy="225.25" r="0.85" fill="#111"/>
<circle cx="356.5" cy="225.82" r="0.85" fill="#111"/>
<circle cx="356.5" cy="226.39" r="0.85" fill="#111"/>
<rect x="362.95" y="219.03" width="6.1" height="20.37" fill="#de9d4b" stroke="#c48a3e" stroke-width="0.4"/>
<line x1="366" y1="219.03" x2="366" y2="217.33" stroke="#111" stroke-width="0.6"/>
<line x1="364.7" y1="217.33" x2="367.3" y2="217.33" stroke="#111" stroke-width="0.6"/>
<circle cx="366" cy="217.9" r="0.85" fill="#111"/>
<circle cx="366" cy="219.03" r="0.85" fill="#111"/>
<circle cx="366" cy="220.16" r="0.85" fill="#111"/>
<rect x="378.35" y="214.5" width="6.1" height="24.9" fill="#c6533a" stroke="#a8462e" stroke-width="0.4"/>
<line x1="381.4" y1="214.5" x2="381.4" y2="210.54" stroke="#111" stroke-width="0.6"/>
<line x1="380.1" y1="210.54" x2="382.7" y2="210.54" stroke="#111" stroke-width="0.6"/>
<circle cx="381.4" cy="212.24" r="0.85" fill="#111"/>
<circle cx="381.4" cy="215.63" r="0.85" fill="#111"/>
<circle cx="381.4" cy="216.77" r="0.85" fill="#111"/>
<rect x="387.85" y="203.19" width="6.1" height="36.21" fill="#eb7531" stroke="#d5642a" stroke-width="0.4"/>
<line x1="390.9" y1="203.19" x2="390.9" y2="202.06" stroke="#111" stroke-width="0.6"/>
<line x1="389.6" y1="202.06" x2="392.2" y2="202.06" stroke="#111" stroke-width="0.6"/>
<circle cx="390.9" cy="202.62" r="0.85" fill="#111"/>
<circle cx="390.9" cy="203.75" r="0.85" fill="#111"/>
<circle cx="390.9" cy="204.32" r="0.85" fill="#111"/>
<rect x="397.25" y="189.61" width="6.1" height="49.79" fill="#de9d4b" stroke="#c48a3e" stroke-width="0.4"/>
<line x1="400.3" y1="189.61" x2="400.3" y2="182.82" stroke="#111" stroke-width="0.6"/>
<line x1="399" y1="182.82" x2="401.6" y2="182.82" stroke="#111" stroke-width="0.6"/>
<circle cx="400.3" cy="183.95" r="0.85" fill="#111"/>
<circle cx="400.3" cy="188.47" r="0.85" fill="#111"/>
<circle cx="400.3" cy="196.4" r="0.85" fill="#111"/>
<line x1="339.5" y1="171" x2="339.5" y2="239.4" stroke="#5a5a5a" stroke-width="0.85"/>
<line x1="339.5" y1="239.4" x2="405.3" y2="239.4" stroke="#5a5a5a" stroke-width="0.85"/>
<line x1="337.7" y1="239.4" x2="339.5" y2="239.4" stroke="#5a5a5a" stroke-width="0.8"/>
<text x="337.3" y="242" font-size="7.5" text-anchor="end" fill="#231f20" stroke="#231f20" stroke-width="0.22">0</text>
<line x1="337.7" y1="216.77" x2="339.5" y2="216.77" stroke="#5a5a5a" stroke-width="0.8"/>
<text x="337.3" y="219.37" font-size="7.5" text-anchor="end" fill="#231f20" stroke="#231f20" stroke-width="0.22">20</text>
<line x1="337.7" y1="194.13" x2="339.5" y2="194.13" stroke="#5a5a5a" stroke-width="0.8"/>
<text x="337.3" y="196.73" font-size="7.5" text-anchor="end" fill="#231f20" stroke="#231f20" stroke-width="0.22">40</text>
<line x1="337.7" y1="171.5" x2="339.5" y2="171.5" stroke="#5a5a5a" stroke-width="0.8"/>
<text x="337.3" y="174.1" font-size="7.5" text-anchor="end" fill="#231f20" stroke="#231f20" stroke-width="0.22">60</text>
<line x1="380.8" y1="158" x2="400.8" y2="158" stroke="#555" stroke-width="0.7"/>
<line x1="380.8" y1="156.9" x2="380.8" y2="159.1" stroke="#555" stroke-width="0.55"/>
<line x1="400.8" y1="156.9" x2="400.8" y2="159.1" stroke="#555" stroke-width="0.55"/>
<text x="390.8" y="157.6" font-size="7.8" text-anchor="middle" fill="#231f20" stroke="#231f20" stroke-width="0.22">**</text>
<line x1="380.8" y1="166.7" x2="393.7" y2="166.7" stroke="#555" stroke-width="0.7"/>
<line x1="380.8" y1="165.6" x2="380.8" y2="167.8" stroke="#555" stroke-width="0.55"/>
<line x1="393.7" y1="165.6" x2="393.7" y2="167.8" stroke="#555" stroke-width="0.55"/>
<text x="387.25" y="166.3" font-size="7.8" text-anchor="middle" fill="#231f20" stroke="#231f20" stroke-width="0.22">*</text>
<line x1="365.4" y1="176.4" x2="400.8" y2="176.4" stroke="#555" stroke-width="0.7"/>
<line x1="365.4" y1="175.3" x2="365.4" y2="177.5" stroke="#555" stroke-width="0.55"/>
<line x1="400.8" y1="175.3" x2="400.8" y2="177.5" stroke="#555" stroke-width="0.55"/>
<text x="383.1" y="176" font-size="7.8" text-anchor="middle" fill="#231f20" stroke="#231f20" stroke-width="0.22">**</text>
<line x1="353.2" y1="194.1" x2="391.4" y2="194.1" stroke="#555" stroke-width="0.7"/>
<line x1="353.2" y1="193" x2="353.2" y2="195.2" stroke="#555" stroke-width="0.55"/>
<line x1="391.4" y1="193" x2="391.4" y2="195.2" stroke="#555" stroke-width="0.55"/>
<text x="372.3" y="193.7" font-size="7.8" text-anchor="middle" fill="#231f20" stroke="#231f20" stroke-width="0.22">***</text>
<line x1="344.9" y1="202.4" x2="381.9" y2="202.4" stroke="#555" stroke-width="0.7"/>
<line x1="344.9" y1="201.3" x2="344.9" y2="203.5" stroke="#555" stroke-width="0.55"/>
<line x1="381.9" y1="201.3" x2="381.9" y2="203.5" stroke="#555" stroke-width="0.55"/>
<text x="363.4" y="202" font-size="7.8" text-anchor="middle" fill="#231f20" stroke="#231f20" stroke-width="0.22">**</text>
<line x1="344.9" y1="210.4" x2="365.9" y2="210.4" stroke="#555" stroke-width="0.7"/>
<line x1="344.9" y1="209.3" x2="344.9" y2="211.5" stroke="#555" stroke-width="0.55"/>
<line x1="365.9" y1="209.3" x2="365.9" y2="211.5" stroke="#555" stroke-width="0.55"/>
<text x="355.4" y="210" font-size="7.8" text-anchor="middle" fill="#231f20" stroke="#231f20" stroke-width="0.22">**</text>
<line x1="344.9" y1="218.6" x2="357.2" y2="218.6" stroke="#555" stroke-width="0.7"/>
<line x1="344.9" y1="217.5" x2="344.9" y2="219.7" stroke="#555" stroke-width="0.55"/>
<line x1="357.2" y1="217.5" x2="357.2" y2="219.7" stroke="#555" stroke-width="0.55"/>
<text x="351.05" y="218.2" font-size="7.8" text-anchor="middle" fill="#231f20" stroke="#231f20" stroke-width="0.22">*</text>
<text x="323" y="207" font-size="7.5" text-anchor="middle" fill="#231f20" stroke="#231f20" stroke-width="0.22" textLength="41.7" lengthAdjust="spacingAndGlyphs" transform="rotate(-90 323 207)">MFI of p-p38</text>
<rect x="341.8" y="152.2" width="7.3" height="3.3" fill="#c6533a"/>
<text x="350.7" y="156.3" font-size="7.4" fill="#231f20" stroke="#231f20" stroke-width="0.22">shNC</text>
<rect x="341.8" y="160.1" width="7.3" height="3.3" fill="#eb7531"/>
<text x="350.7" y="164.2" font-size="7.4" fill="#231f20" stroke="#231f20" stroke-width="0.22">sh1</text>
<rect x="341.8" y="168" width="7.3" height="3.3" fill="#de9d4b"/>
<text x="350.7" y="172.1" font-size="7.4" fill="#231f20" stroke="#231f20" stroke-width="0.22">sh2</text>
<text x="355.8" y="247.2" font-size="7.4" text-anchor="middle" fill="#231f20" stroke="#231f20" stroke-width="0.22">Control</text>
<text x="390.7" y="247.2" font-size="7.4" text-anchor="middle" fill="#231f20" stroke="#231f20" stroke-width="0.22">CD3+CD28</text>
<rect x="444.45" y="212.34" width="6.1" height="27.56" fill="#c6533a" stroke="#a8462e" stroke-width="0.4"/>
<line x1="447.5" y1="212.34" x2="447.5" y2="210.96" stroke="#111" stroke-width="0.6"/>
<line x1="446.2" y1="210.96" x2="448.8" y2="210.96" stroke="#111" stroke-width="0.6"/>
<circle cx="446.7" cy="211.65" r="0.85" fill="#111"/>
<circle cx="448.3" cy="212.34" r="0.85" fill="#111"/>
<circle cx="447.5" cy="214.41" r="0.85" fill="#111"/>
<rect x="453.95" y="210.96" width="6.1" height="28.94" fill="#eb7531" stroke="#d5642a" stroke-width="0.4"/>
<line x1="457" y1="210.96" x2="457" y2="210.27" stroke="#111" stroke-width="0.6"/>
<line x1="455.7" y1="210.27" x2="458.3" y2="210.27" stroke="#111" stroke-width="0.6"/>
<circle cx="456.2" cy="210.96" r="0.85" fill="#111"/>
<circle cx="457.8" cy="210.96" r="0.85" fill="#111"/>
<circle cx="457" cy="211.65" r="0.85" fill="#111"/>
<rect x="463.35" y="202.69" width="6.1" height="37.21" fill="#de9d4b" stroke="#c48a3e" stroke-width="0.4"/>
<line x1="466.4" y1="202.69" x2="466.4" y2="198.56" stroke="#111" stroke-width="0.6"/>
<line x1="465.1" y1="198.56" x2="467.7" y2="198.56" stroke="#111" stroke-width="0.6"/>
<circle cx="466.4" cy="198.56" r="0.85" fill="#111"/>
<circle cx="466.4" cy="204.07" r="0.85" fill="#111"/>
<circle cx="466.4" cy="206.83" r="0.85" fill="#111"/>
<rect x="479.15" y="208.21" width="6.1" height="31.69" fill="#c6533a" stroke="#a8462e" stroke-width="0.4"/>
<line x1="482.2" y1="208.21" x2="482.2" y2="207.52" stroke="#111" stroke-width="0.6"/>
<line x1="480.9" y1="207.52" x2="483.5" y2="207.52" stroke="#111" stroke-width="0.6"/>
<circle cx="482.2" cy="207.52" r="0.85" fill="#111"/>
<circle cx="482.2" cy="208.21" r="0.85" fill="#111"/>
<circle cx="482.2" cy="208.9" r="0.85" fill="#111"/>
<rect x="488.35" y="196.49" width="6.1" height="43.41" fill="#eb7531" stroke="#d5642a" stroke-width="0.4"/>
<line x1="491.4" y1="196.49" x2="491.4" y2="195.12" stroke="#111" stroke-width="0.6"/>
<line x1="490.1" y1="195.12" x2="492.7" y2="195.12" stroke="#111" stroke-width="0.6"/>
<circle cx="491.4" cy="195.12" r="0.85" fill="#111"/>
<circle cx="491.4" cy="197.18" r="0.85" fill="#111"/>
<circle cx="491.4" cy="198.56" r="0.85" fill="#111"/>
<rect x="497.55" y="186.16" width="6.1" height="53.74" fill="#de9d4b" stroke="#c48a3e" stroke-width="0.4"/>
<line x1="500.6" y1="186.16" x2="500.6" y2="184.5" stroke="#111" stroke-width="0.6"/>
<line x1="499.3" y1="184.5" x2="501.9" y2="184.5" stroke="#111" stroke-width="0.6"/>
<circle cx="500.6" cy="184.09" r="0.85" fill="#111"/>
<circle cx="500.6" cy="186.16" r="0.85" fill="#111"/>
<circle cx="500.6" cy="187.54" r="0.85" fill="#111"/>
<line x1="440.6" y1="170.5" x2="440.6" y2="239.9" stroke="#5a5a5a" stroke-width="0.85"/>
<line x1="440.6" y1="239.9" x2="505.6" y2="239.9" stroke="#5a5a5a" stroke-width="0.85"/>
<line x1="438.8" y1="239.9" x2="440.6" y2="239.9" stroke="#5a5a5a" stroke-width="0.8"/>
<text x="438.4" y="242.5" font-size="7.5" text-anchor="end" fill="#231f20" stroke="#231f20" stroke-width="0.22">0</text>
<line x1="438.8" y1="226.12" x2="440.6" y2="226.12" stroke="#5a5a5a" stroke-width="0.8"/>
<text x="438.4" y="228.72" font-size="7.5" text-anchor="end" fill="#231f20" stroke="#231f20" stroke-width="0.22">1</text>
<line x1="438.8" y1="212.34" x2="440.6" y2="212.34" stroke="#5a5a5a" stroke-width="0.8"/>
<text x="438.4" y="214.94" font-size="7.5" text-anchor="end" fill="#231f20" stroke="#231f20" stroke-width="0.22">2</text>
<line x1="438.8" y1="198.56" x2="440.6" y2="198.56" stroke="#5a5a5a" stroke-width="0.8"/>
<text x="438.4" y="201.16" font-size="7.5" text-anchor="end" fill="#231f20" stroke="#231f20" stroke-width="0.22">3</text>
<line x1="438.8" y1="184.78" x2="440.6" y2="184.78" stroke="#5a5a5a" stroke-width="0.8"/>
<text x="438.4" y="187.38" font-size="7.5" text-anchor="end" fill="#231f20" stroke="#231f20" stroke-width="0.22">4</text>
<line x1="438.8" y1="171" x2="440.6" y2="171" stroke="#5a5a5a" stroke-width="0.8"/>
<text x="438.4" y="173.6" font-size="7.5" text-anchor="end" fill="#231f20" stroke="#231f20" stroke-width="0.22">5</text>
<line x1="481.4" y1="149.8" x2="501.4" y2="149.8" stroke="#555" stroke-width="0.7"/>
<line x1="481.4" y1="148.7" x2="481.4" y2="150.9" stroke="#555" stroke-width="0.55"/>
<line x1="501.4" y1="148.7" x2="501.4" y2="150.9" stroke="#555" stroke-width="0.55"/>
<text x="491.4" y="149.4" font-size="7.8" text-anchor="middle" fill="#231f20" stroke="#231f20" stroke-width="0.22">***</text>
<line x1="481.4" y1="158.7" x2="494.3" y2="158.7" stroke="#555" stroke-width="0.7"/>
<line x1="481.4" y1="157.6" x2="481.4" y2="159.8" stroke="#555" stroke-width="0.55"/>
<line x1="494.3" y1="157.6" x2="494.3" y2="159.8" stroke="#555" stroke-width="0.55"/>
<text x="487.85" y="158.3" font-size="7.8" text-anchor="middle" fill="#231f20" stroke="#231f20" stroke-width="0.22">**</text>
<line x1="466.5" y1="168.2" x2="501.4" y2="168.2" stroke="#555" stroke-width="0.7"/>
<line x1="466.5" y1="167.1" x2="466.5" y2="169.3" stroke="#555" stroke-width="0.55"/>
<line x1="501.4" y1="167.1" x2="501.4" y2="169.3" stroke="#555" stroke-width="0.55"/>
<text x="483.95" y="167.8" font-size="7.8" text-anchor="middle" fill="#231f20" stroke="#231f20" stroke-width="0.22">**</text>
<line x1="453.8" y1="176.9" x2="490.8" y2="176.9" stroke="#555" stroke-width="0.7"/>
<line x1="453.8" y1="175.8" x2="453.8" y2="178" stroke="#555" stroke-width="0.55"/>
<line x1="490.8" y1="175.8" x2="490.8" y2="178" stroke="#555" stroke-width="0.55"/>
<text x="472.3" y="176.5" font-size="7.8" text-anchor="middle" fill="#231f20" stroke="#231f20" stroke-width="0.22">***</text>
<line x1="446" y1="185.1" x2="482.5" y2="185.1" stroke="#555" stroke-width="0.7"/>
<line x1="446" y1="184" x2="446" y2="186.2" stroke="#555" stroke-width="0.55"/>
<line x1="482.5" y1="184" x2="482.5" y2="186.2" stroke="#555" stroke-width="0.55"/>
<text x="464.25" y="183.8" font-size="7.3" text-anchor="middle" fill="#231f20" stroke="#231f20" stroke-width="0.22">ns</text>
<line x1="446" y1="193.9" x2="466" y2="193.9" stroke="#555" stroke-width="0.7"/>
<line x1="446" y1="192.8" x2="446" y2="195" stroke="#555" stroke-width="0.55"/>
<line x1="466" y1="192.8" x2="466" y2="195" stroke="#555" stroke-width="0.55"/>
<text x="456" y="192.6" font-size="7.3" text-anchor="middle" fill="#231f20" stroke="#231f20" stroke-width="0.22">ns</text>
<line x1="446" y1="205.2" x2="456.6" y2="205.2" stroke="#555" stroke-width="0.7"/>
<line x1="446" y1="204.1" x2="446" y2="206.3" stroke="#555" stroke-width="0.55"/>
<line x1="456.6" y1="204.1" x2="456.6" y2="206.3" stroke="#555" stroke-width="0.55"/>
<text x="451.3" y="203.9" font-size="7.3" text-anchor="middle" fill="#231f20" stroke="#231f20" stroke-width="0.22">ns</text>
<text x="429" y="201.9" font-size="7.5" text-anchor="middle" fill="#231f20" stroke="#231f20" stroke-width="0.22" textLength="45.6" lengthAdjust="spacingAndGlyphs" transform="rotate(-90 429 201.9)">MFI of p-JNK</text>
<rect x="440.6" y="151" width="7.3" height="3.3" fill="#c6533a"/>
<text x="449.5" y="155.1" font-size="7.4" fill="#231f20" stroke="#231f20" stroke-width="0.22">shNC</text>
<rect x="440.6" y="158.9" width="7.3" height="3.3" fill="#eb7531"/>
<text x="449.5" y="163" font-size="7.4" fill="#231f20" stroke="#231f20" stroke-width="0.22">sh1</text>
<rect x="440.6" y="166.8" width="7.3" height="3.3" fill="#de9d4b"/>
<text x="449.5" y="170.9" font-size="7.4" fill="#231f20" stroke="#231f20" stroke-width="0.22">sh2</text>
<text x="456.9" y="247.7" font-size="7.4" text-anchor="middle" fill="#231f20" stroke="#231f20" stroke-width="0.22">Control</text>
<text x="491.8" y="247.7" font-size="7.4" text-anchor="middle" fill="#231f20" stroke="#231f20" stroke-width="0.22">CD3+CD28</text>
<defs><marker id="ah" viewBox="0 0 10 10" refX="8" refY="5" markerWidth="5" markerHeight="5" orient="auto-start-reverse"><path d="M0,0 L10,5 L0,10 z" fill="#111"/></marker><marker id="ahs" viewBox="0 0 10 10" refX="8" refY="5" markerWidth="6" markerHeight="6" orient="auto-start-reverse"><path d="M0,1 L10,5 L0,9 z" fill="#111"/></marker><marker id="ahb" viewBox="0 0 10 10" refX="7" refY="5" markerWidth="3.2" markerHeight="3.2" orient="auto-start-reverse"><path d="M0,0 L10,5 L0,10 L2.5,5 z" fill="#111"/></marker><marker id="ahbig" viewBox="0 0 10 10" refX="6" refY="5" markerWidth="3.4" markerHeight="3.4" orient="auto-start-reverse"><path d="M0,0 L10,5 L0,10 z" fill="#111"/></marker></defs>
<rect x="237.5" y="288.4" width="256.2" height="16.2" fill="#fafcfe"/>
<line x1="238.7" y1="289.4" x2="238.7" y2="303.6" stroke="#c4cee1" stroke-width="1.6"/>
<line x1="242.07" y1="289.4" x2="242.07" y2="303.6" stroke="#c4cee1" stroke-width="1.6"/>
<line x1="245.44" y1="289.4" x2="245.44" y2="303.6" stroke="#c4cee1" stroke-width="1.6"/>
<line x1="248.81" y1="289.4" x2="248.81" y2="303.6" stroke="#c4cee1" stroke-width="1.6"/>
<line x1="252.18" y1="289.4" x2="252.18" y2="303.6" stroke="#c4cee1" stroke-width="1.6"/>
<line x1="255.55" y1="289.4" x2="255.55" y2="303.6" stroke="#c4cee1" stroke-width="1.6"/>
<line x1="258.92" y1="289.4" x2="258.92" y2="303.6" stroke="#c4cee1" stroke-width="1.6"/>
<line x1="262.29" y1="289.4" x2="262.29" y2="303.6" stroke="#c4cee1" stroke-width="1.6"/>
<line x1="265.66" y1="289.4" x2="265.66" y2="303.6" stroke="#c4cee1" stroke-width="1.6"/>
<line x1="269.03" y1="289.4" x2="269.03" y2="303.6" stroke="#c4cee1" stroke-width="1.6"/>
<line x1="272.4" y1="289.4" x2="272.4" y2="303.6" stroke="#c4cee1" stroke-width="1.6"/>
<line x1="275.77" y1="289.4" x2="275.77" y2="303.6" stroke="#c4cee1" stroke-width="1.6"/>
<line x1="279.14" y1="289.4" x2="279.14" y2="303.6" stroke="#c4cee1" stroke-width="1.6"/>
<line x1="282.51" y1="289.4" x2="282.51" y2="303.6" stroke="#c4cee1" stroke-width="1.6"/>
<line x1="285.88" y1="289.4" x2="285.88" y2="303.6" stroke="#c4cee1" stroke-width="1.6"/>
<line x1="289.25" y1="289.4" x2="289.25" y2="303.6" stroke="#c4cee1" stroke-width="1.6"/>
<line x1="292.62" y1="289.4" x2="292.62" y2="303.6" stroke="#c4cee1" stroke-width="1.6"/>
<line x1="295.99" y1="289.4" x2="295.99" y2="303.6" stroke="#c4cee1" stroke-width="1.6"/>
<line x1="299.36" y1="289.4" x2="299.36" y2="303.6" stroke="#c4cee1" stroke-width="1.6"/>
<line x1="302.73" y1="289.4" x2="302.73" y2="303.6" stroke="#c4cee1" stroke-width="1.6"/>
<line x1="306.1" y1="289.4" x2="306.1" y2="303.6" stroke="#c4cee1" stroke-width="1.6"/>
<line x1="309.47" y1="289.4" x2="309.47" y2="303.6" stroke="#c4cee1" stroke-width="1.6"/>
<line x1="312.84" y1="289.4" x2="312.84" y2="303.6" stroke="#c4cee1" stroke-width="1.6"/>
<line x1="316.21" y1="289.4" x2="316.21" y2="303.6" stroke="#c4cee1" stroke-width="1.6"/>
<line x1="319.58" y1="289.4" x2="319.58" y2="303.6" stroke="#c4cee1" stroke-width="1.6"/>
<line x1="322.95" y1="289.4" x2="322.95" y2="303.6" stroke="#c4cee1" stroke-width="1.6"/>
<line x1="326.32" y1="289.4" x2="326.32" y2="303.6" stroke="#c4cee1" stroke-width="1.6"/>
<line x1="329.69" y1="289.4" x2="329.69" y2="303.6" stroke="#c4cee1" stroke-width="1.6"/>
<line x1="333.06" y1="289.4" x2="333.06" y2="303.6" stroke="#c4cee1" stroke-width="1.6"/>
<line x1="336.43" y1="289.4" x2="336.43" y2="303.6" stroke="#c4cee1" stroke-width="1.6"/>
<line x1="339.8" y1="289.4" x2="339.8" y2="303.6" stroke="#c4cee1" stroke-width="1.6"/>
<line x1="343.17" y1="289.4" x2="343.17" y2="303.6" stroke="#c4cee1" stroke-width="1.6"/>
<line x1="346.54" y1="289.4" x2="346.54" y2="303.6" stroke="#c4cee1" stroke-width="1.6"/>
<line x1="349.91" y1="289.4" x2="349.91" y2="303.6" stroke="#c4cee1" stroke-width="1.6"/>
<line x1="353.28" y1="289.4" x2="353.28" y2="303.6" stroke="#c4cee1" stroke-width="1.6"/>
<line x1="356.65" y1="289.4" x2="356.65" y2="303.6" stroke="#c4cee1" stroke-width="1.6"/>
<line x1="360.02" y1="289.4" x2="360.02" y2="303.6" stroke="#c4cee1" stroke-width="1.6"/>
<line x1="363.39" y1="289.4" x2="363.39" y2="303.6" stroke="#c4cee1" stroke-width="1.6"/>
<line x1="366.76" y1="289.4" x2="366.76" y2="303.6" stroke="#c4cee1" stroke-width="1.6"/>
<line x1="370.13" y1="289.4" x2="370.13" y2="303.6" stroke="#c4cee1" stroke-width="1.6"/>
<line x1="373.5" y1="289.4" x2="373.5" y2="303.6" stroke="#c4cee1" stroke-width="1.6"/>
<line x1="376.87" y1="289.4" x2="376.87" y2="303.6" stroke="#c4cee1" stroke-width="1.6"/>
<line x1="380.24" y1="289.4" x2="380.24" y2="303.6" stroke="#c4cee1" stroke-width="1.6"/>
<line x1="383.61" y1="289.4" x2="383.61" y2="303.6" stroke="#c4cee1" stroke-width="1.6"/>
<line x1="386.98" y1="289.4" x2="386.98" y2="303.6" stroke="#c4cee1" stroke-width="1.6"/>
<line x1="390.35" y1="289.4" x2="390.35" y2="303.6" stroke="#c4cee1" stroke-width="1.6"/>
<line x1="393.72" y1="289.4" x2="393.72" y2="303.6" stroke="#c4cee1" stroke-width="1.6"/>
<line x1="397.09" y1="289.4" x2="397.09" y2="303.6" stroke="#c4cee1" stroke-width="1.6"/>
<line x1="400.46" y1="289.4" x2="400.46" y2="303.6" stroke="#c4cee1" stroke-width="1.6"/>
<line x1="403.83" y1="289.4" x2="403.83" y2="303.6" stroke="#c4cee1" stroke-width="1.6"/>
<line x1="407.2" y1="289.4" x2="407.2" y2="303.6" stroke="#c4cee1" stroke-width="1.6"/>
<line x1="410.57" y1="289.4" x2="410.57" y2="303.6" stroke="#c4cee1" stroke-width="1.6"/>
<line x1="413.94" y1="289.4" x2="413.94" y2="303.6" stroke="#c4cee1" stroke-width="1.6"/>
<line x1="417.31" y1="289.4" x2="417.31" y2="303.6" stroke="#c4cee1" stroke-width="1.6"/>
<line x1="420.68" y1="289.4" x2="420.68" y2="303.6" stroke="#c4cee1" stroke-width="1.6"/>
<line x1="424.05" y1="289.4" x2="424.05" y2="303.6" stroke="#c4cee1" stroke-width="1.6"/>
<line x1="427.42" y1="289.4" x2="427.42" y2="303.6" stroke="#c4cee1" stroke-width="1.6"/>
<line x1="430.79" y1="289.4" x2="430.79" y2="303.6" stroke="#c4cee1" stroke-width="1.6"/>
<line x1="434.16" y1="289.4" x2="434.16" y2="303.6" stroke="#c4cee1" stroke-width="1.6"/>
<line x1="437.53" y1="289.4" x2="437.53" y2="303.6" stroke="#c4cee1" stroke-width="1.6"/>
<line x1="440.9" y1="289.4" x2="440.9" y2="303.6" stroke="#c4cee1" stroke-width="1.6"/>
<line x1="444.27" y1="289.4" x2="444.27" y2="303.6" stroke="#c4cee1" stroke-width="1.6"/>
<line x1="447.64" y1="289.4" x2="447.64" y2="303.6" stroke="#c4cee1" stroke-width="1.6"/>
<line x1="451.01" y1="289.4" x2="451.01" y2="303.6" stroke="#c4cee1" stroke-width="1.6"/>
<line x1="454.38" y1="289.4" x2="454.38" y2="303.6" stroke="#c4cee1" stroke-width="1.6"/>
<line x1="457.75" y1="289.4" x2="457.75" y2="303.6" stroke="#c4cee1" stroke-width="1.6"/>
<line x1="461.12" y1="289.4" x2="461.12" y2="303.6" stroke="#c4cee1" stroke-width="1.6"/>
<line x1="464.49" y1="289.4" x2="464.49" y2="303.6" stroke="#c4cee1" stroke-width="1.6"/>
<line x1="467.86" y1="289.4" x2="467.86" y2="303.6" stroke="#c4cee1" stroke-width="1.6"/>
<line x1="471.23" y1="289.4" x2="471.23" y2="303.6" stroke="#c4cee1" stroke-width="1.6"/>
<line x1="474.6" y1="289.4" x2="474.6" y2="303.6" stroke="#c4cee1" stroke-width="1.6"/>
<line x1="477.97" y1="289.4" x2="477.97" y2="303.6" stroke="#c4cee1" stroke-width="1.6"/>
<line x1="481.34" y1="289.4" x2="481.34" y2="303.6" stroke="#c4cee1" stroke-width="1.6"/>
<line x1="484.71" y1="289.4" x2="484.71" y2="303.6" stroke="#c4cee1" stroke-width="1.6"/>
<line x1="488.08" y1="289.4" x2="488.08" y2="303.6" stroke="#c4cee1" stroke-width="1.6"/>
<line x1="491.45" y1="289.4" x2="491.45" y2="303.6" stroke="#c4cee1" stroke-width="1.6"/>
<line x1="238.1" y1="288.4" x2="493.1" y2="288.4" stroke="#7283a3" stroke-width="1.6" stroke-linecap="round"/>
<circle cx="238.7" cy="288.4" r="1.45" fill="#7283a3"/>
<circle cx="242.07" cy="288.4" r="1.45" fill="#7283a3"/>
<circle cx="245.44" cy="288.4" r="1.45" fill="#7283a3"/>
<circle cx="248.81" cy="288.4" r="1.45" fill="#7283a3"/>
<circle cx="252.18" cy="288.4" r="1.45" fill="#7283a3"/>
<circle cx="255.55" cy="288.4" r="1.45" fill="#7283a3"/>
<circle cx="258.92" cy="288.4" r="1.45" fill="#7283a3"/>
<circle cx="262.29" cy="288.4" r="1.45" fill="#7283a3"/>
<circle cx="265.66" cy="288.4" r="1.45" fill="#7283a3"/>
<circle cx="269.03" cy="288.4" r="1.45" fill="#7283a3"/>
<circle cx="272.4" cy="288.4" r="1.45" fill="#7283a3"/>
<circle cx="275.77" cy="288.4" r="1.45" fill="#7283a3"/>
<circle cx="279.14" cy="288.4" r="1.45" fill="#7283a3"/>
<circle cx="282.51" cy="288.4" r="1.45" fill="#7283a3"/>
<circle cx="285.88" cy="288.4" r="1.45" fill="#7283a3"/>
<circle cx="289.25" cy="288.4" r="1.45" fill="#7283a3"/>
<circle cx="292.62" cy="288.4" r="1.45" fill="#7283a3"/>
<circle cx="295.99" cy="288.4" r="1.45" fill="#7283a3"/>
<circle cx="299.36" cy="288.4" r="1.45" fill="#7283a3"/>
<circle cx="302.73" cy="288.4" r="1.45" fill="#7283a3"/>
<circle cx="306.1" cy="288.4" r="1.45" fill="#7283a3"/>
<circle cx="309.47" cy="288.4" r="1.45" fill="#7283a3"/>
<circle cx="312.84" cy="288.4" r="1.45" fill="#7283a3"/>
<circle cx="316.21" cy="288.4" r="1.45" fill="#7283a3"/>
<circle cx="319.58" cy="288.4" r="1.45" fill="#7283a3"/>
<circle cx="322.95" cy="288.4" r="1.45" fill="#7283a3"/>
<circle cx="326.32" cy="288.4" r="1.45" fill="#7283a3"/>
<circle cx="329.69" cy="288.4" r="1.45" fill="#7283a3"/>
<circle cx="333.06" cy="288.4" r="1.45" fill="#7283a3"/>
<circle cx="336.43" cy="288.4" r="1.45" fill="#7283a3"/>
<circle cx="339.8" cy="288.4" r="1.45" fill="#7283a3"/>
<circle cx="343.17" cy="288.4" r="1.45" fill="#7283a3"/>
<circle cx="346.54" cy="288.4" r="1.45" fill="#7283a3"/>
<circle cx="349.91" cy="288.4" r="1.45" fill="#7283a3"/>
<circle cx="353.28" cy="288.4" r="1.45" fill="#7283a3"/>
<circle cx="356.65" cy="288.4" r="1.45" fill="#7283a3"/>
<circle cx="360.02" cy="288.4" r="1.45" fill="#7283a3"/>
<circle cx="363.39" cy="288.4" r="1.45" fill="#7283a3"/>
<circle cx="366.76" cy="288.4" r="1.45" fill="#7283a3"/>
<circle cx="370.13" cy="288.4" r="1.45" fill="#7283a3"/>
<circle cx="373.5" cy="288.4" r="1.45" fill="#7283a3"/>
<circle cx="376.87" cy="288.4" r="1.45" fill="#7283a3"/>
<circle cx="380.24" cy="288.4" r="1.45" fill="#7283a3"/>
<circle cx="383.61" cy="288.4" r="1.45" fill="#7283a3"/>
<circle cx="386.98" cy="288.4" r="1.45" fill="#7283a3"/>
<circle cx="390.35" cy="288.4" r="1.45" fill="#7283a3"/>
<circle cx="393.72" cy="288.4" r="1.45" fill="#7283a3"/>
<circle cx="397.09" cy="288.4" r="1.45" fill="#7283a3"/>
<circle cx="400.46" cy="288.4" r="1.45" fill="#7283a3"/>
<circle cx="403.83" cy="288.4" r="1.45" fill="#7283a3"/>
<circle cx="407.2" cy="288.4" r="1.45" fill="#7283a3"/>
<circle cx="410.57" cy="288.4" r="1.45" fill="#7283a3"/>
<circle cx="413.94" cy="288.4" r="1.45" fill="#7283a3"/>
<circle cx="417.31" cy="288.4" r="1.45" fill="#7283a3"/>
<circle cx="420.68" cy="288.4" r="1.45" fill="#7283a3"/>
<circle cx="424.05" cy="288.4" r="1.45" fill="#7283a3"/>
<circle cx="427.42" cy="288.4" r="1.45" fill="#7283a3"/>
<circle cx="430.79" cy="288.4" r="1.45" fill="#7283a3"/>
<circle cx="434.16" cy="288.4" r="1.45" fill="#7283a3"/>
<circle cx="437.53" cy="288.4" r="1.45" fill="#7283a3"/>
<circle cx="440.9" cy="288.4" r="1.45" fill="#7283a3"/>
<circle cx="444.27" cy="288.4" r="1.45" fill="#7283a3"/>
<circle cx="447.64" cy="288.4" r="1.45" fill="#7283a3"/>
<circle cx="451.01" cy="288.4" r="1.45" fill="#7283a3"/>
<circle cx="454.38" cy="288.4" r="1.45" fill="#7283a3"/>
<circle cx="457.75" cy="288.4" r="1.45" fill="#7283a3"/>
<circle cx="461.12" cy="288.4" r="1.45" fill="#7283a3"/>
<circle cx="464.49" cy="288.4" r="1.45" fill="#7283a3"/>
<circle cx="467.86" cy="288.4" r="1.45" fill="#7283a3"/>
<circle cx="471.23" cy="288.4" r="1.45" fill="#7283a3"/>
<circle cx="474.6" cy="288.4" r="1.45" fill="#7283a3"/>
<circle cx="477.97" cy="288.4" r="1.45" fill="#7283a3"/>
<circle cx="481.34" cy="288.4" r="1.45" fill="#7283a3"/>
<circle cx="484.71" cy="288.4" r="1.45" fill="#7283a3"/>
<circle cx="488.08" cy="288.4" r="1.45" fill="#7283a3"/>
<circle cx="491.45" cy="288.4" r="1.45" fill="#7283a3"/>
<line x1="238.1" y1="304.6" x2="493.1" y2="304.6" stroke="#7283a3" stroke-width="1.6" stroke-linecap="round"/>
<circle cx="238.7" cy="304.6" r="1.45" fill="#7283a3"/>
<circle cx="242.07" cy="304.6" r="1.45" fill="#7283a3"/>
<circle cx="245.44" cy="304.6" r="1.45" fill="#7283a3"/>
<circle cx="248.81" cy="304.6" r="1.45" fill="#7283a3"/>
<circle cx="252.18" cy="304.6" r="1.45" fill="#7283a3"/>
<circle cx="255.55" cy="304.6" r="1.45" fill="#7283a3"/>
<circle cx="258.92" cy="304.6" r="1.45" fill="#7283a3"/>
<circle cx="262.29" cy="304.6" r="1.45" fill="#7283a3"/>
<circle cx="265.66" cy="304.6" r="1.45" fill="#7283a3"/>
<circle cx="269.03" cy="304.6" r="1.45" fill="#7283a3"/>
<circle cx="272.4" cy="304.6" r="1.45" fill="#7283a3"/>
<circle cx="275.77" cy="304.6" r="1.45" fill="#7283a3"/>
<circle cx="279.14" cy="304.6" r="1.45" fill="#7283a3"/>
<circle cx="282.51" cy="304.6" r="1.45" fill="#7283a3"/>
<circle cx="285.88" cy="304.6" r="1.45" fill="#7283a3"/>
<circle cx="289.25" cy="304.6" r="1.45" fill="#7283a3"/>
<circle cx="292.62" cy="304.6" r="1.45" fill="#7283a3"/>
<circle cx="295.99" cy="304.6" r="1.45" fill="#7283a3"/>
<circle cx="299.36" cy="304.6" r="1.45" fill="#7283a3"/>
<circle cx="302.73" cy="304.6" r="1.45" fill="#7283a3"/>
<circle cx="306.1" cy="304.6" r="1.45" fill="#7283a3"/>
<circle cx="309.47" cy="304.6" r="1.45" fill="#7283a3"/>
<circle cx="312.84" cy="304.6" r="1.45" fill="#7283a3"/>
<circle cx="316.21" cy="304.6" r="1.45" fill="#7283a3"/>
<circle cx="319.58" cy="304.6" r="1.45" fill="#7283a3"/>
<circle cx="322.95" cy="304.6" r="1.45" fill="#7283a3"/>
<circle cx="326.32" cy="304.6" r="1.45" fill="#7283a3"/>
<circle cx="329.69" cy="304.6" r="1.45" fill="#7283a3"/>
<circle cx="333.06" cy="304.6" r="1.45" fill="#7283a3"/>
<circle cx="336.43" cy="304.6" r="1.45" fill="#7283a3"/>
<circle cx="339.8" cy="304.6" r="1.45" fill="#7283a3"/>
<circle cx="343.17" cy="304.6" r="1.45" fill="#7283a3"/>
<circle cx="346.54" cy="304.6" r="1.45" fill="#7283a3"/>
<circle cx="349.91" cy="304.6" r="1.45" fill="#7283a3"/>
<circle cx="353.28" cy="304.6" r="1.45" fill="#7283a3"/>
<circle cx="356.65" cy="304.6" r="1.45" fill="#7283a3"/>
<circle cx="360.02" cy="304.6" r="1.45" fill="#7283a3"/>
<circle cx="363.39" cy="304.6" r="1.45" fill="#7283a3"/>
<circle cx="366.76" cy="304.6" r="1.45" fill="#7283a3"/>
<circle cx="370.13" cy="304.6" r="1.45" fill="#7283a3"/>
<circle cx="373.5" cy="304.6" r="1.45" fill="#7283a3"/>
<circle cx="376.87" cy="304.6" r="1.45" fill="#7283a3"/>
<circle cx="380.24" cy="304.6" r="1.45" fill="#7283a3"/>
<circle cx="383.61" cy="304.6" r="1.45" fill="#7283a3"/>
<circle cx="386.98" cy="304.6" r="1.45" fill="#7283a3"/>
<circle cx="390.35" cy="304.6" r="1.45" fill="#7283a3"/>
<circle cx="393.72" cy="304.6" r="1.45" fill="#7283a3"/>
<circle cx="397.09" cy="304.6" r="1.45" fill="#7283a3"/>
<circle cx="400.46" cy="304.6" r="1.45" fill="#7283a3"/>
<circle cx="403.83" cy="304.6" r="1.45" fill="#7283a3"/>
<circle cx="407.2" cy="304.6" r="1.45" fill="#7283a3"/>
<circle cx="410.57" cy="304.6" r="1.45" fill="#7283a3"/>
<circle cx="413.94" cy="304.6" r="1.45" fill="#7283a3"/>
<circle cx="417.31" cy="304.6" r="1.45" fill="#7283a3"/>
<circle cx="420.68" cy="304.6" r="1.45" fill="#7283a3"/>
<circle cx="424.05" cy="304.6" r="1.45" fill="#7283a3"/>
<circle cx="427.42" cy="304.6" r="1.45" fill="#7283a3"/>
<circle cx="430.79" cy="304.6" r="1.45" fill="#7283a3"/>
<circle cx="434.16" cy="304.6" r="1.45" fill="#7283a3"/>
<circle cx="437.53" cy="304.6" r="1.45" fill="#7283a3"/>
<circle cx="440.9" cy="304.6" r="1.45" fill="#7283a3"/>
<circle cx="444.27" cy="304.6" r="1.45" fill="#7283a3"/>
<circle cx="447.64" cy="304.6" r="1.45" fill="#7283a3"/>
<circle cx="451.01" cy="304.6" r="1.45" fill="#7283a3"/>
<circle cx="454.38" cy="304.6" r="1.45" fill="#7283a3"/>
<circle cx="457.75" cy="304.6" r="1.45" fill="#7283a3"/>
<circle cx="461.12" cy="304.6" r="1.45" fill="#7283a3"/>
<circle cx="464.49" cy="304.6" r="1.45" fill="#7283a3"/>
<circle cx="467.86" cy="304.6" r="1.45" fill="#7283a3"/>
<circle cx="471.23" cy="304.6" r="1.45" fill="#7283a3"/>
<circle cx="474.6" cy="304.6" r="1.45" fill="#7283a3"/>
<circle cx="477.97" cy="304.6" r="1.45" fill="#7283a3"/>
<circle cx="481.34" cy="304.6" r="1.45" fill="#7283a3"/>
<circle cx="484.71" cy="304.6" r="1.45" fill="#7283a3"/>
<circle cx="488.08" cy="304.6" r="1.45" fill="#7283a3"/>
<circle cx="491.45" cy="304.6" r="1.45" fill="#7283a3"/>
<rect x="321.9" y="283.5" width="2" height="8" fill="#a6e0ea"/>
<path d="M319.35,280.8 L322.15,280.8 L321.6,287.5 L319.9,287.5 Z" fill="#117d8c"/>
<rect x="319.9" y="287" width="1.7" height="17.2" fill="#1c98ae"/>
<path d="M323.65,280.8 L326.45,280.8 L325.9,287.5 L324.2,287.5 Z" fill="#117d8c"/>
<rect x="324.2" y="287" width="1.7" height="17.2" fill="#1c98ae"/>
<rect x="461.2" y="283.5" width="2" height="8" fill="#a6e0ea"/>
<path d="M458.65,280.8 L461.45,280.8 L460.9,287.5 L459.2,287.5 Z" fill="#117d8c"/>
<rect x="459.2" y="287" width="1.7" height="17.2" fill="#1c98ae"/>
<path d="M462.95,280.8 L465.75,280.8 L465.2,287.5 L463.5,287.5 Z" fill="#117d8c"/>
<rect x="463.5" y="287" width="1.7" height="17.2" fill="#1c98ae"/>
<text x="232.4" y="284.9" font-size="7.3" fill="#231f20" stroke="#231f20" stroke-width="0.22" textLength="50.6" lengthAdjust="spacingAndGlyphs">Cell membrane</text>
<text x="285" y="275.2" font-size="7.4" fill="#231f20" stroke="#231f20" stroke-width="0.22" textLength="73.5" lengthAdjust="spacingAndGlyphs">TCR-mediated signals</text>
<text x="421" y="276.6" font-size="7.4" fill="#231f20" stroke="#231f20" stroke-width="0.22" textLength="72.1" lengthAdjust="spacingAndGlyphs">TCR-mediated signals</text>
<rect x="255.8" y="296" width="25.2" height="10.8" fill="#f6cf67" stroke="#f9dd95" stroke-width="0.8" rx="5.4"/>
<rect x="257.2" y="287.4" width="23.4" height="8.9" fill="#2f9e3d" stroke="#56b55a" stroke-width="0.8" rx="4.45"/>
<text x="268.8" y="294.5" font-size="7.4" text-anchor="middle" fill="#0b1a0b" stroke="#0b1a0b" stroke-width="0.22">CD59</text>
<text x="268.4" y="303.4" font-size="7.4" text-anchor="middle" fill="#3a2a10" stroke="#3a2a10" stroke-width="0.22">Ras</text>
<rect x="385.3" y="298" width="8.3" height="9.2" fill="#f6cf67" stroke="#f9dd95" stroke-width="0.6" rx="4.6"/>
<ellipse cx="391.8" cy="292.4" rx="3.4" ry="4.8" fill="#2f9e3d"/>
<text x="385.7" y="294.2" font-size="7.3" fill="#111" stroke="#111" stroke-width="0.22" textLength="18.1" lengthAdjust="spacingAndGlyphs">CD59</text>
<text x="384" y="302.8" font-size="7.3" fill="#3a2a10" stroke="#3a2a10" stroke-width="0.22">Ras</text>
<rect x="297.4" y="305.6" width="55.9" height="29.8" fill="#eef5fa" stroke="#8d99a6" stroke-width="0.7"/>
<text x="325.3" y="316.3" font-size="7.5" text-anchor="middle" fill="#231f20" stroke="#231f20" stroke-width="0.22" textLength="52" lengthAdjust="spacingAndGlyphs">ITAM/ZAp70 etc</text>
<text x="325.3" y="323" font-size="7.5" text-anchor="middle" fill="#231f20" stroke="#231f20" stroke-width="0.22" textLength="45" lengthAdjust="spacingAndGlyphs">TCR proximal</text>
<text x="325.3" y="329.2" font-size="7.5" text-anchor="middle" fill="#231f20" stroke="#231f20" stroke-width="0.22" textLength="41" lengthAdjust="spacingAndGlyphs">signalosome</text>
<rect x="432.2" y="305.6" width="54.6" height="29.8" fill="#eef5fa" stroke="#8d99a6" stroke-width="0.7"/>
<text x="459.5" y="316.3" font-size="7.5" text-anchor="middle" fill="#231f20" stroke="#231f20" stroke-width="0.22" textLength="52" lengthAdjust="spacingAndGlyphs">ITAM/ZAp70 etc</text>
<text x="459.5" y="323" font-size="7.5" text-anchor="middle" fill="#231f20" stroke="#231f20" stroke-width="0.22" textLength="45" lengthAdjust="spacingAndGlyphs">TCR proximal</text>
<text x="459.5" y="329.2" font-size="7.5" text-anchor="middle" fill="#231f20" stroke="#231f20" stroke-width="0.22" textLength="41" lengthAdjust="spacingAndGlyphs">signalosome</text>
<rect x="361.5" y="266.8" width="1.6" height="1.6" fill="#222"/>
<rect x="361.5" y="270.2" width="1.6" height="1.6" fill="#222"/>
<rect x="361.5" y="273.6" width="1.6" height="1.6" fill="#222"/>
<rect x="361.5" y="277" width="1.6" height="1.6" fill="#222"/>
<rect x="361.5" y="280.4" width="1.6" height="1.6" fill="#222"/>
<rect x="361.5" y="283.8" width="1.6" height="1.6" fill="#222"/>
<rect x="361.5" y="287.2" width="1.6" height="1.6" fill="#222"/>
<rect x="361.5" y="290.6" width="1.6" height="1.6" fill="#222"/>
<rect x="361.5" y="294" width="1.6" height="1.6" fill="#222"/>
<rect x="361.5" y="297.4" width="1.6" height="1.6" fill="#222"/>
<rect x="361.5" y="300.8" width="1.6" height="1.6" fill="#222"/>
<rect x="361.5" y="304.2" width="1.6" height="1.6" fill="#222"/>
<rect x="361.5" y="307.6" width="1.6" height="1.6" fill="#222"/>
<rect x="361.5" y="311" width="1.6" height="1.6" fill="#222"/>
<rect x="361.5" y="314.4" width="1.6" height="1.6" fill="#222"/>
<rect x="361.5" y="317.8" width="1.6" height="1.6" fill="#222"/>
<rect x="361.5" y="321.2" width="1.6" height="1.6" fill="#222"/>
<rect x="361.5" y="324.6" width="1.6" height="1.6" fill="#222"/>
<rect x="361.5" y="328" width="1.6" height="1.6" fill="#222"/>
<rect x="361.5" y="331.4" width="1.6" height="1.6" fill="#222"/>
<rect x="361.5" y="334.8" width="1.6" height="1.6" fill="#222"/>
<rect x="361.5" y="338.2" width="1.6" height="1.6" fill="#222"/>
<rect x="361.5" y="341.6" width="1.6" height="1.6" fill="#222"/>
<rect x="361.5" y="345" width="1.6" height="1.6" fill="#222"/>
<rect x="361.5" y="348.4" width="1.6" height="1.6" fill="#222"/>
<rect x="361.5" y="351.8" width="1.6" height="1.6" fill="#222"/>
<rect x="361.5" y="355.2" width="1.6" height="1.6" fill="#222"/>
<rect x="361.5" y="358.6" width="1.6" height="1.6" fill="#222"/>
<rect x="361.5" y="362" width="1.6" height="1.6" fill="#222"/>
<rect x="361.5" y="365.4" width="1.6" height="1.6" fill="#222"/>
<rect x="361.5" y="368.8" width="1.6" height="1.6" fill="#222"/>
<rect x="361.5" y="372.2" width="1.6" height="1.6" fill="#222"/>
<rect x="361.5" y="375.6" width="1.6" height="1.6" fill="#222"/>
<rect x="361.5" y="379" width="1.6" height="1.6" fill="#222"/>
<rect x="361.5" y="382.4" width="1.6" height="1.6" fill="#222"/>
<rect x="361.5" y="385.8" width="1.6" height="1.6" fill="#222"/>
<rect x="361.5" y="389.2" width="1.6" height="1.6" fill="#222"/>
<rect x="361.5" y="392.6" width="1.6" height="1.6" fill="#222"/>
<rect x="361.5" y="396" width="1.6" height="1.6" fill="#222"/>
<rect x="361.5" y="399.4" width="1.6" height="1.6" fill="#222"/>
<rect x="361.5" y="402.8" width="1.6" height="1.6" fill="#222"/>
<rect x="361.5" y="406.2" width="1.6" height="1.6" fill="#222"/>
<rect x="361.5" y="409.6" width="1.6" height="1.6" fill="#222"/>
<rect x="361.5" y="413" width="1.6" height="1.6" fill="#222"/>
<rect x="361.5" y="416.4" width="1.6" height="1.6" fill="#222"/>
<rect x="361.5" y="419.8" width="1.6" height="1.6" fill="#222"/>
<rect x="361.5" y="423.2" width="1.6" height="1.6" fill="#222"/>
<rect x="361.5" y="426.6" width="1.6" height="1.6" fill="#222"/>
<rect x="361.5" y="430" width="1.6" height="1.6" fill="#222"/>
<rect x="361.5" y="433.4" width="1.6" height="1.6" fill="#222"/>
<rect x="361.5" y="436.8" width="1.6" height="1.6" fill="#222"/>
<rect x="361.5" y="440.2" width="1.6" height="1.6" fill="#222"/>
<rect x="361.5" y="443.6" width="1.6" height="1.6" fill="#222"/>
<rect x="361.5" y="447" width="1.6" height="1.6" fill="#222"/>
<rect x="361.5" y="450.4" width="1.6" height="1.6" fill="#222"/>
<rect x="361.5" y="453.8" width="1.6" height="1.6" fill="#222"/>
<rect x="361.5" y="457.2" width="1.6" height="1.6" fill="#222"/>
<rect x="361.5" y="460.6" width="1.6" height="1.6" fill="#222"/>
<rect x="361.5" y="464" width="1.6" height="1.6" fill="#222"/>
<rect x="361.5" y="467.4" width="1.6" height="1.6" fill="#222"/>
<rect x="361.5" y="470.8" width="1.6" height="1.6" fill="#222"/>
<rect x="361.5" y="474.2" width="1.6" height="1.6" fill="#222"/>
<rect x="361.5" y="477.6" width="1.6" height="1.6" fill="#222"/>
<rect x="361.5" y="481" width="1.6" height="1.6" fill="#222"/>
<rect x="361.5" y="484.4" width="1.6" height="1.6" fill="#222"/>
<rect x="361.5" y="487.8" width="1.6" height="1.6" fill="#222"/>
<rect x="361.5" y="491.2" width="1.6" height="1.6" fill="#222"/>
<circle cx="283.6" cy="328" r="6.5" fill="#3b8fd8" stroke="#2a5f9a" stroke-width="0.6"/>
<path d="M284.1,322.7 Q289.3,323 288.9,328.5 L284.4,327.5 Z" fill="#5cbf74"/>
<ellipse cx="283.9" cy="331.57" rx="2.27" ry="1.43" fill="#e8914e"/>
<path d="M278.4,327 L282.6,324.1 L283.1,327.2 Z" fill="#1d4f95"/>
<circle cx="410.1" cy="327.6" r="6.9" fill="#3b8fd8" stroke="#2a5f9a" stroke-width="0.6"/>
<path d="M410.6,321.9 Q416.2,322.2 415.8,328.1 L410.9,327.1 Z" fill="#5cbf74"/>
<ellipse cx="410.4" cy="331.4" rx="2.42" ry="1.52" fill="#e8914e"/>
<path d="M404.5,326.6 L409.1,323.46 L409.6,326.8 Z" fill="#1d4f95"/>
<path d="M295.8,314.2 L281.0,309.8" fill="none" stroke="#222" stroke-width="0.8" stroke-dasharray="1.8 1.4" marker-end="url(#ah)"/>
<path d="M277.2,325.5 Q271.5,321.5 271.3,313.3" fill="none" stroke="#111" stroke-width="1.4" marker-end="url(#ahb)"/>
<path d="M297.2,356.2 Q289.6,350.5 287.9,339.0" fill="none" stroke="#111" stroke-width="1.4" marker-end="url(#ahb)"/>
<line x1="261.4" y1="308.5" x2="261.4" y2="356" stroke="#333" stroke-width="0.6" marker-end="url(#ah)"/>
<text x="244.8" y="334.3" font-size="7.3" text-anchor="middle" fill="#231f20" stroke="#231f20" stroke-width="0.22">Rapid &amp;</text>
<text x="245" y="341.8" font-size="7.3" text-anchor="middle" fill="#231f20" stroke="#231f20" stroke-width="0.22">Transient</text>
<text x="242.3" y="392" font-size="7.3" text-anchor="middle" fill="#231f20" stroke="#231f20" stroke-width="0.22" textLength="68" lengthAdjust="spacingAndGlyphs" transform="rotate(-90 242.3 392)">MAP kinase pathway</text>
<path d="M404.0,320.4 Q397.5,317.5 394.5,310.5" fill="none" stroke="#333" stroke-width="0.7" marker-end="url(#ah)"/>
<path d="M434.5,361.0 Q418.0,356.5 412.5,336.5" fill="none" stroke="#333" stroke-width="0.7" marker-end="url(#ah)"/>
<path d="M460.3,336.0 L460.3,355.0" fill="none" stroke="#222" stroke-width="0.8" stroke-dasharray="1.8 1.4" marker-end="url(#ah)"/>
<line x1="388.2" y1="309" x2="388.2" y2="355" stroke="#666" stroke-width="0.8" marker-end="url(#ah)"/>
<line x1="428.9" y1="363.8" x2="402.5" y2="363.8" stroke="#111" stroke-width="1.6" marker-end="url(#ahbig)"/>
<text x="415.8" y="375.3" font-size="7.3" text-anchor="middle" fill="#231f20" stroke="#231f20" stroke-width="0.22" textLength="34" lengthAdjust="spacingAndGlyphs">Delayed &amp;</text>
<text x="415.6" y="383.6" font-size="7.3" text-anchor="middle" fill="#231f20" stroke="#231f20" stroke-width="0.22" textLength="34" lengthAdjust="spacingAndGlyphs">Persistent</text>
<rect x="252" y="359.55" width="19" height="9.9" fill="#1e6db8" rx="4.95"/>
<text x="261.5" y="367.1" font-size="7.2" text-anchor="middle" fill="#fff" stroke="#fff" stroke-width="0.22">Raf</text>
<rect x="252" y="382.75" width="18.8" height="9.9" fill="#169c94" rx="4.95"/>
<text x="261.4" y="390.3" font-size="7.2" text-anchor="middle" fill="#fff" stroke="#fff" stroke-width="0.22">MEK</text>
<rect x="246.5" y="405.7" width="30" height="15.8" fill="#3cb44b" rx="7.9"/>
<text x="261.5" y="412.8" font-size="7.2" text-anchor="middle" fill="#fff" stroke="#fff" stroke-width="0.22">MAP</text>
<text x="261.5" y="419.2" font-size="7.2" text-anchor="middle" fill="#fff" stroke="#fff" stroke-width="0.22">kinase</text>
<line x1="261.3" y1="370" x2="261.3" y2="380.2" stroke="#333" stroke-width="0.6" marker-end="url(#ah)"/>
<line x1="261.3" y1="393" x2="261.3" y2="403.6" stroke="#333" stroke-width="0.6" marker-end="url(#ah)"/>
<line x1="259.5" y1="421.5" x2="259.5" y2="467" stroke="#333" stroke-width="0.6" marker-end="url(#ah)"/>
<rect x="378.4" y="358.9" width="18" height="9.4" fill="#1e6db8" rx="4.7"/>
<text x="387.4" y="366.2" font-size="7.2" text-anchor="middle" fill="#fff" stroke="#fff" stroke-width="0.22">Raf</text>
<rect x="378.8" y="383.1" width="18" height="9.4" fill="#169c94" rx="4.7"/>
<text x="387.8" y="390.4" font-size="7.2" text-anchor="middle" fill="#fff" stroke="#fff" stroke-width="0.22">MEK</text>
<rect x="372.8" y="405.6" width="30" height="16.4" fill="#3cb44b" rx="8.2"/>
<text x="387.8" y="413" font-size="7.2" text-anchor="middle" fill="#fff" stroke="#fff" stroke-width="0.22">MAP</text>
<text x="387.8" y="419.4" font-size="7.2" text-anchor="middle" fill="#fff" stroke="#fff" stroke-width="0.22">kinase</text>
<line x1="388.2" y1="369" x2="388.2" y2="380" stroke="#111" stroke-width="1.5" marker-end="url(#ahbig)"/>
<line x1="388.2" y1="393" x2="388.2" y2="404" stroke="#111" stroke-width="1.5" marker-end="url(#ahbig)"/>
<line x1="387.4" y1="422" x2="387.4" y2="462.5" stroke="#111" stroke-width="1.5" marker-end="url(#ahbig)"/>
<path d="M288.7,370.3 Q306,373.5 323.3,370.3" fill="none" stroke="#3f6684" stroke-width="3.7" stroke-linecap="round"/>
<path d="M288.7,370.3 Q306,373.5 323.3,370.3" fill="none" stroke="#5b7a9a" stroke-width="2.3" stroke-linecap="round"/>
<path d="M284.8,375 Q305.5,380.2 326.2,375" fill="none" stroke="#3f6684" stroke-width="4.1" stroke-linecap="round"/>
<path d="M284.8,375 Q305.5,380.2 326.2,375" fill="none" stroke="#3d93cc" stroke-width="2.7" stroke-linecap="round"/>
<path d="M288.7,385.6 Q305,378 321.3,385.6" fill="none" stroke="#3f6684" stroke-width="4.1" stroke-linecap="round"/>
<path d="M288.7,385.6 Q305,378 321.3,385.6" fill="none" stroke="#3d93cc" stroke-width="2.7" stroke-linecap="round"/>
<path d="M295.4,388.8 Q306.45,384.8 317.5,388.8" fill="none" stroke="#3f6684" stroke-width="3.4" stroke-linecap="round"/>
<path d="M295.4,388.8 Q306.45,384.8 317.5,388.8" fill="none" stroke="#5b7a9a" stroke-width="2" stroke-linecap="round"/>
<path d="M439.2,370.3 Q456.5,373.5 473.8,370.3" fill="none" stroke="#3f6684" stroke-width="3.7" stroke-linecap="round"/>
<path d="M439.2,370.3 Q456.5,373.5 473.8,370.3" fill="none" stroke="#5b7a9a" stroke-width="2.3" stroke-linecap="round"/>
<path d="M435.3,375 Q456,380.2 476.7,375" fill="none" stroke="#3f6684" stroke-width="4.1" stroke-linecap="round"/>
<path d="M435.3,375 Q456,380.2 476.7,375" fill="none" stroke="#3d93cc" stroke-width="2.7" stroke-linecap="round"/>
<path d="M439.2,385.6 Q455.5,378 471.8,385.6" fill="none" stroke="#3f6684" stroke-width="4.1" stroke-linecap="round"/>
<path d="M439.2,385.6 Q455.5,378 471.8,385.6" fill="none" stroke="#3d93cc" stroke-width="2.7" stroke-linecap="round"/>
<path d="M445.9,388.8 Q456.95,384.8 468,388.8" fill="none" stroke="#3f6684" stroke-width="3.4" stroke-linecap="round"/>
<path d="M445.9,388.8 Q456.95,384.8 468,388.8" fill="none" stroke="#5b7a9a" stroke-width="2" stroke-linecap="round"/>
<rect x="279.7" y="358" width="21.6" height="10.4" fill="#f6d06c" stroke="#f9df9a" stroke-width="0.8" rx="5.2"/>
<rect x="303" y="359" width="22.8" height="10.3" fill="#2f9e3d" stroke="#52b45a" stroke-width="0.8" rx="5.15"/>
<text x="290.6" y="365.8" font-size="7.4" text-anchor="middle" fill="#3a2a10" stroke="#3a2a10" stroke-width="0.22">Ras</text>
<text x="314.3" y="366.8" font-size="7.4" text-anchor="middle" fill="#0b1a0b" stroke="#0b1a0b" stroke-width="0.22">CD59</text>
<rect x="446.6" y="357.8" width="23.8" height="10.8" fill="#f6d06c" stroke="#f9df9a" stroke-width="0.8" rx="5.4"/>
<ellipse cx="473.2" cy="364.4" rx="3.2" ry="5.9" fill="#2f9e3d"/>
<text x="457.6" y="365.4" font-size="7.4" text-anchor="middle" fill="#3a2a10" stroke="#3a2a10" stroke-width="0.22">Ras</text>
<text x="471.3" y="367.2" font-size="7.4" fill="#111" stroke="#111" stroke-width="0.22" textLength="17.7" lengthAdjust="spacingAndGlyphs">CD59</text>
<text x="324.3" y="384" font-size="7.5" fill="#4a4a4a" stroke="#4a4a4a" stroke-width="0.22">Golgi</text>
<text x="476.2" y="384" font-size="7.5" fill="#4a4a4a" stroke="#4a4a4a" stroke-width="0.22">Golgi</text>
<circle cx="303" cy="409.1" r="2.1" fill="#8f8f8f" stroke="#555" stroke-width="0.45"/>
<circle cx="311.9" cy="410.8" r="1.4" fill="#7f95ad" stroke="#4a6a8a" stroke-width="0.4"/>
<circle cx="321.3" cy="410.2" r="2.3" fill="#c48a5c" stroke="#7a5a40" stroke-width="0.45"/>
<circle cx="329.4" cy="410.8" r="2.1" fill="#4a96d0" stroke="#2a5f9a" stroke-width="0.45"/>
<circle cx="337.4" cy="409.9" r="1.6" fill="#8a9cb0" stroke="#556677" stroke-width="0.4"/>
<path d="M305,422.1 Q319,402.1 345,430.1" fill="none" stroke="#3c6f8c" stroke-width="2.6" stroke-linecap="round"/>
<path d="M305,422.1 Q319,402.1 345,430.1" fill="none" stroke="#4aa0cc" stroke-width="1.2" stroke-linecap="round"/>
<path d="M307,425.6 Q321.5,407.6 342,431.6" fill="none" stroke="#3c6f8c" stroke-width="2.6" stroke-linecap="round"/>
<path d="M307,425.6 Q321.5,407.6 342,431.6" fill="none" stroke="#5a8fb0" stroke-width="1.2" stroke-linecap="round"/>
<path d="M310,430.1 Q323.5,413.85 339,432.6" fill="none" stroke="#3c6f8c" stroke-width="2.6" stroke-linecap="round"/>
<path d="M310,430.1 Q323.5,413.85 339,432.6" fill="none" stroke="#4aa0cc" stroke-width="1.2" stroke-linecap="round"/>
<path d="M315,432.6 Q325,422.6 335,432.6" fill="none" stroke="#3c6f8c" stroke-width="2.6" stroke-linecap="round"/>
<path d="M315,432.6 Q325,422.6 335,432.6" fill="none" stroke="#5a8fb0" stroke-width="1.2" stroke-linecap="round"/>
<path d="M312,420.1 L318,421.6" fill="none" stroke="#3c6f8c" stroke-width="1.5" stroke-linecap="round"/>
<path d="M316,423.6 L322,425.1" fill="none" stroke="#3c6f8c" stroke-width="1.5" stroke-linecap="round"/>
<path d="M322,413.1 L323,417.6" fill="none" stroke="#3c6f8c" stroke-width="1.5" stroke-linecap="round"/>
<circle cx="445.7" cy="409.1" r="2.1" fill="#8f8f8f" stroke="#555" stroke-width="0.45"/>
<circle cx="454.6" cy="410.8" r="1.4" fill="#7f95ad" stroke="#4a6a8a" stroke-width="0.4"/>
<circle cx="464" cy="410.2" r="2.3" fill="#c48a5c" stroke="#7a5a40" stroke-width="0.45"/>
<circle cx="472.1" cy="410.8" r="2.1" fill="#4a96d0" stroke="#2a5f9a" stroke-width="0.45"/>
<circle cx="480.1" cy="409.9" r="1.6" fill="#8a9cb0" stroke="#556677" stroke-width="0.4"/>
<path d="M447.7,422.1 Q461.7,402.1 487.7,430.1" fill="none" stroke="#3c6f8c" stroke-width="2.6" stroke-linecap="round"/>
<path d="M447.7,422.1 Q461.7,402.1 487.7,430.1" fill="none" stroke="#4aa0cc" stroke-width="1.2" stroke-linecap="round"/>
<path d="M449.7,425.6 Q464.2,407.6 484.7,431.6" fill="none" stroke="#3c6f8c" stroke-width="2.6" stroke-linecap="round"/>
<path d="M449.7,425.6 Q464.2,407.6 484.7,431.6" fill="none" stroke="#5a8fb0" stroke-width="1.2" stroke-linecap="round"/>
<path d="M452.7,430.1 Q466.2,413.85 481.7,432.6" fill="none" stroke="#3c6f8c" stroke-width="2.6" stroke-linecap="round"/>
<path d="M452.7,430.1 Q466.2,413.85 481.7,432.6" fill="none" stroke="#4aa0cc" stroke-width="1.2" stroke-linecap="round"/>
<path d="M457.7,432.6 Q467.7,422.6 477.7,432.6" fill="none" stroke="#3c6f8c" stroke-width="2.6" stroke-linecap="round"/>
<path d="M457.7,432.6 Q467.7,422.6 477.7,432.6" fill="none" stroke="#5a8fb0" stroke-width="1.2" stroke-linecap="round"/>
<path d="M454.7,420.1 L460.7,421.6" fill="none" stroke="#3c6f8c" stroke-width="1.5" stroke-linecap="round"/>
<path d="M458.7,423.6 L464.7,425.1" fill="none" stroke="#3c6f8c" stroke-width="1.5" stroke-linecap="round"/>
<path d="M464.7,413.1 L465.7,417.6" fill="none" stroke="#3c6f8c" stroke-width="1.5" stroke-linecap="round"/>
<circle cx="294.4" cy="393.5" r="2.4" fill="#62b9a2" stroke="#3a7a6a" stroke-width="0.5"/>
<circle cx="316.9" cy="392.3" r="1.6" fill="#6a8fb0" stroke="#3f5f80" stroke-width="0.4"/>
<circle cx="444.7" cy="393" r="2.4" fill="#62b9a2" stroke="#3a7a6a" stroke-width="0.5"/>
<circle cx="467.3" cy="392" r="1.6" fill="#6a8fb0" stroke="#3f5f80" stroke-width="0.4"/>
<path d="M299.8,412.4 Q294.6,409.0 295.0,401.8" fill="none" stroke="#222" stroke-width="0.7" marker-end="url(#ah)"/>
<path d="M441.8,412.4 Q436.6,409.0 437.0,401.8" fill="none" stroke="#222" stroke-width="0.7" marker-end="url(#ah)"/>
<text x="340" y="439.8" font-size="7.5" fill="#333" stroke="#333" stroke-width="0.22">ER</text>
<text x="486" y="439.8" font-size="7.5" fill="#333" stroke="#333" stroke-width="0.22">ER</text>
<path d="M225.2,465.44 A96,96 0 0,1 364,467.74" fill="none" stroke="#6d737b" stroke-width="2"/>
<path d="M225.2,469.49 A93.2,93.2 0 0,1 364,471.94" fill="none" stroke="#8e949b" stroke-width="2.2"/>
<path d="M225.2,467.37 A94.65,94.65 0 0,1 364,469.75" fill="none" stroke="#d2d6db" stroke-width="1.1"/>
<path d="M361.5,462.24 A120.7,120.7 0 0,1 500.5,462.8" fill="none" stroke="#6d737b" stroke-width="2"/>
<path d="M361.5,465.67 A117.9,117.9 0 0,1 500.5,466.26" fill="none" stroke="#8e949b" stroke-width="2.2"/>
<path d="M361.5,463.89 A119.35,119.35 0 0,1 500.5,464.46" fill="none" stroke="#d2d6db" stroke-width="1.1"/>
<text x="292.8" y="452.9" font-size="7.3" text-anchor="middle" fill="#222" stroke="#222" stroke-width="0.22">Nucleus</text>
<text x="441" y="452.4" font-size="7.3" text-anchor="middle" fill="#222" stroke="#222" stroke-width="0.22">Nucleus</text>
<path d="M230,476.3 L230.35,477.02 L230.7,477.69 L231.05,478.25 L231.4,478.68 L231.75,478.93 L232.1,479 L232.45,478.86 L232.8,478.55 L233.15,478.07 L233.5,477.46 L233.85,476.77 L234.2,476.04 L234.55,475.33 L234.9,474.7 L235.25,474.18 L235.6,473.81 L235.95,473.62 L236.3,473.63 L236.65,473.83 L237,474.21 L237.35,474.74 L237.7,475.38 L238.05,476.09 L238.4,476.82 L238.75,477.5 L239.1,478.11 L239.45,478.58 L239.8,478.88 L240.15,479 L240.5,478.92 L240.85,478.66 L241.2,478.22 L241.55,477.64 L241.9,476.97 L242.25,476.25 L242.6,475.53 L242.95,474.87 L243.3,474.31 L243.65,473.9 L244,473.66 L244.35,473.61 L244.7,473.75 L245.05,474.08 L245.4,474.57 L245.75,475.19 L246.1,475.89 L246.45,476.61 L246.8,477.32 L247.15,477.95 L247.5,478.46 L247.85,478.81 L248.2,478.98 L248.55,478.96 L248.9,478.75 L249.25,478.36 L249.6,477.82 L249.95,477.17 L250.3,476.46 L250.65,475.73 L251,475.05 L251.35,474.46 L251.7,474 L252.05,473.7 L252.4,473.6 L252.75,473.69 L253.1,473.97 L253.45,474.42 L253.8,475 L254.15,475.68 L254.5,476.4 L254.85,477.12 L255.2,477.78 L255.55,478.32 L255.9,478.73 L256.25,478.95 L256.6,478.99 L256.95,478.83 L257.3,478.49 L257.65,477.99 L258,477.36 L258.35,476.66 L258.7,475.94 L259.05,475.24 L259.4,474.61 L259.75,474.11 L260.1,473.77 L260.45,473.61 L260.8,473.65 L261.15,473.87 L261.5,474.28 L261.85,474.82 L262.2,475.48 L262.55,476.2 L262.9,476.92 L263.25,477.6 L263.6,478.18 L263.95,478.63 L264.3,478.91 L264.65,479 L265,478.9 L265.35,478.6 L265.7,478.14 L266.05,477.55 L266.4,476.87 L266.75,476.14 L267.1,475.43 L267.45,474.78 L267.8,474.24 L268.15,473.85 L268.5,473.64 L268.85,473.62 L269.2,473.79 L269.55,474.14 L269.9,474.65 L270.25,475.28 L270.6,475.99 L270.95,476.71 L271.3,477.41 L271.65,478.03 L272,478.52 L272.35,478.85 L272.7,478.99 L273.05,478.94 L273.4,478.7 L273.75,478.29 L274.1,477.73 L274.45,477.07 L274.8,476.35 L275.15,475.63 L275.5,474.96 L275.85,474.38 L276.2,473.94 L276.55,473.68 L276.9,473.6 L277.25,473.72 L277.6,474.02 L277.95,474.49 L278.3,475.1 L278.65,475.78 L279,476.51 L279.35,477.22 L279.7,477.86 L280.05,478.39 L280.4,478.77 L280.75,478.97 L281.1,478.98 L281.45,478.79 L281.8,478.42 L282.15,477.9" fill="none" stroke="#3565a6" stroke-width="0.95"/>
<path d="M230,476.3 L230.35,475.58 L230.7,474.91 L231.05,474.35 L231.4,473.92 L231.75,473.67 L232.1,473.6 L232.45,473.74 L232.8,474.05 L233.15,474.53 L233.5,475.14 L233.85,475.83 L234.2,476.56 L234.55,477.27 L234.9,477.9 L235.25,478.42 L235.6,478.79 L235.95,478.98 L236.3,478.97 L236.65,478.77 L237,478.39 L237.35,477.86 L237.7,477.22 L238.05,476.51 L238.4,475.78 L238.75,475.1 L239.1,474.49 L239.45,474.02 L239.8,473.72 L240.15,473.6 L240.5,473.68 L240.85,473.94 L241.2,474.38 L241.55,474.96 L241.9,475.63 L242.25,476.35 L242.6,477.07 L242.95,477.73 L243.3,478.29 L243.65,478.7 L244,478.94 L244.35,478.99 L244.7,478.85 L245.05,478.52 L245.4,478.03 L245.75,477.41 L246.1,476.71 L246.45,475.99 L246.8,475.28 L247.15,474.65 L247.5,474.14 L247.85,473.79 L248.2,473.62 L248.55,473.64 L248.9,473.85 L249.25,474.24 L249.6,474.78 L249.95,475.43 L250.3,476.14 L250.65,476.87 L251,477.55 L251.35,478.14 L251.7,478.6 L252.05,478.9 L252.4,479 L252.75,478.91 L253.1,478.63 L253.45,478.18 L253.8,477.6 L254.15,476.92 L254.5,476.2 L254.85,475.48 L255.2,474.82 L255.55,474.28 L255.9,473.87 L256.25,473.65 L256.6,473.61 L256.95,473.77 L257.3,474.11 L257.65,474.61 L258,475.24 L258.35,475.94 L258.7,476.66 L259.05,477.36 L259.4,477.99 L259.75,478.49 L260.1,478.83 L260.45,478.99 L260.8,478.95 L261.15,478.73 L261.5,478.32 L261.85,477.78 L262.2,477.12 L262.55,476.4 L262.9,475.68 L263.25,475 L263.6,474.42 L263.95,473.97 L264.3,473.69 L264.65,473.6 L265,473.7 L265.35,474 L265.7,474.46 L266.05,475.05 L266.4,475.73 L266.75,476.46 L267.1,477.17 L267.45,477.82 L267.8,478.36 L268.15,478.75 L268.5,478.96 L268.85,478.98 L269.2,478.81 L269.55,478.46 L269.9,477.95 L270.25,477.32 L270.6,476.61 L270.95,475.89 L271.3,475.19 L271.65,474.57 L272,474.08 L272.35,473.75 L272.7,473.61 L273.05,473.66 L273.4,473.9 L273.75,474.31 L274.1,474.87 L274.45,475.53 L274.8,476.25 L275.15,476.97 L275.5,477.64 L275.85,478.22 L276.2,478.66 L276.55,478.92 L276.9,479 L277.25,478.88 L277.6,478.58 L277.95,478.11 L278.3,477.5 L278.65,476.82 L279,476.09 L279.35,475.38 L279.7,474.74 L280.05,474.21 L280.4,473.83 L280.75,473.63 L281.1,473.62 L281.45,473.81 L281.8,474.18 L282.15,474.7" fill="none" stroke="#3565a6" stroke-width="0.95"/>
<path d="M368,475.2 L368.35,475.92 L368.7,476.59 L369.05,477.15 L369.4,477.58 L369.75,477.83 L370.1,477.9 L370.45,477.76 L370.8,477.45 L371.15,476.97 L371.5,476.36 L371.85,475.67 L372.2,474.94 L372.55,474.23 L372.9,473.6 L373.25,473.08 L373.6,472.71 L373.95,472.52 L374.3,472.53 L374.65,472.73 L375,473.11 L375.35,473.64 L375.7,474.28 L376.05,474.99 L376.4,475.72 L376.75,476.4 L377.1,477.01 L377.45,477.48 L377.8,477.78 L378.15,477.9 L378.5,477.82 L378.85,477.56 L379.2,477.12 L379.55,476.54 L379.9,475.87 L380.25,475.15 L380.6,474.43 L380.95,473.77 L381.3,473.21 L381.65,472.8 L382,472.56 L382.35,472.51 L382.7,472.65 L383.05,472.98 L383.4,473.47 L383.75,474.09 L384.1,474.79 L384.45,475.51 L384.8,476.22 L385.15,476.85 L385.5,477.36 L385.85,477.71 L386.2,477.88 L386.55,477.86 L386.9,477.65 L387.25,477.26 L387.6,476.72 L387.95,476.07 L388.3,475.36 L388.65,474.63 L389,473.95 L389.35,473.36 L389.7,472.9 L390.05,472.6 L390.4,472.5 L390.75,472.59 L391.1,472.87 L391.45,473.32 L391.8,473.9 L392.15,474.58 L392.5,475.3 L392.85,476.02 L393.2,476.68 L393.55,477.22 L393.9,477.63 L394.25,477.85 L394.6,477.89 L394.95,477.73 L395.3,477.39 L395.65,476.89 L396,476.26 L396.35,475.56 L396.7,474.84 L397.05,474.14 L397.4,473.51 L397.75,473.01 L398.1,472.67 L398.45,472.51 L398.8,472.55 L399.15,472.77 L399.5,473.18 L399.85,473.72 L400.2,474.38 L400.55,475.1 L400.9,475.82 L401.25,476.5 L401.6,477.08 L401.95,477.53 L402.3,477.81 L402.65,477.9 L403,477.8 L403.35,477.5 L403.7,477.04 L404.05,476.45 L404.4,475.77 L404.75,475.04 L405.1,474.33 L405.45,473.68 L405.8,473.14 L406.15,472.75 L406.5,472.54 L406.85,472.52 L407.2,472.69 L407.55,473.04 L407.9,473.55 L408.25,474.18 L408.6,474.89 L408.95,475.61 L409.3,476.31 L409.65,476.93 L410,477.42 L410.35,477.75 L410.7,477.89 L411.05,477.84 L411.4,477.6 L411.75,477.19 L412.1,476.63 L412.45,475.97 L412.8,475.25 L413.15,474.53 L413.5,473.86 L413.85,473.28 L414.2,472.84 L414.55,472.58 L414.9,472.5 L415.25,472.62 L415.6,472.92 L415.95,473.39 L416.3,474 L416.65,474.68 L417,475.41 L417.35,476.12 L417.7,476.76 L418.05,477.29 L418.4,477.67 L418.75,477.87 L419.1,477.88 L419.45,477.69 L419.8,477.32" fill="none" stroke="#3565a6" stroke-width="0.95"/>
<path d="M368,475.2 L368.35,474.48 L368.7,473.81 L369.05,473.25 L369.4,472.82 L369.75,472.57 L370.1,472.5 L370.45,472.64 L370.8,472.95 L371.15,473.43 L371.5,474.04 L371.85,474.73 L372.2,475.46 L372.55,476.17 L372.9,476.8 L373.25,477.32 L373.6,477.69 L373.95,477.88 L374.3,477.87 L374.65,477.67 L375,477.29 L375.35,476.76 L375.7,476.12 L376.05,475.41 L376.4,474.68 L376.75,474 L377.1,473.39 L377.45,472.92 L377.8,472.62 L378.15,472.5 L378.5,472.58 L378.85,472.84 L379.2,473.28 L379.55,473.86 L379.9,474.53 L380.25,475.25 L380.6,475.97 L380.95,476.63 L381.3,477.19 L381.65,477.6 L382,477.84 L382.35,477.89 L382.7,477.75 L383.05,477.42 L383.4,476.93 L383.75,476.31 L384.1,475.61 L384.45,474.89 L384.8,474.18 L385.15,473.55 L385.5,473.04 L385.85,472.69 L386.2,472.52 L386.55,472.54 L386.9,472.75 L387.25,473.14 L387.6,473.68 L387.95,474.33 L388.3,475.04 L388.65,475.77 L389,476.45 L389.35,477.04 L389.7,477.5 L390.05,477.8 L390.4,477.9 L390.75,477.81 L391.1,477.53 L391.45,477.08 L391.8,476.5 L392.15,475.82 L392.5,475.1 L392.85,474.38 L393.2,473.72 L393.55,473.18 L393.9,472.77 L394.25,472.55 L394.6,472.51 L394.95,472.67 L395.3,473.01 L395.65,473.51 L396,474.14 L396.35,474.84 L396.7,475.56 L397.05,476.26 L397.4,476.89 L397.75,477.39 L398.1,477.73 L398.45,477.89 L398.8,477.85 L399.15,477.63 L399.5,477.22 L399.85,476.68 L400.2,476.02 L400.55,475.3 L400.9,474.58 L401.25,473.9 L401.6,473.32 L401.95,472.87 L402.3,472.59 L402.65,472.5 L403,472.6 L403.35,472.9 L403.7,473.36 L404.05,473.95 L404.4,474.63 L404.75,475.36 L405.1,476.07 L405.45,476.72 L405.8,477.26 L406.15,477.65 L406.5,477.86 L406.85,477.88 L407.2,477.71 L407.55,477.36 L407.9,476.85 L408.25,476.22 L408.6,475.51 L408.95,474.79 L409.3,474.09 L409.65,473.47 L410,472.98 L410.35,472.65 L410.7,472.51 L411.05,472.56 L411.4,472.8 L411.75,473.21 L412.1,473.77 L412.45,474.43 L412.8,475.15 L413.15,475.87 L413.5,476.54 L413.85,477.12 L414.2,477.56 L414.55,477.82 L414.9,477.9 L415.25,477.78 L415.6,477.48 L415.95,477.01 L416.3,476.4 L416.65,475.72 L417,474.99 L417.35,474.28 L417.7,473.64 L418.05,473.11 L418.4,472.73 L418.75,472.53 L419.1,472.52 L419.45,472.71 L419.8,473.08" fill="none" stroke="#3565a6" stroke-width="0.95"/>
<path d="M265.6,471.0 L265.6,465.5 L279.0,465.5" fill="none" stroke="#222" stroke-width="0.6" marker-end="url(#ah)"/>
<path d="M396.3,472.4 L396.3,464.7 L417.0,464.7" fill="none" stroke="#111" stroke-width="1.5" marker-end="url(#ahbig)"/>
<text x="317.1" y="466.7" font-size="7.1" text-anchor="middle" fill="#231f20" stroke="#231f20" stroke-width="0.22" textLength="64.2" lengthAdjust="spacingAndGlyphs">Genes transcription:</text>
<text x="317.6" y="475.4" font-size="7.1" text-anchor="middle" fill="#231f20" stroke="#231f20" stroke-width="0.22" textLength="44" lengthAdjust="spacingAndGlyphs">cell activation</text>
<text x="317.9" y="483" font-size="7.1" text-anchor="middle" fill="#231f20" stroke="#231f20" stroke-width="0.22" textLength="51.6" lengthAdjust="spacingAndGlyphs">cell proliferation</text>
<text x="320" y="491.2" font-size="7.1" text-anchor="middle" fill="#231f20" stroke="#231f20" stroke-width="0.22" textLength="80" lengthAdjust="spacingAndGlyphs">IL2/IFNγ/GzmB/Perforin</text>
<text x="301.75" y="505.2" font-size="7.9" text-anchor="middle" fill="#231f20" stroke="#231f20" stroke-width="0.22" textLength="51" lengthAdjust="spacingAndGlyphs">Sufficient CD59</text>
<text x="456.8" y="466.6" font-size="7.1" text-anchor="middle" fill="#231f20" stroke="#231f20" stroke-width="0.22" textLength="65.6" lengthAdjust="spacingAndGlyphs">Genes transcription:</text>
<text x="456.8" y="475.1" font-size="7.1" text-anchor="middle" fill="#231f20" stroke="#231f20" stroke-width="0.22" textLength="44.4" lengthAdjust="spacingAndGlyphs">cell activation</text>
<text x="456.8" y="483.6" font-size="7.1" text-anchor="middle" fill="#231f20" stroke="#231f20" stroke-width="0.22" textLength="50.8" lengthAdjust="spacingAndGlyphs">cell proliferation</text>
<text x="459.45" y="491.4" font-size="7.1" text-anchor="middle" fill="#231f20" stroke="#231f20" stroke-width="0.22" textLength="79.3" lengthAdjust="spacingAndGlyphs">IL2/IFNγ/GzmB/Perforin</text>
<text x="443.6" y="505.3" font-size="7.9" text-anchor="middle" fill="#231f20" stroke="#231f20" stroke-width="0.22" textLength="56" lengthAdjust="spacingAndGlyphs">Insufficient CD59</text>
<path d="M481.9,477.2 L481.9,473" fill="none" stroke="#e0262a" stroke-width="1.4"/>
<path d="M479.9,473.8 L481.9,470.7 L483.9,473.8 Z" fill="#e0262a"/>
<path d="M485.4,485.6 L485.4,481.4" fill="none" stroke="#e0262a" stroke-width="1.4"/>
<path d="M483.4,482.2 L485.4,479.1 L487.4,482.2 Z" fill="#e0262a"/>
<path d="M502.5,493.4 L502.5,489.2" fill="none" stroke="#e0262a" stroke-width="1.4"/>
<path d="M500.5,490 L502.5,486.9 L504.5,490 Z" fill="#e0262a"/>
</svg></body></html>
